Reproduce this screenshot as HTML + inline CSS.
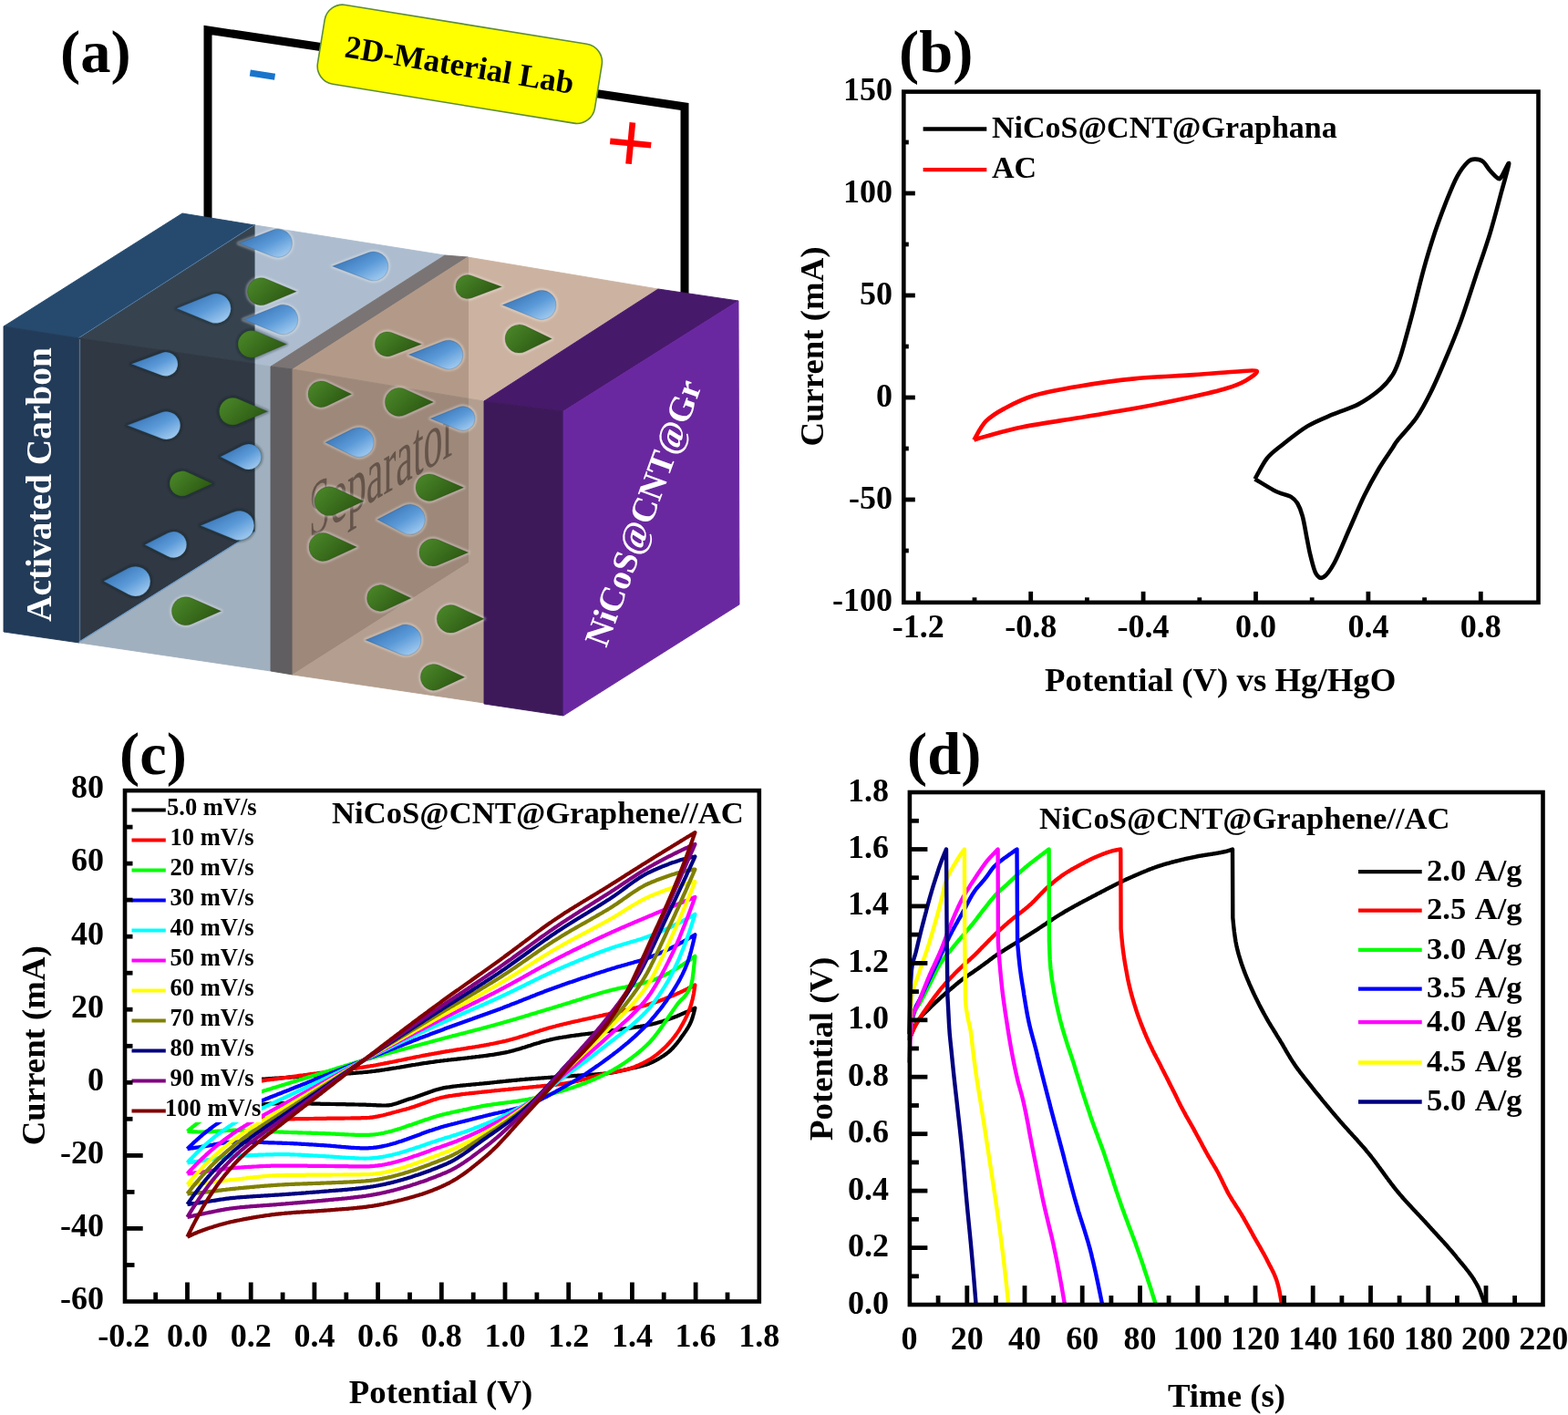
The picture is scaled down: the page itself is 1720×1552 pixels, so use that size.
<!DOCTYPE html>
<html><head><meta charset="utf-8"><title>Figure</title>
<style>html,body{margin:0;padding:0;background:#fff;}svg{display:block;}</style>
</head><body>
<svg width="1720" height="1552" viewBox="0 0 1720 1552">
<rect width="1720" height="1552" fill="#ffffff"/>
<defs><linearGradient id="gb" x1="0" y1="0" x2="1" y2="1"><stop offset="0" stop-color="#2a64a8"/><stop offset="0.55" stop-color="#5b9ad8"/><stop offset="1" stop-color="#b3d7f6"/></linearGradient><linearGradient id="gg" x1="0" y1="0" x2="1" y2="0.6"><stop offset="0" stop-color="#4c8a2a"/><stop offset="1" stop-color="#2c5812"/></linearGradient><filter id="hb" x="-20%" y="-20%" width="140%" height="140%"><feGaussianBlur stdDeviation="1"/></filter></defs>
<polyline points="228,245 228,33 355,52" fill="none" stroke="#000" stroke-width="9" stroke-linejoin="miter"/>
<polyline points="650,102 751,117 751,322" fill="none" stroke="#000" stroke-width="9" stroke-linejoin="miter"/>
<g transform="translate(504.4,69.8) rotate(9.2)"><rect x="-154" y="-43.5" width="308" height="88" rx="20" fill="#ffff00" stroke="#5e8c3a" stroke-width="1.6"/><text x="0" y="13" text-anchor="middle" font-family="Liberation Serif, serif" font-weight="bold" font-size="35">2D-Material Lab</text></g>
<text transform="translate(288.1,81.2) rotate(8.6) scale(1,1.3)" x="0" y="15.6" text-anchor="middle" font-family="Liberation Sans, sans-serif" font-weight="bold" font-size="55.6" fill="#1a74cc">&#8211;</text>
<text transform="translate(691.7,156.9) rotate(5.5)" x="0" y="31.2" text-anchor="middle" font-family="Liberation Sans, sans-serif" font-size="93" fill="#ff0000">+</text>
<polygon points="4.0,358.0 200.0,234.0 280.0,247.0 87.0,371.0" fill="#264a6e" stroke="#264a6e" stroke-width="0.9" stroke-linejoin="round"/>
<polygon points="4.0,358.0 87.0,371.0 87.0,705.0 4.0,693.0" fill="#223b58" stroke="#223b58" stroke-width="0.9" stroke-linejoin="round"/>
<line x1="87" y1="371" x2="280" y2="247" stroke="#6d9bc8" stroke-width="2"/>
<polygon points="87.0,371.0 280.0,247.0 280.0,399.0" fill="#36434f" stroke="#36434f" stroke-width="0.9" stroke-linejoin="round"/>
<polygon points="87.0,371.0 280.0,399.0 280.0,583.0 87.0,704.0" fill="#2f3843" stroke="#2f3843" stroke-width="0.9" stroke-linejoin="round"/>
<line x1="87.5" y1="372" x2="87.5" y2="704" stroke="#51708f" stroke-width="1.4"/>
<polygon points="280.0,247.0 488.0,280.0 297.0,402.0 280.0,399.5" fill="#adbdcf" stroke="#adbdcf" stroke-width="0.9" stroke-linejoin="round"/>
<polygon points="87.0,704.0 280.0,583.0 280.0,399.5 297.0,402.0 297.0,736.0 87.0,705.0" fill="#a1b0be" stroke="#a1b0be" stroke-width="0.9" stroke-linejoin="round"/>
<line x1="87" y1="704" x2="280" y2="583" stroke="#6d9bc8" stroke-width="1.2"/>
<polygon points="297.0,402.0 488.0,280.0 513.0,282.0 321.0,405.0" fill="#7a7474" stroke="#7a7474" stroke-width="0.9" stroke-linejoin="round"/>
<polygon points="297.0,402.0 321.0,405.0 321.0,740.0 297.0,736.0" fill="#605e60" stroke="#605e60" stroke-width="0.9" stroke-linejoin="round"/>
<polygon points="321.0,405.0 513.0,282.0 514.5,282.3 514.5,437.4" fill="#b39a88" stroke="#b39a88" stroke-width="0.9" stroke-linejoin="round"/>
<polygon points="514.5,282.3 722.0,317.0 531.0,440.0 514.5,437.4" fill="#ccb3a1" stroke="#ccb3a1" stroke-width="0.9" stroke-linejoin="round"/>
<polygon points="321.0,405.0 514.5,437.4 514.5,617.0 321.0,740.0" fill="#9d887a" stroke="#9d887a" stroke-width="0.9" stroke-linejoin="round"/>
<polygon points="321.0,740.0 514.5,617.0 514.5,437.4 531.0,440.0 531.0,771.0" fill="#b39e8f" stroke="#b39e8f" stroke-width="0.9" stroke-linejoin="round"/>
<text transform="matrix(0.487,-0.287,0,1,339,591)" font-family="Liberation Serif, serif" font-size="86" fill="#5f4f45" fill-opacity="0.92">Separator</text>
<polygon points="531.0,440.0 722.0,317.0 810.0,330.0 618.0,451.0" fill="#47196b" stroke="#47196b" stroke-width="0.9" stroke-linejoin="round"/>
<polygon points="531.0,440.0 618.0,451.0 618.0,785.0 531.0,772.0" fill="#3d195a" stroke="#3d195a" stroke-width="0.9" stroke-linejoin="round"/>
<polygon points="618.0,451.0 810.0,330.0 811.0,663.0 618.0,785.0" fill="#6a28a0" stroke="#6a28a0" stroke-width="0.9" stroke-linejoin="round"/>
<text transform="translate(56,531.6) rotate(-90)" text-anchor="middle" font-family="Liberation Serif, serif" font-weight="bold" font-size="39.4" fill="#ffffff">Activated Carbon</text>
<text transform="translate(717.5,567) rotate(-70)" text-anchor="middle" font-family="Liberation Serif, serif" font-weight="bold" font-size="38.5" fill="#ffffff">NiCoS@CNT@Gr</text>
<path d="M261.7,266.8 L299.5,252.3 A15.5,15.5 0 1 1 299.5,281.3 Z" fill="none" stroke="#ffffff" stroke-opacity="0.35" stroke-width="4" stroke-linejoin="round" filter="url(#hb)"/>
<path d="M261.7,266.8 L299.5,252.3 A15.5,15.5 0 1 1 299.5,281.3 Z" fill="url(#gb)" stroke="#1d2a36" stroke-opacity="0.18" stroke-width="1.2"/>
<path d="M364.7,292.0 L404.4,277.1 A15.9,15.9 0 1 1 404.4,306.9 Z" fill="none" stroke="#ffffff" stroke-opacity="0.35" stroke-width="4" stroke-linejoin="round" filter="url(#hb)"/>
<path d="M364.7,292.0 L404.4,277.1 A15.9,15.9 0 1 1 404.4,306.9 Z" fill="url(#gb)" stroke="#1d2a36" stroke-opacity="0.18" stroke-width="1.2"/>
<path d="M193.6,338.3 L230.9,323.2 A16.3,16.3 0 1 1 230.9,353.4 Z" fill="none" stroke="#10161c" stroke-opacity="0.3" stroke-width="4" stroke-linejoin="round" filter="url(#hb)"/>
<path d="M193.6,338.3 L230.9,323.2 A16.3,16.3 0 1 1 230.9,353.4 Z" fill="url(#gb)" stroke="#1d2a36" stroke-opacity="0.18" stroke-width="1.2"/>
<path d="M267.0,350.5 L304.5,335.5 A16.2,16.2 0 1 1 304.5,365.5 Z" fill="none" stroke="#ffffff" stroke-opacity="0.35" stroke-width="4" stroke-linejoin="round" filter="url(#hb)"/>
<path d="M267.0,350.5 L304.5,335.5 A16.2,16.2 0 1 1 304.5,365.5 Z" fill="url(#gb)" stroke="#1d2a36" stroke-opacity="0.18" stroke-width="1.2"/>
<path d="M144.0,399.3 L177.4,386.9 A13.2,13.2 0 1 1 177.4,411.7 Z" fill="none" stroke="#10161c" stroke-opacity="0.3" stroke-width="4" stroke-linejoin="round" filter="url(#hb)"/>
<path d="M144.0,399.3 L177.4,386.9 A13.2,13.2 0 1 1 177.4,411.7 Z" fill="url(#gb)" stroke="#1d2a36" stroke-opacity="0.18" stroke-width="1.2"/>
<path d="M448.4,389.1 L486.2,374.3 A15.9,15.9 0 1 1 486.2,403.9 Z" fill="none" stroke="#ffffff" stroke-opacity="0.35" stroke-width="4" stroke-linejoin="round" filter="url(#hb)"/>
<path d="M448.4,389.1 L486.2,374.3 A15.9,15.9 0 1 1 486.2,403.9 Z" fill="url(#gb)" stroke="#1d2a36" stroke-opacity="0.18" stroke-width="1.2"/>
<path d="M472.3,459.0 L502.7,446.7 A13.3,13.3 0 1 1 502.7,471.3 Z" fill="none" stroke="#ffffff" stroke-opacity="0.35" stroke-width="4" stroke-linejoin="round" filter="url(#hb)"/>
<path d="M472.3,459.0 L502.7,446.7 A13.3,13.3 0 1 1 502.7,471.3 Z" fill="url(#gb)" stroke="#1d2a36" stroke-opacity="0.18" stroke-width="1.2"/>
<path d="M139.4,466.6 L177.1,452.3 A15.3,15.3 0 1 1 177.1,480.9 Z" fill="none" stroke="#10161c" stroke-opacity="0.3" stroke-width="4" stroke-linejoin="round" filter="url(#hb)"/>
<path d="M139.4,466.6 L177.1,452.3 A15.3,15.3 0 1 1 177.1,480.9 Z" fill="url(#gb)" stroke="#1d2a36" stroke-opacity="0.18" stroke-width="1.2"/>
<path d="M357.0,485.2 L386.6,470.6 A16.3,16.3 0 1 1 386.6,499.8 Z" fill="none" stroke="#ffffff" stroke-opacity="0.35" stroke-width="4" stroke-linejoin="round" filter="url(#hb)"/>
<path d="M357.0,485.2 L386.6,470.6 A16.3,16.3 0 1 1 386.6,499.8 Z" fill="url(#gb)" stroke="#1d2a36" stroke-opacity="0.18" stroke-width="1.2"/>
<path d="M241.6,501.0 L266.3,488.5 A14.0,14.0 0 1 1 266.3,513.5 Z" fill="none" stroke="#10161c" stroke-opacity="0.3" stroke-width="4" stroke-linejoin="round" filter="url(#hb)"/>
<path d="M241.6,501.0 L266.3,488.5 A14.0,14.0 0 1 1 266.3,513.5 Z" fill="url(#gb)" stroke="#1d2a36" stroke-opacity="0.18" stroke-width="1.2"/>
<path d="M413.9,569.8 L442.3,555.1 A16.5,16.5 0 1 1 442.3,584.5 Z" fill="none" stroke="#ffffff" stroke-opacity="0.35" stroke-width="4" stroke-linejoin="round" filter="url(#hb)"/>
<path d="M413.9,569.8 L442.3,555.1 A16.5,16.5 0 1 1 442.3,584.5 Z" fill="url(#gb)" stroke="#1d2a36" stroke-opacity="0.18" stroke-width="1.2"/>
<path d="M219.8,576.4 L256.5,561.4 A16.2,16.2 0 1 1 256.5,591.4 Z" fill="none" stroke="#10161c" stroke-opacity="0.3" stroke-width="4" stroke-linejoin="round" filter="url(#hb)"/>
<path d="M219.8,576.4 L256.5,561.4 A16.2,16.2 0 1 1 256.5,591.4 Z" fill="url(#gb)" stroke="#1d2a36" stroke-opacity="0.18" stroke-width="1.2"/>
<path d="M158.7,597.4 L184.1,584.6 A14.3,14.3 0 1 1 184.1,610.2 Z" fill="none" stroke="#10161c" stroke-opacity="0.3" stroke-width="4" stroke-linejoin="round" filter="url(#hb)"/>
<path d="M158.7,597.4 L184.1,584.6 A14.3,14.3 0 1 1 184.1,610.2 Z" fill="url(#gb)" stroke="#1d2a36" stroke-opacity="0.18" stroke-width="1.2"/>
<path d="M113.5,637.6 L140.9,623.1 A16.4,16.4 0 1 1 140.9,652.1 Z" fill="none" stroke="#10161c" stroke-opacity="0.3" stroke-width="4" stroke-linejoin="round" filter="url(#hb)"/>
<path d="M113.5,637.6 L140.9,623.1 A16.4,16.4 0 1 1 140.9,652.1 Z" fill="url(#gb)" stroke="#1d2a36" stroke-opacity="0.18" stroke-width="1.2"/>
<path d="M401.0,701.9 L438.7,686.4 A16.8,16.8 0 1 1 438.7,717.4 Z" fill="none" stroke="#ffffff" stroke-opacity="0.35" stroke-width="4" stroke-linejoin="round" filter="url(#hb)"/>
<path d="M401.0,701.9 L438.7,686.4 A16.8,16.8 0 1 1 438.7,717.4 Z" fill="url(#gb)" stroke="#1d2a36" stroke-opacity="0.18" stroke-width="1.2"/>
<path d="M551.2,334.5 L588.0,319.7 A16.0,16.0 0 1 1 588.0,349.3 Z" fill="none" stroke="#ffffff" stroke-opacity="0.35" stroke-width="4" stroke-linejoin="round" filter="url(#hb)"/>
<path d="M551.2,334.5 L588.0,319.7 A16.0,16.0 0 1 1 588.0,349.3 Z" fill="url(#gb)" stroke="#1d2a36" stroke-opacity="0.18" stroke-width="1.2"/>
<path d="M325.2,319.8 L292.3,306.0 A15.0,15.0 0 1 0 292.3,333.6 Z" fill="none" stroke="#ffffff" stroke-opacity="0.35" stroke-width="4" stroke-linejoin="round" filter="url(#hb)"/>
<path d="M325.2,319.8 L292.3,306.0 A15.0,15.0 0 1 0 292.3,333.6 Z" fill="url(#gg)" stroke="#1d2a16" stroke-opacity="0.2" stroke-width="1.2"/>
<path d="M314.1,377.5 L281.8,363.7 A15.0,15.0 0 1 0 281.8,391.3 Z" fill="none" stroke="#10161c" stroke-opacity="0.3" stroke-width="4" stroke-linejoin="round" filter="url(#hb)"/>
<path d="M314.1,377.5 L281.8,363.7 A15.0,15.0 0 1 0 281.8,391.3 Z" fill="url(#gg)" stroke="#1d2a16" stroke-opacity="0.2" stroke-width="1.2"/>
<path d="M550.3,314.6 L517.5,302.4 A13.0,13.0 0 1 0 517.5,326.8 Z" fill="none" stroke="#ffffff" stroke-opacity="0.35" stroke-width="4" stroke-linejoin="round" filter="url(#hb)"/>
<path d="M550.3,314.6 L517.5,302.4 A13.0,13.0 0 1 0 517.5,326.8 Z" fill="url(#gg)" stroke="#1d2a16" stroke-opacity="0.2" stroke-width="1.2"/>
<path d="M605.2,371.6 L576.2,357.6 A15.5,15.5 0 1 0 576.2,385.6 Z" fill="none" stroke="#ffffff" stroke-opacity="0.35" stroke-width="4" stroke-linejoin="round" filter="url(#hb)"/>
<path d="M605.2,371.6 L576.2,357.6 A15.5,15.5 0 1 0 576.2,385.6 Z" fill="url(#gg)" stroke="#1d2a16" stroke-opacity="0.2" stroke-width="1.2"/>
<path d="M462.3,377.4 L429.7,364.8 A13.5,13.5 0 1 0 429.7,390.0 Z" fill="none" stroke="#ffffff" stroke-opacity="0.35" stroke-width="4" stroke-linejoin="round" filter="url(#hb)"/>
<path d="M462.3,377.4 L429.7,364.8 A13.5,13.5 0 1 0 429.7,390.0 Z" fill="url(#gg)" stroke="#1d2a16" stroke-opacity="0.2" stroke-width="1.2"/>
<path d="M385.6,432.3 L358.6,419.3 A14.4,14.4 0 1 0 358.6,445.3 Z" fill="none" stroke="#ffffff" stroke-opacity="0.35" stroke-width="4" stroke-linejoin="round" filter="url(#hb)"/>
<path d="M385.6,432.3 L358.6,419.3 A14.4,14.4 0 1 0 358.6,445.3 Z" fill="url(#gg)" stroke="#1d2a16" stroke-opacity="0.2" stroke-width="1.2"/>
<path d="M475.4,441.0 L444.3,426.9 A15.5,15.5 0 1 0 444.3,455.1 Z" fill="none" stroke="#ffffff" stroke-opacity="0.35" stroke-width="4" stroke-linejoin="round" filter="url(#hb)"/>
<path d="M475.4,441.0 L444.3,426.9 A15.5,15.5 0 1 0 444.3,455.1 Z" fill="url(#gg)" stroke="#1d2a16" stroke-opacity="0.2" stroke-width="1.2"/>
<path d="M293.3,451.3 L261.3,437.5 A15.0,15.0 0 1 0 261.3,465.1 Z" fill="none" stroke="#10161c" stroke-opacity="0.3" stroke-width="4" stroke-linejoin="round" filter="url(#hb)"/>
<path d="M293.3,451.3 L261.3,437.5 A15.0,15.0 0 1 0 261.3,465.1 Z" fill="url(#gg)" stroke="#1d2a16" stroke-opacity="0.2" stroke-width="1.2"/>
<path d="M233.2,530.4 L205.4,517.8 A13.8,13.8 0 1 0 205.4,543.0 Z" fill="none" stroke="#10161c" stroke-opacity="0.3" stroke-width="4" stroke-linejoin="round" filter="url(#hb)"/>
<path d="M233.2,530.4 L205.4,517.8 A13.8,13.8 0 1 0 205.4,543.0 Z" fill="url(#gg)" stroke="#1d2a16" stroke-opacity="0.2" stroke-width="1.2"/>
<path d="M508.6,534.7 L476.7,521.1 A14.8,14.8 0 1 0 476.7,548.3 Z" fill="none" stroke="#ffffff" stroke-opacity="0.35" stroke-width="4" stroke-linejoin="round" filter="url(#hb)"/>
<path d="M508.6,534.7 L476.7,521.1 A14.8,14.8 0 1 0 476.7,548.3 Z" fill="url(#gg)" stroke="#1d2a16" stroke-opacity="0.2" stroke-width="1.2"/>
<path d="M398.8,549.7 L367.8,535.3 A15.9,15.9 0 1 0 367.8,564.1 Z" fill="none" stroke="#ffffff" stroke-opacity="0.35" stroke-width="4" stroke-linejoin="round" filter="url(#hb)"/>
<path d="M398.8,549.7 L367.8,535.3 A15.9,15.9 0 1 0 367.8,564.1 Z" fill="url(#gg)" stroke="#1d2a16" stroke-opacity="0.2" stroke-width="1.2"/>
<path d="M391.3,600.0 L360.9,585.9 A15.5,15.5 0 1 0 360.9,614.1 Z" fill="none" stroke="#ffffff" stroke-opacity="0.35" stroke-width="4" stroke-linejoin="round" filter="url(#hb)"/>
<path d="M391.3,600.0 L360.9,585.9 A15.5,15.5 0 1 0 360.9,614.1 Z" fill="url(#gg)" stroke="#1d2a16" stroke-opacity="0.2" stroke-width="1.2"/>
<path d="M513.6,605.9 L480.8,592.1 A15.0,15.0 0 1 0 480.8,619.7 Z" fill="none" stroke="#ffffff" stroke-opacity="0.35" stroke-width="4" stroke-linejoin="round" filter="url(#hb)"/>
<path d="M513.6,605.9 L480.8,592.1 A15.0,15.0 0 1 0 480.8,619.7 Z" fill="url(#gg)" stroke="#1d2a16" stroke-opacity="0.2" stroke-width="1.2"/>
<path d="M242.5,670.3 L210.1,656.1 A15.5,15.5 0 1 0 210.1,684.5 Z" fill="none" stroke="#ffffff" stroke-opacity="0.35" stroke-width="4" stroke-linejoin="round" filter="url(#hb)"/>
<path d="M242.5,670.3 L210.1,656.1 A15.5,15.5 0 1 0 210.1,684.5 Z" fill="url(#gg)" stroke="#1d2a16" stroke-opacity="0.2" stroke-width="1.2"/>
<path d="M450.9,656.0 L422.9,642.9 A14.4,14.4 0 1 0 422.9,669.1 Z" fill="none" stroke="#ffffff" stroke-opacity="0.35" stroke-width="4" stroke-linejoin="round" filter="url(#hb)"/>
<path d="M450.9,656.0 L422.9,642.9 A14.4,14.4 0 1 0 422.9,669.1 Z" fill="url(#gg)" stroke="#1d2a16" stroke-opacity="0.2" stroke-width="1.2"/>
<path d="M531.0,678.8 L500.9,664.9 A15.3,15.3 0 1 0 500.9,692.7 Z" fill="none" stroke="#ffffff" stroke-opacity="0.35" stroke-width="4" stroke-linejoin="round" filter="url(#hb)"/>
<path d="M531.0,678.8 L500.9,664.9 A15.3,15.3 0 1 0 500.9,692.7 Z" fill="url(#gg)" stroke="#1d2a16" stroke-opacity="0.2" stroke-width="1.2"/>
<path d="M509.7,742.8 L481.9,729.8 A14.4,14.4 0 1 0 481.9,755.8 Z" fill="none" stroke="#ffffff" stroke-opacity="0.35" stroke-width="4" stroke-linejoin="round" filter="url(#hb)"/>
<path d="M509.7,742.8 L481.9,729.8 A14.4,14.4 0 1 0 481.9,755.8 Z" fill="url(#gg)" stroke="#1d2a16" stroke-opacity="0.2" stroke-width="1.2"/>
<text x="66" y="78.5" font-family="Liberation Serif, serif" font-weight="bold" font-size="66.5">(a)</text>
<path d="M1068.4,482.6 C1070.5,479.2 1075.8,468.0 1081.3,462.2 C1086.9,456.5 1092.9,452.8 1101.7,448.1 C1110.5,443.4 1120.8,437.8 1134.4,433.8 C1148.0,429.7 1164.8,426.7 1183.1,423.7 C1201.4,420.6 1223.9,417.4 1244.2,415.4 C1264.6,413.3 1287.0,412.6 1305.3,411.4 C1323.6,410.1 1341.9,408.5 1354.1,407.8 C1366.2,407.0 1376.4,405.3 1378.4,406.9 C1380.5,408.5 1371.8,414.3 1366.4,417.4 C1361.0,420.5 1356.2,422.6 1346.0,425.7 C1335.9,428.8 1322.3,432.0 1305.3,435.8 C1288.3,439.5 1264.6,444.4 1244.2,448.1 C1223.9,451.8 1203.5,454.8 1183.1,458.2 C1162.8,461.5 1139.0,464.9 1122.1,468.3 C1105.1,471.7 1090.3,476.2 1081.3,478.6 C1072.4,480.9 1070.5,481.9 1068.4,482.6" fill="none" stroke="#ff0000" stroke-width="4.6" stroke-linejoin="round"/>
<path d="M1376.6,525.4 C1378.8,521.6 1384.9,509.0 1389.8,502.8 C1394.8,496.5 1399.1,493.9 1406.5,488.0 C1413.9,482.1 1425.0,473.0 1434.3,467.4 C1443.6,461.8 1453.0,458.4 1462.3,454.4 C1471.6,450.4 1481.4,448.0 1490.1,443.4 C1498.8,438.8 1508.3,431.9 1514.5,426.6 C1520.7,421.3 1524.0,416.8 1527.4,411.6 C1530.8,406.3 1532.7,400.6 1534.8,395.0 C1536.9,389.4 1537.7,386.2 1540.1,377.8 C1542.5,369.3 1545.7,357.9 1549.3,344.2 C1552.9,330.4 1557.6,310.2 1561.7,295.3 C1565.8,280.4 1570.0,267.0 1574.0,254.8 C1578.1,242.6 1582.0,232.3 1586.0,222.1 C1590.1,211.9 1594.3,201.1 1598.4,193.6 C1602.4,186.2 1607.0,180.5 1610.4,177.3 C1613.8,174.1 1616.0,174.6 1618.7,174.6 C1621.5,174.6 1624.1,175.1 1626.8,177.3 C1629.4,179.4 1632.1,184.5 1634.8,187.6 C1637.5,190.6 1641.1,194.6 1643.1,195.6 C1645.2,196.7 1645.1,196.4 1647.1,193.6 C1649.1,190.9 1655.2,176.6 1655.2,179.3 C1655.2,182.0 1650.5,197.4 1647.1,210.0 C1643.7,222.6 1639.5,239.2 1634.8,254.8 C1630.1,270.4 1624.1,287.2 1618.7,303.4 C1613.3,319.6 1607.8,337.3 1602.4,352.2 C1596.9,367.2 1591.5,380.1 1586.0,393.0 C1580.6,405.9 1575.1,418.9 1569.7,429.7 C1564.3,440.6 1559.7,449.4 1553.7,458.2 C1547.6,467.0 1537.7,477.0 1533.3,482.6 C1528.9,488.2 1530.9,486.3 1527.4,491.6 C1524.0,496.8 1517.8,505.3 1512.6,514.0 C1507.5,522.6 1502.0,532.5 1496.6,543.5 C1491.2,554.6 1485.7,568.0 1480.2,580.3 C1474.8,592.5 1468.6,608.2 1463.9,617.0 C1459.1,625.8 1455.2,631.1 1451.8,633.1 C1448.5,635.1 1445.9,633.2 1443.5,629.1 C1441.1,625.0 1439.0,615.1 1437.3,608.7 C1435.7,602.3 1435.1,597.7 1433.6,590.6 C1432.2,583.4 1430.5,572.3 1428.7,565.9 C1427.0,559.5 1425.3,555.5 1423.2,552.0 C1421.0,548.5 1418.8,546.6 1416.1,544.9 C1413.3,543.1 1409.9,542.9 1406.8,541.7 C1403.7,540.5 1402.3,540.4 1397.2,537.7 C1392.2,535.0 1380.0,527.4 1376.6,525.4" fill="none" stroke="#000" stroke-width="4.6" stroke-linejoin="round"/>
<rect x="991.3" y="100.6" width="696.2" height="560.2" fill="none" stroke="#000" stroke-width="4.6"/>
<text x="979.0" y="670.2" font-family="Liberation Serif, serif" font-weight="bold" font-size="36" text-anchor="end">-100</text>
<line x1="991.3" y1="604.0" x2="996.8" y2="604.0" stroke="#000" stroke-width="4.8"/>
<line x1="991.3" y1="548.0" x2="1003.8" y2="548.0" stroke="#000" stroke-width="4.8"/>
<text x="979.0" y="558.2" font-family="Liberation Serif, serif" font-weight="bold" font-size="36" text-anchor="end">-50</text>
<line x1="991.3" y1="492.0" x2="996.8" y2="492.0" stroke="#000" stroke-width="4.8"/>
<line x1="991.3" y1="436.0" x2="1003.8" y2="436.0" stroke="#000" stroke-width="4.8"/>
<text x="979.0" y="446.2" font-family="Liberation Serif, serif" font-weight="bold" font-size="36" text-anchor="end">0</text>
<line x1="991.3" y1="380.0" x2="996.8" y2="380.0" stroke="#000" stroke-width="4.8"/>
<line x1="991.3" y1="324.0" x2="1003.8" y2="324.0" stroke="#000" stroke-width="4.8"/>
<text x="979.0" y="334.2" font-family="Liberation Serif, serif" font-weight="bold" font-size="36" text-anchor="end">50</text>
<line x1="991.3" y1="268.0" x2="996.8" y2="268.0" stroke="#000" stroke-width="4.8"/>
<line x1="991.3" y1="212.0" x2="1003.8" y2="212.0" stroke="#000" stroke-width="4.8"/>
<text x="979.0" y="222.2" font-family="Liberation Serif, serif" font-weight="bold" font-size="36" text-anchor="end">100</text>
<line x1="991.3" y1="156.0" x2="996.8" y2="156.0" stroke="#000" stroke-width="4.8"/>
<text x="979.0" y="110.2" font-family="Liberation Serif, serif" font-weight="bold" font-size="36" text-anchor="end">150</text>
<line x1="1007.3" y1="660.8" x2="1007.3" y2="648.8" stroke="#000" stroke-width="4.8"/>
<text x="1007.3" y="698.5" font-family="Liberation Serif, serif" font-weight="bold" font-size="36" text-anchor="middle">-1.2</text>
<line x1="1069.0" y1="660.8" x2="1069.0" y2="655.3" stroke="#000" stroke-width="4.8"/>
<line x1="1130.7" y1="660.8" x2="1130.7" y2="648.8" stroke="#000" stroke-width="4.8"/>
<text x="1130.7" y="698.5" font-family="Liberation Serif, serif" font-weight="bold" font-size="36" text-anchor="middle">-0.8</text>
<line x1="1192.4" y1="660.8" x2="1192.4" y2="655.3" stroke="#000" stroke-width="4.8"/>
<line x1="1254.1" y1="660.8" x2="1254.1" y2="648.8" stroke="#000" stroke-width="4.8"/>
<text x="1254.1" y="698.5" font-family="Liberation Serif, serif" font-weight="bold" font-size="36" text-anchor="middle">-0.4</text>
<line x1="1315.8" y1="660.8" x2="1315.8" y2="655.3" stroke="#000" stroke-width="4.8"/>
<line x1="1377.5" y1="660.8" x2="1377.5" y2="648.8" stroke="#000" stroke-width="4.8"/>
<text x="1377.5" y="698.5" font-family="Liberation Serif, serif" font-weight="bold" font-size="36" text-anchor="middle">0.0</text>
<line x1="1439.2" y1="660.8" x2="1439.2" y2="655.3" stroke="#000" stroke-width="4.8"/>
<line x1="1500.9" y1="660.8" x2="1500.9" y2="648.8" stroke="#000" stroke-width="4.8"/>
<text x="1500.9" y="698.5" font-family="Liberation Serif, serif" font-weight="bold" font-size="36" text-anchor="middle">0.4</text>
<line x1="1562.6" y1="660.8" x2="1562.6" y2="655.3" stroke="#000" stroke-width="4.8"/>
<line x1="1624.3" y1="660.8" x2="1624.3" y2="648.8" stroke="#000" stroke-width="4.8"/>
<text x="1624.3" y="698.5" font-family="Liberation Serif, serif" font-weight="bold" font-size="36" text-anchor="middle">0.8</text>
<text transform="translate(903,380) rotate(-90)" font-family="Liberation Serif, serif" font-weight="bold" font-size="36.8" text-anchor="middle">Current (mA)</text>
<text x="1338.7" y="757.5" font-family="Liberation Serif, serif" font-weight="bold" font-size="36.8" text-anchor="middle">Potential (V) vs Hg/HgO</text>
<line x1="1012.6" y1="141.5" x2="1082.3" y2="141.5" stroke="#000" stroke-width="4.3"/>
<text x="1088.0" y="151.3" font-family="Liberation Serif, serif" font-weight="bold" font-size="34" text-anchor="start">NiCoS@CNT@Graphana</text>
<line x1="1012.6" y1="186.2" x2="1082.3" y2="186.2" stroke="#ff0000" stroke-width="4.3"/>
<text x="1088.0" y="194.5" font-family="Liberation Serif, serif" font-weight="bold" font-size="34" text-anchor="start">AC</text>
<text x="986" y="78.5" font-family="Liberation Serif, serif" font-weight="bold" font-size="66.5">(b)</text>
<path d="M205.5,1215.3 L206.9,1214.1 L208.3,1213.0 L209.7,1211.9 L211.1,1210.8 L212.5,1209.7 L213.9,1208.7 L215.3,1207.6 L216.7,1206.7 L218.1,1205.7 L219.5,1204.7 L220.9,1203.8 L222.2,1202.9 L223.6,1202.1 L225.0,1201.2 L226.4,1200.4 L227.8,1199.6 L229.2,1198.9 L230.6,1198.1 L232.0,1197.4 L233.4,1196.7 L234.8,1196.0 L236.2,1195.4 L237.6,1194.7 L239.0,1194.1 L240.4,1193.6 L241.8,1193.0 L243.2,1192.4 L244.6,1191.9 L246.0,1191.4 L247.4,1190.9 L248.8,1190.5 L250.2,1190.0 L251.6,1189.6 L253.0,1189.2 L254.4,1188.8 L255.7,1188.4 L257.1,1188.1 L258.5,1187.7 L259.9,1187.4 L261.3,1187.1 L262.7,1186.8 L264.1,1186.5 L265.5,1186.3 L266.9,1186.0 L268.3,1185.8 L269.7,1185.6 L271.1,1185.4 L272.5,1185.2 L273.9,1185.0 L275.3,1184.8 L276.7,1184.7 L278.1,1184.5 L279.5,1184.4 L280.9,1184.3 L282.3,1184.1 L283.7,1184.0 L285.1,1183.9 L286.5,1183.8 L287.8,1183.7 L289.2,1183.6 L290.6,1183.5 L292.0,1183.4 L293.4,1183.3 L294.8,1183.2 L296.2,1183.1 L297.6,1183.0 L299.0,1182.9 L300.4,1182.8 L301.8,1182.7 L303.2,1182.6 L304.6,1182.6 L306.0,1182.5 L307.4,1182.4 L308.8,1182.3 L310.2,1182.2 L311.6,1182.1 L313.0,1182.0 L314.4,1181.9 L315.8,1181.8 L317.2,1181.7 L318.6,1181.6 L320.0,1181.5 L321.3,1181.4 L322.7,1181.3 L324.1,1181.2 L325.5,1181.1 L326.9,1181.0 L328.3,1180.9 L329.7,1180.8 L331.1,1180.7 L332.5,1180.6 L333.9,1180.5 L335.3,1180.5 L336.7,1180.4 L338.1,1180.3 L339.5,1180.2 L340.9,1180.1 L342.3,1180.0 L343.7,1179.9 L345.1,1179.8 L346.5,1179.7 L347.9,1179.6 L349.3,1179.5 L350.7,1179.4 L352.1,1179.3 L353.4,1179.2 L354.8,1179.1 L356.2,1179.0 L357.6,1178.9 L359.0,1178.8 L360.4,1178.8 L361.8,1178.7 L363.2,1178.6 L364.6,1178.5 L366.0,1178.4 L367.4,1178.3 L368.8,1178.2 L370.2,1178.2 L371.6,1178.1 L373.0,1178.0 L374.4,1177.9 L375.8,1177.8 L377.2,1177.7 L378.6,1177.6 L380.0,1177.5 L381.4,1177.5 L382.8,1177.4 L384.2,1177.3 L385.6,1177.2 L386.9,1177.1 L388.3,1177.0 L389.7,1176.9 L391.1,1176.7 L392.5,1176.6 L393.9,1176.5 L395.3,1176.4 L396.7,1176.3 L398.1,1176.2 L399.5,1176.0 L400.9,1175.9 L402.3,1175.8 L403.7,1175.6 L405.1,1175.5 L406.5,1175.3 L407.9,1175.1 L409.3,1175.0 L410.7,1174.8 L412.1,1174.6 L413.5,1174.4 L414.9,1174.3 L416.3,1174.1 L417.7,1173.9 L419.0,1173.7 L420.4,1173.5 L421.8,1173.3 L423.2,1173.0 L424.6,1172.8 L426.0,1172.6 L427.4,1172.4 L428.8,1172.2 L430.2,1171.9 L431.6,1171.7 L433.0,1171.5 L434.4,1171.3 L435.8,1171.0 L437.2,1170.8 L438.6,1170.6 L440.0,1170.3 L441.4,1170.1 L442.8,1169.9 L444.2,1169.6 L445.6,1169.4 L447.0,1169.2 L448.4,1168.9 L449.8,1168.7 L451.2,1168.4 L452.5,1168.2 L453.9,1168.0 L455.3,1167.8 L456.7,1167.5 L458.1,1167.3 L459.5,1167.1 L460.9,1166.8 L462.3,1166.6 L463.7,1166.4 L465.1,1166.2 L466.5,1166.0 L467.9,1165.8 L469.3,1165.6 L470.7,1165.4 L472.1,1165.2 L473.5,1165.0 L474.9,1164.8 L476.3,1164.6 L477.7,1164.4 L479.1,1164.2 L480.5,1164.0 L481.9,1163.9 L483.3,1163.7 L484.6,1163.5 L486.0,1163.4 L487.4,1163.2 L488.8,1163.0 L490.2,1162.9 L491.6,1162.7 L493.0,1162.5 L494.4,1162.4 L495.8,1162.2 L497.2,1162.1 L498.6,1161.9 L500.0,1161.8 L501.4,1161.6 L502.8,1161.4 L504.2,1161.3 L505.6,1161.1 L507.0,1161.0 L508.4,1160.8 L509.8,1160.7 L511.2,1160.5 L512.6,1160.4 L514.0,1160.2 L515.4,1160.0 L516.8,1159.9 L518.1,1159.7 L519.5,1159.5 L520.9,1159.4 L522.3,1159.2 L523.7,1159.0 L525.1,1158.9 L526.5,1158.7 L527.9,1158.5 L529.3,1158.3 L530.7,1158.2 L532.1,1158.0 L533.5,1157.8 L534.9,1157.6 L536.3,1157.4 L537.7,1157.2 L539.1,1157.0 L540.5,1156.8 L541.9,1156.6 L543.3,1156.3 L544.7,1156.1 L546.1,1155.9 L547.5,1155.7 L548.9,1155.4 L550.2,1155.2 L551.6,1154.9 L553.0,1154.7 L554.4,1154.4 L555.8,1154.1 L557.2,1153.8 L558.6,1153.4 L560.0,1153.1 L561.4,1152.7 L562.8,1152.4 L564.2,1152.0 L565.6,1151.6 L567.0,1151.2 L568.4,1150.8 L569.8,1150.4 L571.2,1150.0 L572.6,1149.5 L574.0,1149.1 L575.4,1148.7 L576.8,1148.2 L578.2,1147.8 L579.6,1147.3 L581.0,1146.9 L582.4,1146.5 L583.7,1146.0 L585.1,1145.6 L586.5,1145.1 L587.9,1144.7 L589.3,1144.3 L590.7,1143.9 L592.1,1143.4 L593.5,1143.0 L594.9,1142.6 L596.3,1142.2 L597.7,1141.8 L599.1,1141.5 L600.5,1141.1 L601.9,1140.8 L603.3,1140.4 L604.7,1140.1 L606.1,1139.8 L607.5,1139.5 L608.9,1139.2 L610.3,1138.9 L611.7,1138.7 L613.1,1138.4 L614.5,1138.2 L615.8,1138.0 L617.2,1137.7 L618.6,1137.5 L620.0,1137.3 L621.4,1137.1 L622.8,1136.8 L624.2,1136.6 L625.6,1136.4 L627.0,1136.2 L628.4,1136.0 L629.8,1135.8 L631.2,1135.6 L632.6,1135.4 L634.0,1135.3 L635.4,1135.1 L636.8,1134.9 L638.2,1134.7 L639.6,1134.5 L641.0,1134.3 L642.4,1134.2 L643.8,1134.0 L645.2,1133.8 L646.6,1133.6 L648.0,1133.5 L649.3,1133.3 L650.7,1133.1 L652.1,1132.9 L653.5,1132.7 L654.9,1132.6 L656.3,1132.4 L657.7,1132.2 L659.1,1132.0 L660.5,1131.8 L661.9,1131.6 L663.3,1131.4 L664.7,1131.2 L666.1,1131.1 L667.5,1130.8 L668.9,1130.6 L670.3,1130.4 L671.7,1130.2 L673.1,1130.0 L674.5,1129.8 L675.9,1129.7 L677.3,1129.5 L678.7,1129.3 L680.1,1129.1 L681.4,1128.9 L682.8,1128.7 L684.2,1128.5 L685.6,1128.3 L687.0,1128.1 L688.4,1128.0 L689.8,1127.8 L691.2,1127.6 L692.6,1127.4 L694.0,1127.2 L695.4,1127.0 L696.8,1126.7 L698.2,1126.5 L699.6,1126.3 L701.0,1126.1 L702.4,1125.9 L703.8,1125.6 L705.2,1125.4 L706.6,1125.1 L708.0,1124.9 L709.4,1124.6 L710.8,1124.3 L712.2,1124.0 L713.6,1123.7 L714.9,1123.4 L716.3,1123.1 L717.7,1122.7 L719.1,1122.4 L720.5,1122.0 L721.9,1121.6 L723.3,1121.2 L724.7,1120.8 L726.1,1120.4 L727.5,1120.0 L728.9,1119.5 L730.3,1119.1 L731.7,1118.6 L733.1,1118.1 L734.5,1117.6 L735.9,1117.1 L737.3,1116.6 L738.7,1116.0 L740.1,1115.5 L741.5,1114.9 L742.9,1114.4 L744.3,1113.8 L745.7,1113.2 L747.0,1112.6 L748.4,1112.0 L749.8,1111.4 L751.2,1110.8 L752.6,1110.2 L754.0,1109.6 L755.4,1108.9 L756.8,1108.3 L758.2,1107.6 L759.6,1107.0 L761.0,1106.3 L762.4,1105.6 L761.0,1111.3 L759.6,1116.3 L758.2,1120.1 L756.8,1123.2 L755.4,1125.8 L754.0,1128.2 L752.6,1130.4 L751.2,1132.4 L749.8,1134.4 L748.4,1136.3 L747.0,1138.3 L745.7,1140.2 L744.3,1142.0 L742.9,1143.8 L741.5,1145.5 L740.1,1147.1 L738.7,1148.7 L737.3,1150.2 L735.9,1151.6 L734.5,1152.9 L733.1,1154.1 L731.7,1155.2 L730.3,1156.2 L728.9,1157.2 L727.5,1158.2 L726.1,1159.1 L724.7,1160.0 L723.3,1160.8 L721.9,1161.7 L720.5,1162.4 L719.1,1163.2 L717.7,1163.9 L716.3,1164.6 L714.9,1165.2 L713.6,1165.8 L712.2,1166.4 L710.8,1166.9 L709.4,1167.4 L708.0,1167.9 L706.6,1168.3 L705.2,1168.8 L703.8,1169.2 L702.4,1169.5 L701.0,1169.9 L699.6,1170.2 L698.2,1170.6 L696.8,1170.9 L695.4,1171.2 L694.0,1171.5 L692.6,1171.8 L691.2,1172.1 L689.8,1172.4 L688.4,1172.8 L687.0,1173.1 L685.6,1173.4 L684.2,1173.7 L682.8,1174.0 L681.4,1174.3 L680.1,1174.7 L678.7,1175.0 L677.3,1175.3 L675.9,1175.6 L674.5,1175.9 L673.1,1176.1 L671.7,1176.4 L670.3,1176.6 L668.9,1176.8 L667.5,1177.0 L666.1,1177.2 L664.7,1177.4 L663.3,1177.5 L661.9,1177.7 L660.5,1177.8 L659.1,1177.9 L657.7,1178.1 L656.3,1178.2 L654.9,1178.3 L653.5,1178.4 L652.1,1178.5 L650.7,1178.6 L649.3,1178.7 L648.0,1178.8 L646.6,1178.9 L645.2,1179.0 L643.8,1179.1 L642.4,1179.2 L641.0,1179.3 L639.6,1179.4 L638.2,1179.4 L636.8,1179.5 L635.4,1179.6 L634.0,1179.7 L632.6,1179.8 L631.2,1179.9 L629.8,1179.9 L628.4,1180.0 L627.0,1180.1 L625.6,1180.2 L624.2,1180.3 L622.8,1180.4 L621.4,1180.5 L620.0,1180.6 L618.6,1180.7 L617.2,1180.8 L615.8,1180.9 L614.5,1181.0 L613.1,1181.1 L611.7,1181.2 L610.3,1181.3 L608.9,1181.4 L607.5,1181.5 L606.1,1181.6 L604.7,1181.7 L603.3,1181.8 L601.9,1181.9 L600.5,1182.0 L599.1,1182.1 L597.7,1182.2 L596.3,1182.3 L594.9,1182.4 L593.5,1182.5 L592.1,1182.6 L590.7,1182.7 L589.3,1182.8 L587.9,1182.9 L586.5,1183.0 L585.1,1183.1 L583.7,1183.2 L582.4,1183.3 L581.0,1183.4 L579.6,1183.5 L578.2,1183.6 L576.8,1183.7 L575.4,1183.9 L574.0,1184.0 L572.6,1184.1 L571.2,1184.2 L569.8,1184.4 L568.4,1184.5 L567.0,1184.6 L565.6,1184.8 L564.2,1184.9 L562.8,1185.0 L561.4,1185.2 L560.0,1185.3 L558.6,1185.4 L557.2,1185.6 L555.8,1185.7 L554.4,1185.9 L553.0,1186.0 L551.6,1186.2 L550.2,1186.3 L548.9,1186.4 L547.5,1186.6 L546.1,1186.7 L544.7,1186.9 L543.3,1187.0 L541.9,1187.2 L540.5,1187.3 L539.1,1187.5 L537.7,1187.6 L536.3,1187.8 L534.9,1187.9 L533.5,1188.1 L532.1,1188.2 L530.7,1188.3 L529.3,1188.5 L527.9,1188.6 L526.5,1188.7 L525.1,1188.9 L523.7,1189.0 L522.3,1189.1 L520.9,1189.3 L519.5,1189.4 L518.1,1189.5 L516.8,1189.6 L515.4,1189.8 L514.0,1189.9 L512.6,1190.0 L511.2,1190.2 L509.8,1190.3 L508.4,1190.4 L507.0,1190.6 L505.6,1190.7 L504.2,1190.9 L502.8,1191.0 L501.4,1191.2 L500.0,1191.3 L498.6,1191.5 L497.2,1191.7 L495.8,1191.9 L494.4,1192.1 L493.0,1192.3 L491.6,1192.5 L490.2,1192.7 L488.8,1192.9 L487.4,1193.1 L486.0,1193.4 L484.6,1193.7 L483.3,1194.1 L481.9,1194.4 L480.5,1194.8 L479.1,1195.2 L477.7,1195.6 L476.3,1196.0 L474.9,1196.5 L473.5,1197.0 L472.1,1197.4 L470.7,1197.9 L469.3,1198.4 L467.9,1198.9 L466.5,1199.4 L465.1,1200.0 L463.7,1200.5 L462.3,1201.0 L460.9,1201.5 L459.5,1202.0 L458.1,1202.5 L456.7,1203.0 L455.3,1203.5 L453.9,1203.9 L452.5,1204.4 L451.2,1204.8 L449.8,1205.2 L448.4,1205.6 L447.0,1206.1 L445.6,1206.5 L444.2,1207.0 L442.8,1207.5 L441.4,1208.0 L440.0,1208.5 L438.6,1209.0 L437.2,1209.5 L435.8,1210.0 L434.4,1210.4 L433.0,1210.8 L431.6,1211.2 L430.2,1211.6 L428.8,1211.9 L427.4,1212.1 L426.0,1212.3 L424.6,1212.4 L423.2,1212.5 L421.8,1212.5 L420.4,1212.5 L419.0,1212.5 L417.7,1212.4 L416.3,1212.4 L414.9,1212.3 L413.5,1212.3 L412.1,1212.2 L410.7,1212.1 L409.3,1212.1 L407.9,1212.0 L406.5,1211.9 L405.1,1211.9 L403.7,1211.8 L402.3,1211.8 L400.9,1211.7 L399.5,1211.7 L398.1,1211.7 L396.7,1211.6 L395.3,1211.6 L393.9,1211.6 L392.5,1211.5 L391.1,1211.5 L389.7,1211.5 L388.3,1211.4 L386.9,1211.4 L385.6,1211.4 L384.2,1211.3 L382.8,1211.3 L381.4,1211.3 L380.0,1211.3 L378.6,1211.2 L377.2,1211.2 L375.8,1211.2 L374.4,1211.2 L373.0,1211.1 L371.6,1211.1 L370.2,1211.1 L368.8,1211.1 L367.4,1211.0 L366.0,1211.0 L364.6,1211.0 L363.2,1211.0 L361.8,1210.9 L360.4,1210.9 L359.0,1210.9 L357.6,1210.9 L356.2,1210.9 L354.8,1210.8 L353.4,1210.8 L352.1,1210.8 L350.7,1210.7 L349.3,1210.7 L347.9,1210.7 L346.5,1210.7 L345.1,1210.6 L343.7,1210.6 L342.3,1210.6 L340.9,1210.5 L339.5,1210.5 L338.1,1210.5 L336.7,1210.5 L335.3,1210.4 L333.9,1210.4 L332.5,1210.4 L331.1,1210.3 L329.7,1210.3 L328.3,1210.3 L326.9,1210.3 L325.5,1210.3 L324.1,1210.2 L322.7,1210.2 L321.3,1210.2 L320.0,1210.2 L318.6,1210.2 L317.2,1210.1 L315.8,1210.1 L314.4,1210.1 L313.0,1210.1 L311.6,1210.1 L310.2,1210.1 L308.8,1210.1 L307.4,1210.1 L306.0,1210.2 L304.6,1210.2 L303.2,1210.3 L301.8,1210.3 L300.4,1210.4 L299.0,1210.5 L297.6,1210.6 L296.2,1210.7 L294.8,1210.8 L293.4,1210.9 L292.0,1211.1 L290.6,1211.2 L289.2,1211.3 L287.8,1211.5 L286.5,1211.6 L285.1,1211.8 L283.7,1211.9 L282.3,1212.1 L280.9,1212.2 L279.5,1212.4 L278.1,1212.5 L276.7,1212.7 L275.3,1212.9 L273.9,1213.0 L272.5,1213.2 L271.1,1213.3 L269.7,1213.5 L268.3,1213.6 L266.9,1213.7 L265.5,1213.9 L264.1,1214.0 L262.7,1214.1 L261.3,1214.2 L259.9,1214.3 L258.5,1214.4 L257.1,1214.5 L255.7,1214.6 L254.4,1214.7 L253.0,1214.8 L251.6,1214.9 L250.2,1214.9 L248.8,1215.0 L247.4,1215.1 L246.0,1215.2 L244.6,1215.3 L243.2,1215.4 L241.8,1215.5 L240.4,1215.5 L239.0,1215.6 L237.6,1215.7 L236.2,1215.8 L234.8,1215.8 L233.4,1215.9 L232.0,1215.9 L230.6,1216.0 L229.2,1216.0 L227.8,1216.1 L226.4,1216.1 L225.0,1216.1 L223.6,1216.1 L222.2,1216.1 L220.9,1216.1 L219.5,1216.1 L218.1,1216.0 L216.7,1216.0 L215.3,1215.9 L213.9,1215.9 L212.5,1215.8 L211.1,1215.7 L209.7,1215.6 L208.3,1215.5 L206.9,1215.4 L205.5,1215.3" fill="none" stroke="#000000" stroke-width="4.2" stroke-linejoin="round"/>
<path d="M205.5,1227.3 L206.9,1225.9 L208.3,1224.4 L209.7,1223.0 L211.1,1221.6 L212.5,1220.3 L213.9,1218.9 L215.3,1217.7 L216.7,1216.4 L218.1,1215.2 L219.5,1214.0 L220.9,1212.8 L222.2,1211.7 L223.6,1210.6 L225.0,1209.5 L226.4,1208.5 L227.8,1207.4 L229.2,1206.5 L230.6,1205.5 L232.0,1204.6 L233.4,1203.7 L234.8,1202.8 L236.2,1201.9 L237.6,1201.1 L239.0,1200.3 L240.4,1199.5 L241.8,1198.8 L243.2,1198.1 L244.6,1197.4 L246.0,1196.7 L247.4,1196.0 L248.8,1195.4 L250.2,1194.8 L251.6,1194.2 L253.0,1193.7 L254.4,1193.1 L255.7,1192.6 L257.1,1192.1 L258.5,1191.6 L259.9,1191.2 L261.3,1190.7 L262.7,1190.3 L264.1,1189.9 L265.5,1189.5 L266.9,1189.2 L268.3,1188.8 L269.7,1188.5 L271.1,1188.2 L272.5,1187.9 L273.9,1187.6 L275.3,1187.3 L276.7,1187.0 L278.1,1186.8 L279.5,1186.6 L280.9,1186.3 L282.3,1186.1 L283.7,1185.9 L285.1,1185.7 L286.5,1185.5 L287.8,1185.3 L289.2,1185.1 L290.6,1184.9 L292.0,1184.7 L293.4,1184.5 L294.8,1184.3 L296.2,1184.2 L297.6,1184.0 L299.0,1183.8 L300.4,1183.6 L301.8,1183.4 L303.2,1183.3 L304.6,1183.1 L306.0,1182.9 L307.4,1182.7 L308.8,1182.5 L310.2,1182.3 L311.6,1182.2 L313.0,1182.0 L314.4,1181.8 L315.8,1181.6 L317.2,1181.4 L318.6,1181.2 L320.0,1181.0 L321.3,1180.8 L322.7,1180.7 L324.1,1180.5 L325.5,1180.3 L326.9,1180.1 L328.3,1179.9 L329.7,1179.7 L331.1,1179.5 L332.5,1179.4 L333.9,1179.2 L335.3,1179.0 L336.7,1178.8 L338.1,1178.6 L339.5,1178.4 L340.9,1178.2 L342.3,1178.1 L343.7,1177.9 L345.1,1177.7 L346.5,1177.5 L347.9,1177.3 L349.3,1177.1 L350.7,1176.9 L352.1,1176.8 L353.4,1176.6 L354.8,1176.4 L356.2,1176.2 L357.6,1176.0 L359.0,1175.8 L360.4,1175.7 L361.8,1175.5 L363.2,1175.3 L364.6,1175.1 L366.0,1175.0 L367.4,1174.8 L368.8,1174.6 L370.2,1174.4 L371.6,1174.2 L373.0,1174.1 L374.4,1173.9 L375.8,1173.7 L377.2,1173.5 L378.6,1173.4 L380.0,1173.2 L381.4,1173.0 L382.8,1172.8 L384.2,1172.6 L385.6,1172.4 L386.9,1172.2 L388.3,1172.0 L389.7,1171.8 L391.1,1171.6 L392.5,1171.4 L393.9,1171.2 L395.3,1171.0 L396.7,1170.8 L398.1,1170.6 L399.5,1170.4 L400.9,1170.2 L402.3,1169.9 L403.7,1169.7 L405.1,1169.5 L406.5,1169.2 L407.9,1169.0 L409.3,1168.8 L410.7,1168.5 L412.1,1168.3 L413.5,1168.0 L414.9,1167.7 L416.3,1167.5 L417.7,1167.2 L419.0,1167.0 L420.4,1166.7 L421.8,1166.4 L423.2,1166.1 L424.6,1165.9 L426.0,1165.6 L427.4,1165.3 L428.8,1165.0 L430.2,1164.8 L431.6,1164.5 L433.0,1164.2 L434.4,1163.9 L435.8,1163.6 L437.2,1163.3 L438.6,1163.0 L440.0,1162.8 L441.4,1162.5 L442.8,1162.2 L444.2,1161.9 L445.6,1161.6 L447.0,1161.3 L448.4,1161.0 L449.8,1160.7 L451.2,1160.5 L452.5,1160.2 L453.9,1159.9 L455.3,1159.6 L456.7,1159.3 L458.1,1159.0 L459.5,1158.8 L460.9,1158.5 L462.3,1158.2 L463.7,1157.9 L465.1,1157.7 L466.5,1157.4 L467.9,1157.1 L469.3,1156.9 L470.7,1156.6 L472.1,1156.3 L473.5,1156.1 L474.9,1155.8 L476.3,1155.6 L477.7,1155.3 L479.1,1155.1 L480.5,1154.8 L481.9,1154.6 L483.3,1154.4 L484.6,1154.1 L486.0,1153.9 L487.4,1153.7 L488.8,1153.4 L490.2,1153.2 L491.6,1153.0 L493.0,1152.7 L494.4,1152.5 L495.8,1152.3 L497.2,1152.1 L498.6,1151.8 L500.0,1151.6 L501.4,1151.4 L502.8,1151.2 L504.2,1151.0 L505.6,1150.7 L507.0,1150.5 L508.4,1150.3 L509.8,1150.1 L511.2,1149.9 L512.6,1149.6 L514.0,1149.4 L515.4,1149.2 L516.8,1149.0 L518.1,1148.7 L519.5,1148.5 L520.9,1148.3 L522.3,1148.0 L523.7,1147.8 L525.1,1147.6 L526.5,1147.3 L527.9,1147.1 L529.3,1146.8 L530.7,1146.6 L532.1,1146.3 L533.5,1146.1 L534.9,1145.8 L536.3,1145.6 L537.7,1145.3 L539.1,1145.0 L540.5,1144.8 L541.9,1144.5 L543.3,1144.2 L544.7,1143.9 L546.1,1143.6 L547.5,1143.3 L548.9,1143.0 L550.2,1142.7 L551.6,1142.4 L553.0,1142.1 L554.4,1141.8 L555.8,1141.4 L557.2,1141.1 L558.6,1140.7 L560.0,1140.3 L561.4,1140.0 L562.8,1139.6 L564.2,1139.2 L565.6,1138.8 L567.0,1138.4 L568.4,1138.0 L569.8,1137.5 L571.2,1137.1 L572.6,1136.7 L574.0,1136.3 L575.4,1135.8 L576.8,1135.4 L578.2,1135.0 L579.6,1134.5 L581.0,1134.1 L582.4,1133.6 L583.7,1133.2 L585.1,1132.7 L586.5,1132.3 L587.9,1131.8 L589.3,1131.4 L590.7,1131.0 L592.1,1130.5 L593.5,1130.1 L594.9,1129.7 L596.3,1129.2 L597.7,1128.8 L599.1,1128.4 L600.5,1128.0 L601.9,1127.6 L603.3,1127.2 L604.7,1126.8 L606.1,1126.4 L607.5,1126.0 L608.9,1125.7 L610.3,1125.3 L611.7,1124.9 L613.1,1124.6 L614.5,1124.2 L615.8,1123.9 L617.2,1123.6 L618.6,1123.2 L620.0,1122.9 L621.4,1122.6 L622.8,1122.2 L624.2,1121.9 L625.6,1121.6 L627.0,1121.2 L628.4,1120.9 L629.8,1120.6 L631.2,1120.3 L632.6,1120.0 L634.0,1119.7 L635.4,1119.4 L636.8,1119.0 L638.2,1118.7 L639.6,1118.4 L641.0,1118.1 L642.4,1117.8 L643.8,1117.5 L645.2,1117.2 L646.6,1116.9 L648.0,1116.6 L649.3,1116.3 L650.7,1115.9 L652.1,1115.6 L653.5,1115.3 L654.9,1115.0 L656.3,1114.7 L657.7,1114.4 L659.1,1114.1 L660.5,1113.8 L661.9,1113.4 L663.3,1113.1 L664.7,1112.8 L666.1,1112.5 L667.5,1112.2 L668.9,1111.8 L670.3,1111.5 L671.7,1111.2 L673.1,1110.9 L674.5,1110.5 L675.9,1110.2 L677.3,1109.9 L678.7,1109.6 L680.1,1109.3 L681.4,1109.0 L682.8,1108.7 L684.2,1108.4 L685.6,1108.1 L687.0,1107.8 L688.4,1107.4 L689.8,1107.1 L691.2,1106.8 L692.6,1106.5 L694.0,1106.2 L695.4,1105.8 L696.8,1105.5 L698.2,1105.2 L699.6,1104.8 L701.0,1104.5 L702.4,1104.1 L703.8,1103.8 L705.2,1103.4 L706.6,1103.0 L708.0,1102.6 L709.4,1102.3 L710.8,1101.9 L712.2,1101.4 L713.6,1101.0 L714.9,1100.6 L716.3,1100.1 L717.7,1099.7 L719.1,1099.2 L720.5,1098.7 L721.9,1098.3 L723.3,1097.8 L724.7,1097.3 L726.1,1096.7 L727.5,1096.2 L728.9,1095.7 L730.3,1095.1 L731.7,1094.6 L733.1,1094.0 L734.5,1093.5 L735.9,1092.9 L737.3,1092.3 L738.7,1091.7 L740.1,1091.1 L741.5,1090.5 L742.9,1089.9 L744.3,1089.2 L745.7,1088.6 L747.0,1088.0 L748.4,1087.3 L749.8,1086.6 L751.2,1086.0 L752.6,1085.3 L754.0,1084.6 L755.4,1083.9 L756.8,1083.3 L758.2,1082.6 L759.6,1081.8 L761.0,1081.1 L762.4,1080.4 L761.0,1089.6 L759.6,1096.2 L758.2,1101.4 L756.8,1105.8 L755.4,1109.6 L754.0,1112.9 L752.6,1115.8 L751.2,1118.7 L749.8,1121.3 L748.4,1123.9 L747.0,1126.3 L745.7,1128.6 L744.3,1130.8 L742.9,1132.9 L741.5,1134.9 L740.1,1136.7 L738.7,1138.5 L737.3,1140.3 L735.9,1141.9 L734.5,1143.5 L733.1,1145.0 L731.7,1146.5 L730.3,1147.9 L728.9,1149.3 L727.5,1150.6 L726.1,1151.9 L724.7,1153.1 L723.3,1154.3 L721.9,1155.5 L720.5,1156.6 L719.1,1157.6 L717.7,1158.6 L716.3,1159.6 L714.9,1160.6 L713.6,1161.5 L712.2,1162.3 L710.8,1163.1 L709.4,1163.9 L708.0,1164.7 L706.6,1165.4 L705.2,1166.1 L703.8,1166.8 L702.4,1167.4 L701.0,1168.1 L699.6,1168.7 L698.2,1169.3 L696.8,1169.9 L695.4,1170.4 L694.0,1170.9 L692.6,1171.4 L691.2,1171.9 L689.8,1172.3 L688.4,1172.7 L687.0,1173.1 L685.6,1173.4 L684.2,1173.8 L682.8,1174.1 L681.4,1174.4 L680.1,1174.6 L678.7,1174.9 L677.3,1175.1 L675.9,1175.4 L674.5,1175.6 L673.1,1175.9 L671.7,1176.1 L670.3,1176.4 L668.9,1176.6 L667.5,1176.9 L666.1,1177.2 L664.7,1177.5 L663.3,1177.8 L661.9,1178.1 L660.5,1178.5 L659.1,1178.8 L657.7,1179.2 L656.3,1179.5 L654.9,1179.9 L653.5,1180.3 L652.1,1180.7 L650.7,1181.1 L649.3,1181.4 L648.0,1181.8 L646.6,1182.2 L645.2,1182.6 L643.8,1183.0 L642.4,1183.4 L641.0,1183.8 L639.6,1184.1 L638.2,1184.5 L636.8,1184.9 L635.4,1185.2 L634.0,1185.6 L632.6,1185.9 L631.2,1186.2 L629.8,1186.6 L628.4,1186.9 L627.0,1187.1 L625.6,1187.4 L624.2,1187.7 L622.8,1187.9 L621.4,1188.1 L620.0,1188.3 L618.6,1188.5 L617.2,1188.7 L615.8,1188.9 L614.5,1189.1 L613.1,1189.3 L611.7,1189.4 L610.3,1189.6 L608.9,1189.8 L607.5,1189.9 L606.1,1190.1 L604.7,1190.2 L603.3,1190.4 L601.9,1190.5 L600.5,1190.7 L599.1,1190.8 L597.7,1190.9 L596.3,1191.1 L594.9,1191.2 L593.5,1191.3 L592.1,1191.5 L590.7,1191.6 L589.3,1191.7 L587.9,1191.9 L586.5,1192.0 L585.1,1192.1 L583.7,1192.3 L582.4,1192.4 L581.0,1192.5 L579.6,1192.7 L578.2,1192.8 L576.8,1193.0 L575.4,1193.1 L574.0,1193.2 L572.6,1193.4 L571.2,1193.5 L569.8,1193.7 L568.4,1193.8 L567.0,1193.9 L565.6,1194.1 L564.2,1194.2 L562.8,1194.3 L561.4,1194.5 L560.0,1194.6 L558.6,1194.7 L557.2,1194.9 L555.8,1195.0 L554.4,1195.1 L553.0,1195.3 L551.6,1195.4 L550.2,1195.5 L548.9,1195.7 L547.5,1195.8 L546.1,1196.0 L544.7,1196.1 L543.3,1196.2 L541.9,1196.4 L540.5,1196.5 L539.1,1196.7 L537.7,1196.8 L536.3,1197.0 L534.9,1197.1 L533.5,1197.3 L532.1,1197.4 L530.7,1197.6 L529.3,1197.7 L527.9,1197.9 L526.5,1198.0 L525.1,1198.2 L523.7,1198.3 L522.3,1198.5 L520.9,1198.6 L519.5,1198.8 L518.1,1198.9 L516.8,1199.1 L515.4,1199.2 L514.0,1199.4 L512.6,1199.5 L511.2,1199.7 L509.8,1199.9 L508.4,1200.0 L507.0,1200.2 L505.6,1200.4 L504.2,1200.6 L502.8,1200.8 L501.4,1200.9 L500.0,1201.1 L498.6,1201.3 L497.2,1201.5 L495.8,1201.8 L494.4,1202.0 L493.0,1202.2 L491.6,1202.4 L490.2,1202.7 L488.8,1202.9 L487.4,1203.2 L486.0,1203.5 L484.6,1203.8 L483.3,1204.1 L481.9,1204.5 L480.5,1204.8 L479.1,1205.2 L477.7,1205.7 L476.3,1206.1 L474.9,1206.5 L473.5,1207.0 L472.1,1207.5 L470.7,1207.9 L469.3,1208.4 L467.9,1208.9 L466.5,1209.4 L465.1,1209.9 L463.7,1210.4 L462.3,1210.9 L460.9,1211.4 L459.5,1211.9 L458.1,1212.4 L456.7,1212.9 L455.3,1213.4 L453.9,1213.9 L452.5,1214.3 L451.2,1214.8 L449.8,1215.2 L448.4,1215.7 L447.0,1216.1 L445.6,1216.5 L444.2,1216.9 L442.8,1217.2 L441.4,1217.6 L440.0,1218.0 L438.6,1218.3 L437.2,1218.7 L435.8,1219.1 L434.4,1219.5 L433.0,1219.8 L431.6,1220.2 L430.2,1220.6 L428.8,1221.0 L427.4,1221.4 L426.0,1221.7 L424.6,1222.1 L423.2,1222.5 L421.8,1222.8 L420.4,1223.2 L419.0,1223.5 L417.7,1223.8 L416.3,1224.1 L414.9,1224.4 L413.5,1224.7 L412.1,1224.9 L410.7,1225.2 L409.3,1225.4 L407.9,1225.6 L406.5,1225.7 L405.1,1225.9 L403.7,1226.0 L402.3,1226.1 L400.9,1226.1 L399.5,1226.2 L398.1,1226.2 L396.7,1226.2 L395.3,1226.3 L393.9,1226.3 L392.5,1226.3 L391.1,1226.3 L389.7,1226.4 L388.3,1226.4 L386.9,1226.4 L385.6,1226.4 L384.2,1226.5 L382.8,1226.5 L381.4,1226.5 L380.0,1226.5 L378.6,1226.5 L377.2,1226.6 L375.8,1226.6 L374.4,1226.6 L373.0,1226.6 L371.6,1226.6 L370.2,1226.6 L368.8,1226.6 L367.4,1226.7 L366.0,1226.7 L364.6,1226.7 L363.2,1226.7 L361.8,1226.7 L360.4,1226.7 L359.0,1226.7 L357.6,1226.8 L356.2,1226.8 L354.8,1226.8 L353.4,1226.8 L352.1,1226.8 L350.7,1226.9 L349.3,1226.9 L347.9,1226.9 L346.5,1226.9 L345.1,1226.9 L343.7,1227.0 L342.3,1227.0 L340.9,1227.0 L339.5,1227.0 L338.1,1227.1 L336.7,1227.1 L335.3,1227.1 L333.9,1227.1 L332.5,1227.1 L331.1,1227.2 L329.7,1227.2 L328.3,1227.2 L326.9,1227.2 L325.5,1227.2 L324.1,1227.2 L322.7,1227.3 L321.3,1227.3 L320.0,1227.3 L318.6,1227.3 L317.2,1227.3 L315.8,1227.3 L314.4,1227.3 L313.0,1227.3 L311.6,1227.3 L310.2,1227.3 L308.8,1227.3 L307.4,1227.3 L306.0,1227.3 L304.6,1227.3 L303.2,1227.3 L301.8,1227.3 L300.4,1227.3 L299.0,1227.3 L297.6,1227.3 L296.2,1227.3 L294.8,1227.2 L293.4,1227.2 L292.0,1227.2 L290.6,1227.2 L289.2,1227.2 L287.8,1227.2 L286.5,1227.2 L285.1,1227.1 L283.7,1227.1 L282.3,1227.1 L280.9,1227.1 L279.5,1227.1 L278.1,1227.1 L276.7,1227.1 L275.3,1227.0 L273.9,1227.0 L272.5,1227.0 L271.1,1227.0 L269.7,1227.0 L268.3,1227.0 L266.9,1227.0 L265.5,1227.0 L264.1,1226.9 L262.7,1226.9 L261.3,1226.9 L259.9,1226.9 L258.5,1226.9 L257.1,1226.9 L255.7,1226.9 L254.4,1227.0 L253.0,1227.0 L251.6,1227.0 L250.2,1227.1 L248.8,1227.1 L247.4,1227.2 L246.0,1227.3 L244.6,1227.4 L243.2,1227.4 L241.8,1227.5 L240.4,1227.6 L239.0,1227.7 L237.6,1227.8 L236.2,1227.9 L234.8,1227.9 L233.4,1228.0 L232.0,1228.1 L230.6,1228.1 L229.2,1228.2 L227.8,1228.3 L226.4,1228.3 L225.0,1228.3 L223.6,1228.3 L222.2,1228.3 L220.9,1228.3 L219.5,1228.3 L218.1,1228.2 L216.7,1228.2 L215.3,1228.1 L213.9,1228.0 L212.5,1227.9 L211.1,1227.8 L209.7,1227.7 L208.3,1227.6 L206.9,1227.5 L205.5,1227.3" fill="none" stroke="#ff0000" stroke-width="4.2" stroke-linejoin="round"/>
<path d="M205.5,1240.9 L206.9,1239.7 L208.3,1238.5 L209.7,1237.4 L211.1,1236.2 L212.5,1235.1 L213.9,1234.0 L215.3,1232.9 L216.7,1231.8 L218.1,1230.8 L219.5,1229.7 L220.9,1228.7 L222.2,1227.7 L223.6,1226.7 L225.0,1225.8 L226.4,1224.8 L227.8,1223.9 L229.2,1223.0 L230.6,1222.1 L232.0,1221.2 L233.4,1220.4 L234.8,1219.5 L236.2,1218.7 L237.6,1217.9 L239.0,1217.1 L240.4,1216.3 L241.8,1215.5 L243.2,1214.8 L244.6,1214.0 L246.0,1213.3 L247.4,1212.6 L248.8,1211.9 L250.2,1211.2 L251.6,1210.6 L253.0,1209.9 L254.4,1209.3 L255.7,1208.6 L257.1,1208.0 L258.5,1207.4 L259.9,1206.8 L261.3,1206.2 L262.7,1205.7 L264.1,1205.1 L265.5,1204.6 L266.9,1204.0 L268.3,1203.5 L269.7,1203.0 L271.1,1202.5 L272.5,1202.0 L273.9,1201.5 L275.3,1201.0 L276.7,1200.5 L278.1,1200.1 L279.5,1199.6 L280.9,1199.2 L282.3,1198.7 L283.7,1198.3 L285.1,1197.8 L286.5,1197.4 L287.8,1197.0 L289.2,1196.5 L290.6,1196.1 L292.0,1195.7 L293.4,1195.2 L294.8,1194.8 L296.2,1194.4 L297.6,1194.0 L299.0,1193.5 L300.4,1193.1 L301.8,1192.7 L303.2,1192.3 L304.6,1191.8 L306.0,1191.4 L307.4,1191.0 L308.8,1190.6 L310.2,1190.1 L311.6,1189.7 L313.0,1189.3 L314.4,1188.8 L315.8,1188.4 L317.2,1188.0 L318.6,1187.6 L320.0,1187.1 L321.3,1186.7 L322.7,1186.3 L324.1,1185.8 L325.5,1185.4 L326.9,1185.0 L328.3,1184.6 L329.7,1184.1 L331.1,1183.7 L332.5,1183.3 L333.9,1182.8 L335.3,1182.4 L336.7,1182.0 L338.1,1181.6 L339.5,1181.1 L340.9,1180.7 L342.3,1180.3 L343.7,1179.8 L345.1,1179.4 L346.5,1179.0 L347.9,1178.6 L349.3,1178.1 L350.7,1177.7 L352.1,1177.3 L353.4,1176.8 L354.8,1176.4 L356.2,1176.0 L357.6,1175.5 L359.0,1175.1 L360.4,1174.7 L361.8,1174.2 L363.2,1173.8 L364.6,1173.4 L366.0,1172.9 L367.4,1172.5 L368.8,1172.1 L370.2,1171.6 L371.6,1171.2 L373.0,1170.8 L374.4,1170.3 L375.8,1169.9 L377.2,1169.5 L378.6,1169.0 L380.0,1168.6 L381.4,1168.2 L382.8,1167.7 L384.2,1167.3 L385.6,1166.9 L386.9,1166.5 L388.3,1166.0 L389.7,1165.6 L391.1,1165.2 L392.5,1164.8 L393.9,1164.4 L395.3,1163.9 L396.7,1163.5 L398.1,1163.1 L399.5,1162.7 L400.9,1162.3 L402.3,1161.9 L403.7,1161.5 L405.1,1161.1 L406.5,1160.7 L407.9,1160.3 L409.3,1159.9 L410.7,1159.5 L412.1,1159.1 L413.5,1158.7 L414.9,1158.3 L416.3,1157.9 L417.7,1157.5 L419.0,1157.2 L420.4,1156.8 L421.8,1156.4 L423.2,1156.0 L424.6,1155.6 L426.0,1155.2 L427.4,1154.8 L428.8,1154.5 L430.2,1154.1 L431.6,1153.7 L433.0,1153.3 L434.4,1152.9 L435.8,1152.5 L437.2,1152.2 L438.6,1151.8 L440.0,1151.4 L441.4,1151.0 L442.8,1150.7 L444.2,1150.3 L445.6,1149.9 L447.0,1149.5 L448.4,1149.2 L449.8,1148.8 L451.2,1148.4 L452.5,1148.0 L453.9,1147.6 L455.3,1147.3 L456.7,1146.9 L458.1,1146.5 L459.5,1146.2 L460.9,1145.8 L462.3,1145.4 L463.7,1145.0 L465.1,1144.7 L466.5,1144.3 L467.9,1143.9 L469.3,1143.5 L470.7,1143.2 L472.1,1142.8 L473.5,1142.4 L474.9,1142.0 L476.3,1141.6 L477.7,1141.3 L479.1,1140.9 L480.5,1140.5 L481.9,1140.2 L483.3,1139.8 L484.6,1139.4 L486.0,1139.1 L487.4,1138.7 L488.8,1138.3 L490.2,1138.0 L491.6,1137.6 L493.0,1137.2 L494.4,1136.9 L495.8,1136.5 L497.2,1136.1 L498.6,1135.8 L500.0,1135.4 L501.4,1135.1 L502.8,1134.7 L504.2,1134.3 L505.6,1134.0 L507.0,1133.6 L508.4,1133.3 L509.8,1132.9 L511.2,1132.5 L512.6,1132.2 L514.0,1131.8 L515.4,1131.4 L516.8,1131.1 L518.1,1130.7 L519.5,1130.4 L520.9,1130.0 L522.3,1129.6 L523.7,1129.3 L525.1,1128.9 L526.5,1128.5 L527.9,1128.2 L529.3,1127.8 L530.7,1127.4 L532.1,1127.1 L533.5,1126.7 L534.9,1126.3 L536.3,1125.9 L537.7,1125.6 L539.1,1125.2 L540.5,1124.8 L541.9,1124.4 L543.3,1124.0 L544.7,1123.6 L546.1,1123.3 L547.5,1122.9 L548.9,1122.5 L550.2,1122.1 L551.6,1121.7 L553.0,1121.3 L554.4,1120.9 L555.8,1120.5 L557.2,1120.1 L558.6,1119.7 L560.0,1119.3 L561.4,1118.9 L562.8,1118.5 L564.2,1118.1 L565.6,1117.7 L567.0,1117.3 L568.4,1116.8 L569.8,1116.4 L571.2,1116.0 L572.6,1115.6 L574.0,1115.2 L575.4,1114.8 L576.8,1114.3 L578.2,1113.9 L579.6,1113.5 L581.0,1113.1 L582.4,1112.6 L583.7,1112.2 L585.1,1111.8 L586.5,1111.4 L587.9,1111.0 L589.3,1110.5 L590.7,1110.1 L592.1,1109.7 L593.5,1109.3 L594.9,1108.8 L596.3,1108.4 L597.7,1108.0 L599.1,1107.6 L600.5,1107.1 L601.9,1106.7 L603.3,1106.3 L604.7,1105.9 L606.1,1105.4 L607.5,1105.0 L608.9,1104.6 L610.3,1104.2 L611.7,1103.8 L613.1,1103.3 L614.5,1102.9 L615.8,1102.5 L617.2,1102.0 L618.6,1101.6 L620.0,1101.2 L621.4,1100.7 L622.8,1100.3 L624.2,1099.9 L625.6,1099.4 L627.0,1099.0 L628.4,1098.6 L629.8,1098.1 L631.2,1097.7 L632.6,1097.2 L634.0,1096.8 L635.4,1096.4 L636.8,1095.9 L638.2,1095.5 L639.6,1095.0 L641.0,1094.6 L642.4,1094.2 L643.8,1093.7 L645.2,1093.3 L646.6,1092.9 L648.0,1092.5 L649.3,1092.0 L650.7,1091.6 L652.1,1091.2 L653.5,1090.8 L654.9,1090.4 L656.3,1089.9 L657.7,1089.5 L659.1,1089.1 L660.5,1088.7 L661.9,1088.3 L663.3,1088.0 L664.7,1087.6 L666.1,1087.2 L667.5,1086.8 L668.9,1086.4 L670.3,1086.1 L671.7,1085.7 L673.1,1085.4 L674.5,1085.1 L675.9,1084.7 L677.3,1084.4 L678.7,1084.1 L680.1,1083.8 L681.4,1083.5 L682.8,1083.2 L684.2,1083.0 L685.6,1082.7 L687.0,1082.4 L688.4,1082.1 L689.8,1081.8 L691.2,1081.5 L692.6,1081.3 L694.0,1081.0 L695.4,1080.7 L696.8,1080.4 L698.2,1080.1 L699.6,1079.7 L701.0,1079.4 L702.4,1079.1 L703.8,1078.7 L705.2,1078.4 L706.6,1078.0 L708.0,1077.6 L709.4,1077.2 L710.8,1076.8 L712.2,1076.4 L713.6,1075.9 L714.9,1075.5 L716.3,1075.0 L717.7,1074.4 L719.1,1073.9 L720.5,1073.4 L721.9,1072.8 L723.3,1072.2 L724.7,1071.6 L726.1,1070.9 L727.5,1070.3 L728.9,1069.6 L730.3,1068.9 L731.7,1068.2 L733.1,1067.5 L734.5,1066.7 L735.9,1065.9 L737.3,1065.2 L738.7,1064.4 L740.1,1063.6 L741.5,1062.7 L742.9,1061.9 L744.3,1061.0 L745.7,1060.2 L747.0,1059.3 L748.4,1058.4 L749.8,1057.5 L751.2,1056.6 L752.6,1055.6 L754.0,1054.7 L755.4,1053.7 L756.8,1052.8 L758.2,1051.8 L759.6,1050.8 L761.0,1049.8 L762.4,1048.8 L761.0,1062.2 L759.6,1074.0 L758.2,1080.2 L756.8,1083.6 L755.4,1086.5 L754.0,1088.9 L752.6,1090.9 L751.2,1092.7 L749.8,1094.2 L748.4,1095.5 L747.0,1096.9 L745.7,1098.3 L744.3,1099.9 L742.9,1101.7 L741.5,1103.6 L740.1,1105.6 L738.7,1107.6 L737.3,1109.7 L735.9,1111.7 L734.5,1113.8 L733.1,1115.8 L731.7,1117.9 L730.3,1120.0 L728.9,1122.0 L727.5,1124.0 L726.1,1126.0 L724.7,1128.0 L723.3,1130.0 L721.9,1131.9 L720.5,1133.7 L719.1,1135.5 L717.7,1137.3 L716.3,1139.0 L714.9,1140.6 L713.6,1142.2 L712.2,1143.7 L710.8,1145.1 L709.4,1146.5 L708.0,1147.7 L706.6,1149.0 L705.2,1150.3 L703.8,1151.5 L702.4,1152.7 L701.0,1153.9 L699.6,1155.0 L698.2,1156.1 L696.8,1157.3 L695.4,1158.3 L694.0,1159.4 L692.6,1160.5 L691.2,1161.5 L689.8,1162.5 L688.4,1163.5 L687.0,1164.5 L685.6,1165.4 L684.2,1166.4 L682.8,1167.3 L681.4,1168.2 L680.1,1169.1 L678.7,1169.9 L677.3,1170.8 L675.9,1171.6 L674.5,1172.4 L673.1,1173.2 L671.7,1174.0 L670.3,1174.8 L668.9,1175.5 L667.5,1176.3 L666.1,1177.0 L664.7,1177.7 L663.3,1178.4 L661.9,1179.1 L660.5,1179.8 L659.1,1180.4 L657.7,1181.1 L656.3,1181.8 L654.9,1182.4 L653.5,1183.0 L652.1,1183.6 L650.7,1184.2 L649.3,1184.8 L648.0,1185.4 L646.6,1186.0 L645.2,1186.6 L643.8,1187.1 L642.4,1187.7 L641.0,1188.2 L639.6,1188.7 L638.2,1189.3 L636.8,1189.8 L635.4,1190.3 L634.0,1190.8 L632.6,1191.3 L631.2,1191.8 L629.8,1192.2 L628.4,1192.7 L627.0,1193.2 L625.6,1193.6 L624.2,1194.1 L622.8,1194.5 L621.4,1195.0 L620.0,1195.4 L618.6,1195.8 L617.2,1196.2 L615.8,1196.7 L614.5,1197.1 L613.1,1197.5 L611.7,1197.9 L610.3,1198.3 L608.9,1198.7 L607.5,1199.1 L606.1,1199.5 L604.7,1199.8 L603.3,1200.2 L601.9,1200.6 L600.5,1200.9 L599.1,1201.3 L597.7,1201.7 L596.3,1202.0 L594.9,1202.3 L593.5,1202.7 L592.1,1203.0 L590.7,1203.3 L589.3,1203.7 L587.9,1204.0 L586.5,1204.3 L585.1,1204.6 L583.7,1204.9 L582.4,1205.1 L581.0,1205.4 L579.6,1205.7 L578.2,1206.0 L576.8,1206.2 L575.4,1206.5 L574.0,1206.7 L572.6,1206.9 L571.2,1207.2 L569.8,1207.4 L568.4,1207.6 L567.0,1207.8 L565.6,1208.0 L564.2,1208.2 L562.8,1208.4 L561.4,1208.6 L560.0,1208.8 L558.6,1209.0 L557.2,1209.1 L555.8,1209.3 L554.4,1209.5 L553.0,1209.7 L551.6,1209.8 L550.2,1210.0 L548.9,1210.2 L547.5,1210.4 L546.1,1210.6 L544.7,1210.8 L543.3,1211.0 L541.9,1211.2 L540.5,1211.4 L539.1,1211.6 L537.7,1211.8 L536.3,1212.0 L534.9,1212.2 L533.5,1212.4 L532.1,1212.7 L530.7,1212.9 L529.3,1213.2 L527.9,1213.4 L526.5,1213.7 L525.1,1214.0 L523.7,1214.2 L522.3,1214.5 L520.9,1214.8 L519.5,1215.0 L518.1,1215.3 L516.8,1215.6 L515.4,1215.9 L514.0,1216.2 L512.6,1216.5 L511.2,1216.8 L509.8,1217.0 L508.4,1217.3 L507.0,1217.7 L505.6,1218.0 L504.2,1218.3 L502.8,1218.6 L501.4,1218.9 L500.0,1219.2 L498.6,1219.5 L497.2,1219.8 L495.8,1220.1 L494.4,1220.4 L493.0,1220.8 L491.6,1221.1 L490.2,1221.4 L488.8,1221.7 L487.4,1222.1 L486.0,1222.4 L484.6,1222.7 L483.3,1223.1 L481.9,1223.5 L480.5,1223.9 L479.1,1224.3 L477.7,1224.7 L476.3,1225.1 L474.9,1225.6 L473.5,1226.0 L472.1,1226.4 L470.7,1226.9 L469.3,1227.4 L467.9,1227.8 L466.5,1228.3 L465.1,1228.8 L463.7,1229.3 L462.3,1229.7 L460.9,1230.2 L459.5,1230.7 L458.1,1231.2 L456.7,1231.7 L455.3,1232.2 L453.9,1232.7 L452.5,1233.2 L451.2,1233.7 L449.8,1234.1 L448.4,1234.6 L447.0,1235.1 L445.6,1235.6 L444.2,1236.1 L442.8,1236.5 L441.4,1237.0 L440.0,1237.4 L438.6,1237.9 L437.2,1238.3 L435.8,1238.8 L434.4,1239.2 L433.0,1239.6 L431.6,1240.0 L430.2,1240.4 L428.8,1240.8 L427.4,1241.1 L426.0,1241.5 L424.6,1241.8 L423.2,1242.1 L421.8,1242.5 L420.4,1242.8 L419.0,1243.0 L417.7,1243.3 L416.3,1243.5 L414.9,1243.8 L413.5,1244.0 L412.1,1244.2 L410.7,1244.3 L409.3,1244.5 L407.9,1244.6 L406.5,1244.7 L405.1,1244.8 L403.7,1244.9 L402.3,1244.9 L400.9,1244.9 L399.5,1244.9 L398.1,1244.9 L396.7,1244.9 L395.3,1244.9 L393.9,1244.9 L392.5,1244.8 L391.1,1244.8 L389.7,1244.8 L388.3,1244.7 L386.9,1244.7 L385.6,1244.6 L384.2,1244.5 L382.8,1244.5 L381.4,1244.4 L380.0,1244.4 L378.6,1244.3 L377.2,1244.2 L375.8,1244.1 L374.4,1244.1 L373.0,1244.0 L371.6,1243.9 L370.2,1243.9 L368.8,1243.8 L367.4,1243.7 L366.0,1243.6 L364.6,1243.6 L363.2,1243.5 L361.8,1243.4 L360.4,1243.4 L359.0,1243.3 L357.6,1243.3 L356.2,1243.2 L354.8,1243.2 L353.4,1243.1 L352.1,1243.1 L350.7,1243.0 L349.3,1243.0 L347.9,1242.9 L346.5,1242.9 L345.1,1242.8 L343.7,1242.8 L342.3,1242.8 L340.9,1242.7 L339.5,1242.7 L338.1,1242.6 L336.7,1242.6 L335.3,1242.5 L333.9,1242.5 L332.5,1242.5 L331.1,1242.4 L329.7,1242.4 L328.3,1242.3 L326.9,1242.3 L325.5,1242.2 L324.1,1242.2 L322.7,1242.2 L321.3,1242.1 L320.0,1242.1 L318.6,1242.0 L317.2,1242.0 L315.8,1241.9 L314.4,1241.9 L313.0,1241.8 L311.6,1241.8 L310.2,1241.7 L308.8,1241.7 L307.4,1241.6 L306.0,1241.6 L304.6,1241.5 L303.2,1241.5 L301.8,1241.4 L300.4,1241.3 L299.0,1241.3 L297.6,1241.2 L296.2,1241.1 L294.8,1241.1 L293.4,1241.0 L292.0,1240.9 L290.6,1240.9 L289.2,1240.8 L287.8,1240.7 L286.5,1240.7 L285.1,1240.6 L283.7,1240.5 L282.3,1240.5 L280.9,1240.4 L279.5,1240.3 L278.1,1240.3 L276.7,1240.2 L275.3,1240.1 L273.9,1240.1 L272.5,1240.0 L271.1,1240.0 L269.7,1239.9 L268.3,1239.9 L266.9,1239.9 L265.5,1239.8 L264.1,1239.8 L262.7,1239.8 L261.3,1239.8 L259.9,1239.8 L258.5,1239.7 L257.1,1239.7 L255.7,1239.7 L254.4,1239.8 L253.0,1239.8 L251.6,1239.9 L250.2,1239.9 L248.8,1240.0 L247.4,1240.1 L246.0,1240.2 L244.6,1240.3 L243.2,1240.4 L241.8,1240.5 L240.4,1240.6 L239.0,1240.7 L237.6,1240.8 L236.2,1240.9 L234.8,1241.0 L233.4,1241.1 L232.0,1241.2 L230.6,1241.3 L229.2,1241.4 L227.8,1241.4 L226.4,1241.5 L225.0,1241.5 L223.6,1241.5 L222.2,1241.5 L220.9,1241.5 L219.5,1241.5 L218.1,1241.5 L216.7,1241.5 L215.3,1241.4 L213.9,1241.4 L212.5,1241.3 L211.1,1241.3 L209.7,1241.2 L208.3,1241.1 L206.9,1241.0 L205.5,1240.9" fill="none" stroke="#00ff00" stroke-width="4.2" stroke-linejoin="round"/>
<path d="M205.5,1260.2 L206.9,1258.7 L208.3,1257.4 L209.7,1256.0 L211.1,1254.7 L212.5,1253.3 L213.9,1252.0 L215.3,1250.8 L216.7,1249.5 L218.1,1248.3 L219.5,1247.0 L220.9,1245.8 L222.2,1244.7 L223.6,1243.5 L225.0,1242.4 L226.4,1241.2 L227.8,1240.1 L229.2,1239.1 L230.6,1238.0 L232.0,1237.0 L233.4,1235.9 L234.8,1234.9 L236.2,1233.9 L237.6,1232.9 L239.0,1232.0 L240.4,1231.0 L241.8,1230.1 L243.2,1229.2 L244.6,1228.3 L246.0,1227.4 L247.4,1226.6 L248.8,1225.7 L250.2,1224.9 L251.6,1224.1 L253.0,1223.3 L254.4,1222.5 L255.7,1221.7 L257.1,1221.0 L258.5,1220.2 L259.9,1219.5 L261.3,1218.8 L262.7,1218.1 L264.1,1217.4 L265.5,1216.7 L266.9,1216.0 L268.3,1215.3 L269.7,1214.7 L271.1,1214.1 L272.5,1213.4 L273.9,1212.8 L275.3,1212.2 L276.7,1211.6 L278.1,1211.0 L279.5,1210.4 L280.9,1209.8 L282.3,1209.3 L283.7,1208.7 L285.1,1208.1 L286.5,1207.5 L287.8,1207.0 L289.2,1206.4 L290.6,1205.9 L292.0,1205.3 L293.4,1204.8 L294.8,1204.2 L296.2,1203.6 L297.6,1203.1 L299.0,1202.5 L300.4,1202.0 L301.8,1201.4 L303.2,1200.9 L304.6,1200.3 L306.0,1199.8 L307.4,1199.2 L308.8,1198.7 L310.2,1198.1 L311.6,1197.6 L313.0,1197.0 L314.4,1196.5 L315.8,1195.9 L317.2,1195.4 L318.6,1194.8 L320.0,1194.3 L321.3,1193.7 L322.7,1193.1 L324.1,1192.6 L325.5,1192.0 L326.9,1191.5 L328.3,1190.9 L329.7,1190.4 L331.1,1189.8 L332.5,1189.3 L333.9,1188.7 L335.3,1188.2 L336.7,1187.6 L338.1,1187.0 L339.5,1186.5 L340.9,1185.9 L342.3,1185.4 L343.7,1184.8 L345.1,1184.3 L346.5,1183.7 L347.9,1183.2 L349.3,1182.6 L350.7,1182.1 L352.1,1181.5 L353.4,1180.9 L354.8,1180.4 L356.2,1179.8 L357.6,1179.3 L359.0,1178.7 L360.4,1178.2 L361.8,1177.6 L363.2,1177.1 L364.6,1176.5 L366.0,1175.9 L367.4,1175.4 L368.8,1174.8 L370.2,1174.3 L371.6,1173.7 L373.0,1173.2 L374.4,1172.6 L375.8,1172.1 L377.2,1171.5 L378.6,1170.9 L380.0,1170.4 L381.4,1169.8 L382.8,1169.3 L384.2,1168.7 L385.6,1168.2 L386.9,1167.6 L388.3,1167.1 L389.7,1166.5 L391.1,1166.0 L392.5,1165.4 L393.9,1164.9 L395.3,1164.3 L396.7,1163.7 L398.1,1163.2 L399.5,1162.6 L400.9,1162.1 L402.3,1161.5 L403.7,1161.0 L405.1,1160.4 L406.5,1159.9 L407.9,1159.3 L409.3,1158.8 L410.7,1158.2 L412.1,1157.7 L413.5,1157.1 L414.9,1156.6 L416.3,1156.0 L417.7,1155.5 L419.0,1154.9 L420.4,1154.4 L421.8,1153.8 L423.2,1153.3 L424.6,1152.7 L426.0,1152.2 L427.4,1151.6 L428.8,1151.1 L430.2,1150.5 L431.6,1150.0 L433.0,1149.4 L434.4,1148.9 L435.8,1148.3 L437.2,1147.8 L438.6,1147.3 L440.0,1146.7 L441.4,1146.2 L442.8,1145.6 L444.2,1145.1 L445.6,1144.5 L447.0,1144.0 L448.4,1143.4 L449.8,1142.9 L451.2,1142.4 L452.5,1141.8 L453.9,1141.3 L455.3,1140.7 L456.7,1140.2 L458.1,1139.7 L459.5,1139.1 L460.9,1138.6 L462.3,1138.1 L463.7,1137.5 L465.1,1137.0 L466.5,1136.5 L467.9,1135.9 L469.3,1135.4 L470.7,1134.9 L472.1,1134.3 L473.5,1133.8 L474.9,1133.3 L476.3,1132.8 L477.7,1132.3 L479.1,1131.7 L480.5,1131.2 L481.9,1130.7 L483.3,1130.2 L484.6,1129.7 L486.0,1129.2 L487.4,1128.6 L488.8,1128.1 L490.2,1127.6 L491.6,1127.1 L493.0,1126.6 L494.4,1126.1 L495.8,1125.6 L497.2,1125.1 L498.6,1124.6 L500.0,1124.1 L501.4,1123.6 L502.8,1123.1 L504.2,1122.6 L505.6,1122.1 L507.0,1121.6 L508.4,1121.1 L509.8,1120.6 L511.2,1120.1 L512.6,1119.6 L514.0,1119.1 L515.4,1118.6 L516.8,1118.1 L518.1,1117.6 L519.5,1117.1 L520.9,1116.6 L522.3,1116.1 L523.7,1115.6 L525.1,1115.1 L526.5,1114.6 L527.9,1114.1 L529.3,1113.6 L530.7,1113.1 L532.1,1112.6 L533.5,1112.1 L534.9,1111.5 L536.3,1111.0 L537.7,1110.5 L539.1,1110.0 L540.5,1109.5 L541.9,1109.0 L543.3,1108.5 L544.7,1108.0 L546.1,1107.4 L547.5,1106.9 L548.9,1106.4 L550.2,1105.9 L551.6,1105.4 L553.0,1104.8 L554.4,1104.3 L555.8,1103.8 L557.2,1103.2 L558.6,1102.7 L560.0,1102.1 L561.4,1101.6 L562.8,1101.1 L564.2,1100.5 L565.6,1100.0 L567.0,1099.4 L568.4,1098.9 L569.8,1098.3 L571.2,1097.7 L572.6,1097.2 L574.0,1096.6 L575.4,1096.1 L576.8,1095.5 L578.2,1095.0 L579.6,1094.4 L581.0,1093.9 L582.4,1093.3 L583.7,1092.8 L585.1,1092.2 L586.5,1091.7 L587.9,1091.1 L589.3,1090.6 L590.7,1090.0 L592.1,1089.5 L593.5,1088.9 L594.9,1088.4 L596.3,1087.9 L597.7,1087.3 L599.1,1086.8 L600.5,1086.3 L601.9,1085.8 L603.3,1085.2 L604.7,1084.7 L606.1,1084.2 L607.5,1083.7 L608.9,1083.2 L610.3,1082.7 L611.7,1082.2 L613.1,1081.7 L614.5,1081.2 L615.8,1080.7 L617.2,1080.2 L618.6,1079.7 L620.0,1079.3 L621.4,1078.8 L622.8,1078.3 L624.2,1077.8 L625.6,1077.3 L627.0,1076.9 L628.4,1076.4 L629.8,1075.9 L631.2,1075.4 L632.6,1075.0 L634.0,1074.5 L635.4,1074.0 L636.8,1073.6 L638.2,1073.1 L639.6,1072.6 L641.0,1072.2 L642.4,1071.7 L643.8,1071.2 L645.2,1070.8 L646.6,1070.3 L648.0,1069.9 L649.3,1069.4 L650.7,1069.0 L652.1,1068.5 L653.5,1068.1 L654.9,1067.6 L656.3,1067.2 L657.7,1066.7 L659.1,1066.3 L660.5,1065.8 L661.9,1065.4 L663.3,1064.9 L664.7,1064.5 L666.1,1064.1 L667.5,1063.6 L668.9,1063.2 L670.3,1062.7 L671.7,1062.3 L673.1,1061.9 L674.5,1061.5 L675.9,1061.1 L677.3,1060.6 L678.7,1060.2 L680.1,1059.9 L681.4,1059.5 L682.8,1059.1 L684.2,1058.7 L685.6,1058.3 L687.0,1057.9 L688.4,1057.5 L689.8,1057.1 L691.2,1056.7 L692.6,1056.3 L694.0,1056.0 L695.4,1055.6 L696.8,1055.1 L698.2,1054.7 L699.6,1054.3 L701.0,1053.9 L702.4,1053.5 L703.8,1053.0 L705.2,1052.6 L706.6,1052.1 L708.0,1051.7 L709.4,1051.2 L710.8,1050.7 L712.2,1050.2 L713.6,1049.7 L714.9,1049.1 L716.3,1048.6 L717.7,1048.0 L719.1,1047.5 L720.5,1046.9 L721.9,1046.3 L723.3,1045.7 L724.7,1045.1 L726.1,1044.5 L727.5,1043.9 L728.9,1043.2 L730.3,1042.6 L731.7,1041.9 L733.1,1041.2 L734.5,1040.6 L735.9,1039.9 L737.3,1039.2 L738.7,1038.5 L740.1,1037.8 L741.5,1037.0 L742.9,1036.3 L744.3,1035.6 L745.7,1034.8 L747.0,1034.0 L748.4,1033.3 L749.8,1032.5 L751.2,1031.7 L752.6,1030.9 L754.0,1030.1 L755.4,1029.3 L756.8,1028.5 L758.2,1027.7 L759.6,1026.9 L761.0,1026.0 L762.4,1025.2 L761.0,1031.3 L759.6,1037.1 L758.2,1042.6 L756.8,1047.6 L755.4,1052.2 L754.0,1056.2 L752.6,1059.8 L751.2,1063.1 L749.8,1066.2 L748.4,1069.1 L747.0,1071.8 L745.7,1074.4 L744.3,1076.9 L742.9,1079.3 L741.5,1081.6 L740.1,1083.9 L738.7,1086.1 L737.3,1088.3 L735.9,1090.5 L734.5,1092.6 L733.1,1094.6 L731.7,1096.7 L730.3,1098.7 L728.9,1100.6 L727.5,1102.5 L726.1,1104.4 L724.7,1106.2 L723.3,1108.0 L721.9,1109.7 L720.5,1111.4 L719.1,1113.1 L717.7,1114.8 L716.3,1116.4 L714.9,1118.0 L713.6,1119.6 L712.2,1121.1 L710.8,1122.6 L709.4,1124.1 L708.0,1125.5 L706.6,1127.0 L705.2,1128.4 L703.8,1129.8 L702.4,1131.1 L701.0,1132.5 L699.6,1133.8 L698.2,1135.1 L696.8,1136.4 L695.4,1137.7 L694.0,1138.9 L692.6,1140.2 L691.2,1141.4 L689.8,1142.6 L688.4,1143.8 L687.0,1144.9 L685.6,1146.1 L684.2,1147.2 L682.8,1148.4 L681.4,1149.5 L680.1,1150.6 L678.7,1151.7 L677.3,1152.8 L675.9,1153.9 L674.5,1154.9 L673.1,1156.0 L671.7,1157.1 L670.3,1158.1 L668.9,1159.2 L667.5,1160.2 L666.1,1161.3 L664.7,1162.3 L663.3,1163.3 L661.9,1164.3 L660.5,1165.4 L659.1,1166.4 L657.7,1167.4 L656.3,1168.4 L654.9,1169.3 L653.5,1170.3 L652.1,1171.3 L650.7,1172.2 L649.3,1173.2 L648.0,1174.1 L646.6,1175.1 L645.2,1176.0 L643.8,1176.9 L642.4,1177.9 L641.0,1178.8 L639.6,1179.7 L638.2,1180.5 L636.8,1181.4 L635.4,1182.3 L634.0,1183.2 L632.6,1184.0 L631.2,1184.9 L629.8,1185.7 L628.4,1186.6 L627.0,1187.4 L625.6,1188.2 L624.2,1189.0 L622.8,1189.8 L621.4,1190.6 L620.0,1191.4 L618.6,1192.2 L617.2,1193.0 L615.8,1193.8 L614.5,1194.6 L613.1,1195.4 L611.7,1196.1 L610.3,1196.9 L608.9,1197.7 L607.5,1198.5 L606.1,1199.2 L604.7,1200.0 L603.3,1200.8 L601.9,1201.5 L600.5,1202.3 L599.1,1203.0 L597.7,1203.7 L596.3,1204.4 L594.9,1205.1 L593.5,1205.8 L592.1,1206.5 L590.7,1207.1 L589.3,1207.8 L587.9,1208.4 L586.5,1209.0 L585.1,1209.6 L583.7,1210.1 L582.4,1210.7 L581.0,1211.2 L579.6,1211.7 L578.2,1212.2 L576.8,1212.7 L575.4,1213.2 L574.0,1213.6 L572.6,1214.0 L571.2,1214.5 L569.8,1214.9 L568.4,1215.3 L567.0,1215.6 L565.6,1216.0 L564.2,1216.4 L562.8,1216.7 L561.4,1217.1 L560.0,1217.4 L558.6,1217.8 L557.2,1218.1 L555.8,1218.4 L554.4,1218.8 L553.0,1219.1 L551.6,1219.4 L550.2,1219.7 L548.9,1220.0 L547.5,1220.3 L546.1,1220.7 L544.7,1221.0 L543.3,1221.3 L541.9,1221.6 L540.5,1221.9 L539.1,1222.3 L537.7,1222.6 L536.3,1222.9 L534.9,1223.3 L533.5,1223.6 L532.1,1224.0 L530.7,1224.3 L529.3,1224.7 L527.9,1225.0 L526.5,1225.4 L525.1,1225.7 L523.7,1226.1 L522.3,1226.4 L520.9,1226.8 L519.5,1227.1 L518.1,1227.5 L516.8,1227.8 L515.4,1228.2 L514.0,1228.5 L512.6,1228.9 L511.2,1229.2 L509.8,1229.6 L508.4,1229.9 L507.0,1230.3 L505.6,1230.6 L504.2,1231.0 L502.8,1231.3 L501.4,1231.7 L500.0,1232.0 L498.6,1232.4 L497.2,1232.8 L495.8,1233.1 L494.4,1233.5 L493.0,1233.8 L491.6,1234.2 L490.2,1234.6 L488.8,1234.9 L487.4,1235.3 L486.0,1235.7 L484.6,1236.1 L483.3,1236.5 L481.9,1236.9 L480.5,1237.4 L479.1,1237.8 L477.7,1238.3 L476.3,1238.7 L474.9,1239.2 L473.5,1239.7 L472.1,1240.1 L470.7,1240.6 L469.3,1241.1 L467.9,1241.6 L466.5,1242.1 L465.1,1242.6 L463.7,1243.1 L462.3,1243.6 L460.9,1244.2 L459.5,1244.7 L458.1,1245.2 L456.7,1245.7 L455.3,1246.2 L453.9,1246.7 L452.5,1247.2 L451.2,1247.8 L449.8,1248.3 L448.4,1248.8 L447.0,1249.3 L445.6,1249.8 L444.2,1250.2 L442.8,1250.7 L441.4,1251.2 L440.0,1251.7 L438.6,1252.1 L437.2,1252.6 L435.8,1253.0 L434.4,1253.5 L433.0,1253.9 L431.6,1254.3 L430.2,1254.7 L428.8,1255.1 L427.4,1255.5 L426.0,1255.8 L424.6,1256.2 L423.2,1256.5 L421.8,1256.8 L420.4,1257.1 L419.0,1257.4 L417.7,1257.7 L416.3,1257.9 L414.9,1258.2 L413.5,1258.4 L412.1,1258.6 L410.7,1258.7 L409.3,1258.9 L407.9,1259.0 L406.5,1259.1 L405.1,1259.2 L403.7,1259.3 L402.3,1259.3 L400.9,1259.4 L399.5,1259.3 L398.1,1259.3 L396.7,1259.3 L395.3,1259.3 L393.9,1259.2 L392.5,1259.2 L391.1,1259.1 L389.7,1259.0 L388.3,1258.9 L386.9,1258.9 L385.6,1258.8 L384.2,1258.7 L382.8,1258.6 L381.4,1258.4 L380.0,1258.3 L378.6,1258.2 L377.2,1258.1 L375.8,1258.0 L374.4,1257.8 L373.0,1257.7 L371.6,1257.6 L370.2,1257.5 L368.8,1257.3 L367.4,1257.2 L366.0,1257.1 L364.6,1257.0 L363.2,1256.8 L361.8,1256.7 L360.4,1256.6 L359.0,1256.5 L357.6,1256.4 L356.2,1256.3 L354.8,1256.2 L353.4,1256.2 L352.1,1256.1 L350.7,1256.0 L349.3,1255.9 L347.9,1255.8 L346.5,1255.7 L345.1,1255.6 L343.7,1255.5 L342.3,1255.4 L340.9,1255.4 L339.5,1255.3 L338.1,1255.2 L336.7,1255.1 L335.3,1255.0 L333.9,1254.9 L332.5,1254.8 L331.1,1254.8 L329.7,1254.7 L328.3,1254.6 L326.9,1254.5 L325.5,1254.4 L324.1,1254.4 L322.7,1254.3 L321.3,1254.2 L320.0,1254.2 L318.6,1254.1 L317.2,1254.0 L315.8,1254.0 L314.4,1253.9 L313.0,1253.9 L311.6,1253.8 L310.2,1253.8 L308.8,1253.7 L307.4,1253.7 L306.0,1253.6 L304.6,1253.6 L303.2,1253.5 L301.8,1253.5 L300.4,1253.4 L299.0,1253.4 L297.6,1253.3 L296.2,1253.3 L294.8,1253.3 L293.4,1253.2 L292.0,1253.2 L290.6,1253.1 L289.2,1253.1 L287.8,1253.0 L286.5,1253.0 L285.1,1253.0 L283.7,1252.9 L282.3,1252.9 L280.9,1252.9 L279.5,1252.8 L278.1,1252.8 L276.7,1252.8 L275.3,1252.7 L273.9,1252.7 L272.5,1252.7 L271.1,1252.7 L269.7,1252.6 L268.3,1252.6 L266.9,1252.6 L265.5,1252.6 L264.1,1252.6 L262.7,1252.6 L261.3,1252.6 L259.9,1252.6 L258.5,1252.6 L257.1,1252.5 L255.7,1252.6 L254.4,1252.6 L253.0,1252.7 L251.6,1252.8 L250.2,1252.9 L248.8,1253.1 L247.4,1253.2 L246.0,1253.4 L244.6,1253.6 L243.2,1253.9 L241.8,1254.1 L240.4,1254.3 L239.0,1254.6 L237.6,1254.9 L236.2,1255.1 L234.8,1255.4 L233.4,1255.7 L232.0,1256.0 L230.6,1256.2 L229.2,1256.5 L227.8,1256.7 L226.4,1257.0 L225.0,1257.2 L223.6,1257.4 L222.2,1257.7 L220.9,1257.9 L219.5,1258.1 L218.1,1258.3 L216.7,1258.5 L215.3,1258.7 L213.9,1258.9 L212.5,1259.1 L211.1,1259.3 L209.7,1259.5 L208.3,1259.7 L206.9,1259.9 L205.5,1260.2" fill="none" stroke="#0000ff" stroke-width="4.2" stroke-linejoin="round"/>
<path d="M205.5,1275.4 L206.9,1273.8 L208.3,1272.3 L209.7,1270.8 L211.1,1269.4 L212.5,1267.9 L213.9,1266.5 L215.3,1265.1 L216.7,1263.7 L218.1,1262.3 L219.5,1261.0 L220.9,1259.7 L222.2,1258.4 L223.6,1257.1 L225.0,1255.8 L226.4,1254.6 L227.8,1253.4 L229.2,1252.2 L230.6,1251.0 L232.0,1249.8 L233.4,1248.7 L234.8,1247.5 L236.2,1246.4 L237.6,1245.3 L239.0,1244.3 L240.4,1243.2 L241.8,1242.2 L243.2,1241.1 L244.6,1240.1 L246.0,1239.1 L247.4,1238.2 L248.8,1237.2 L250.2,1236.3 L251.6,1235.3 L253.0,1234.4 L254.4,1233.5 L255.7,1232.6 L257.1,1231.8 L258.5,1230.9 L259.9,1230.1 L261.3,1229.2 L262.7,1228.4 L264.1,1227.6 L265.5,1226.8 L266.9,1226.0 L268.3,1225.3 L269.7,1224.5 L271.1,1223.8 L272.5,1223.0 L273.9,1222.3 L275.3,1221.6 L276.7,1220.9 L278.1,1220.2 L279.5,1219.5 L280.9,1218.8 L282.3,1218.1 L283.7,1217.4 L285.1,1216.7 L286.5,1216.1 L287.8,1215.4 L289.2,1214.7 L290.6,1214.1 L292.0,1213.4 L293.4,1212.8 L294.8,1212.1 L296.2,1211.4 L297.6,1210.8 L299.0,1210.1 L300.4,1209.5 L301.8,1208.8 L303.2,1208.2 L304.6,1207.5 L306.0,1206.8 L307.4,1206.2 L308.8,1205.5 L310.2,1204.9 L311.6,1204.2 L313.0,1203.5 L314.4,1202.9 L315.8,1202.2 L317.2,1201.6 L318.6,1200.9 L320.0,1200.2 L321.3,1199.6 L322.7,1198.9 L324.1,1198.3 L325.5,1197.6 L326.9,1196.9 L328.3,1196.3 L329.7,1195.6 L331.1,1195.0 L332.5,1194.3 L333.9,1193.6 L335.3,1193.0 L336.7,1192.3 L338.1,1191.7 L339.5,1191.0 L340.9,1190.3 L342.3,1189.7 L343.7,1189.0 L345.1,1188.4 L346.5,1187.7 L347.9,1187.0 L349.3,1186.4 L350.7,1185.7 L352.1,1185.1 L353.4,1184.4 L354.8,1183.7 L356.2,1183.1 L357.6,1182.4 L359.0,1181.8 L360.4,1181.1 L361.8,1180.4 L363.2,1179.8 L364.6,1179.1 L366.0,1178.5 L367.4,1177.8 L368.8,1177.1 L370.2,1176.5 L371.6,1175.8 L373.0,1175.2 L374.4,1174.5 L375.8,1173.8 L377.2,1173.2 L378.6,1172.5 L380.0,1171.9 L381.4,1171.2 L382.8,1170.5 L384.2,1169.9 L385.6,1169.2 L386.9,1168.6 L388.3,1167.9 L389.7,1167.2 L391.1,1166.6 L392.5,1165.9 L393.9,1165.3 L395.3,1164.6 L396.7,1163.9 L398.1,1163.3 L399.5,1162.6 L400.9,1161.9 L402.3,1161.3 L403.7,1160.6 L405.1,1159.9 L406.5,1159.3 L407.9,1158.6 L409.3,1157.9 L410.7,1157.2 L412.1,1156.6 L413.5,1155.9 L414.9,1155.2 L416.3,1154.5 L417.7,1153.9 L419.0,1153.2 L420.4,1152.5 L421.8,1151.8 L423.2,1151.2 L424.6,1150.5 L426.0,1149.8 L427.4,1149.1 L428.8,1148.4 L430.2,1147.8 L431.6,1147.1 L433.0,1146.4 L434.4,1145.7 L435.8,1145.1 L437.2,1144.4 L438.6,1143.7 L440.0,1143.0 L441.4,1142.3 L442.8,1141.7 L444.2,1141.0 L445.6,1140.3 L447.0,1139.6 L448.4,1139.0 L449.8,1138.3 L451.2,1137.6 L452.5,1137.0 L453.9,1136.3 L455.3,1135.6 L456.7,1135.0 L458.1,1134.3 L459.5,1133.6 L460.9,1133.0 L462.3,1132.3 L463.7,1131.6 L465.1,1131.0 L466.5,1130.3 L467.9,1129.7 L469.3,1129.0 L470.7,1128.4 L472.1,1127.7 L473.5,1127.1 L474.9,1126.4 L476.3,1125.8 L477.7,1125.1 L479.1,1124.5 L480.5,1123.9 L481.9,1123.2 L483.3,1122.6 L484.6,1122.0 L486.0,1121.3 L487.4,1120.7 L488.8,1120.1 L490.2,1119.5 L491.6,1118.8 L493.0,1118.2 L494.4,1117.6 L495.8,1117.0 L497.2,1116.3 L498.6,1115.7 L500.0,1115.1 L501.4,1114.5 L502.8,1113.9 L504.2,1113.3 L505.6,1112.7 L507.0,1112.0 L508.4,1111.4 L509.8,1110.8 L511.2,1110.2 L512.6,1109.6 L514.0,1109.0 L515.4,1108.4 L516.8,1107.7 L518.1,1107.1 L519.5,1106.5 L520.9,1105.9 L522.3,1105.3 L523.7,1104.7 L525.1,1104.1 L526.5,1103.4 L527.9,1102.8 L529.3,1102.2 L530.7,1101.6 L532.1,1101.0 L533.5,1100.3 L534.9,1099.7 L536.3,1099.1 L537.7,1098.5 L539.1,1097.8 L540.5,1097.2 L541.9,1096.6 L543.3,1095.9 L544.7,1095.3 L546.1,1094.7 L547.5,1094.0 L548.9,1093.4 L550.2,1092.7 L551.6,1092.1 L553.0,1091.4 L554.4,1090.8 L555.8,1090.1 L557.2,1089.4 L558.6,1088.8 L560.0,1088.1 L561.4,1087.4 L562.8,1086.8 L564.2,1086.1 L565.6,1085.4 L567.0,1084.7 L568.4,1084.0 L569.8,1083.3 L571.2,1082.7 L572.6,1082.0 L574.0,1081.3 L575.4,1080.6 L576.8,1079.9 L578.2,1079.2 L579.6,1078.5 L581.0,1077.8 L582.4,1077.1 L583.7,1076.5 L585.1,1075.8 L586.5,1075.1 L587.9,1074.4 L589.3,1073.7 L590.7,1073.1 L592.1,1072.4 L593.5,1071.7 L594.9,1071.0 L596.3,1070.4 L597.7,1069.7 L599.1,1069.1 L600.5,1068.4 L601.9,1067.8 L603.3,1067.1 L604.7,1066.5 L606.1,1065.9 L607.5,1065.3 L608.9,1064.6 L610.3,1064.0 L611.7,1063.4 L613.1,1062.8 L614.5,1062.2 L615.8,1061.6 L617.2,1061.0 L618.6,1060.4 L620.0,1059.8 L621.4,1059.2 L622.8,1058.6 L624.2,1058.0 L625.6,1057.4 L627.0,1056.8 L628.4,1056.2 L629.8,1055.7 L631.2,1055.1 L632.6,1054.5 L634.0,1053.9 L635.4,1053.3 L636.8,1052.8 L638.2,1052.2 L639.6,1051.6 L641.0,1051.1 L642.4,1050.5 L643.8,1050.0 L645.2,1049.4 L646.6,1048.8 L648.0,1048.3 L649.3,1047.8 L650.7,1047.2 L652.1,1046.7 L653.5,1046.1 L654.9,1045.6 L656.3,1045.1 L657.7,1044.5 L659.1,1044.0 L660.5,1043.5 L661.9,1043.0 L663.3,1042.5 L664.7,1042.0 L666.1,1041.5 L667.5,1041.0 L668.9,1040.5 L670.3,1040.0 L671.7,1039.5 L673.1,1039.0 L674.5,1038.6 L675.9,1038.1 L677.3,1037.7 L678.7,1037.3 L680.1,1036.8 L681.4,1036.4 L682.8,1036.0 L684.2,1035.6 L685.6,1035.2 L687.0,1034.8 L688.4,1034.3 L689.8,1033.9 L691.2,1033.5 L692.6,1033.1 L694.0,1032.7 L695.4,1032.3 L696.8,1031.9 L698.2,1031.5 L699.6,1031.0 L701.0,1030.6 L702.4,1030.2 L703.8,1029.7 L705.2,1029.2 L706.6,1028.8 L708.0,1028.3 L709.4,1027.8 L710.8,1027.3 L712.2,1026.8 L713.6,1026.3 L714.9,1025.7 L716.3,1025.2 L717.7,1024.6 L719.1,1024.1 L720.5,1023.5 L721.9,1022.9 L723.3,1022.3 L724.7,1021.7 L726.1,1021.1 L727.5,1020.5 L728.9,1019.9 L730.3,1019.3 L731.7,1018.6 L733.1,1018.0 L734.5,1017.3 L735.9,1016.7 L737.3,1016.0 L738.7,1015.3 L740.1,1014.6 L741.5,1013.9 L742.9,1013.2 L744.3,1012.5 L745.7,1011.8 L747.0,1011.1 L748.4,1010.4 L749.8,1009.6 L751.2,1008.9 L752.6,1008.2 L754.0,1007.4 L755.4,1006.6 L756.8,1005.9 L758.2,1005.1 L759.6,1004.3 L761.0,1003.6 L762.4,1002.8 L761.0,1007.3 L759.6,1011.7 L758.2,1016.0 L756.8,1020.2 L755.4,1024.3 L754.0,1028.3 L752.6,1032.2 L751.2,1035.9 L749.8,1039.5 L748.4,1042.9 L747.0,1046.3 L745.7,1049.6 L744.3,1052.8 L742.9,1056.0 L741.5,1059.0 L740.1,1062.0 L738.7,1064.9 L737.3,1067.7 L735.9,1070.4 L734.5,1073.0 L733.1,1075.5 L731.7,1077.9 L730.3,1080.2 L728.9,1082.5 L727.5,1084.7 L726.1,1086.9 L724.7,1089.0 L723.3,1091.1 L721.9,1093.1 L720.5,1095.1 L719.1,1097.0 L717.7,1098.9 L716.3,1100.7 L714.9,1102.4 L713.6,1104.1 L712.2,1105.8 L710.8,1107.4 L709.4,1108.9 L708.0,1110.4 L706.6,1111.8 L705.2,1113.3 L703.8,1114.6 L702.4,1116.0 L701.0,1117.3 L699.6,1118.6 L698.2,1119.9 L696.8,1121.1 L695.4,1122.4 L694.0,1123.6 L692.6,1124.8 L691.2,1125.9 L689.8,1127.1 L688.4,1128.2 L687.0,1129.3 L685.6,1130.4 L684.2,1131.5 L682.8,1132.6 L681.4,1133.7 L680.1,1134.8 L678.7,1135.9 L677.3,1136.9 L675.9,1138.0 L674.5,1139.1 L673.1,1140.2 L671.7,1141.2 L670.3,1142.3 L668.9,1143.4 L667.5,1144.5 L666.1,1145.6 L664.7,1146.7 L663.3,1147.8 L661.9,1148.9 L660.5,1150.0 L659.1,1151.1 L657.7,1152.2 L656.3,1153.3 L654.9,1154.4 L653.5,1155.5 L652.1,1156.6 L650.7,1157.6 L649.3,1158.7 L648.0,1159.8 L646.6,1160.8 L645.2,1161.9 L643.8,1162.9 L642.4,1164.0 L641.0,1165.0 L639.6,1166.1 L638.2,1167.1 L636.8,1168.1 L635.4,1169.2 L634.0,1170.2 L632.6,1171.2 L631.2,1172.3 L629.8,1173.3 L628.4,1174.3 L627.0,1175.3 L625.6,1176.4 L624.2,1177.4 L622.8,1178.4 L621.4,1179.4 L620.0,1180.4 L618.6,1181.5 L617.2,1182.5 L615.8,1183.5 L614.5,1184.6 L613.1,1185.6 L611.7,1186.7 L610.3,1187.7 L608.9,1188.8 L607.5,1189.8 L606.1,1190.8 L604.7,1191.9 L603.3,1192.9 L601.9,1193.9 L600.5,1195.0 L599.1,1196.0 L597.7,1197.0 L596.3,1198.0 L594.9,1199.0 L593.5,1200.0 L592.1,1201.0 L590.7,1201.9 L589.3,1202.9 L587.9,1203.8 L586.5,1204.8 L585.1,1205.7 L583.7,1206.6 L582.4,1207.5 L581.0,1208.4 L579.6,1209.2 L578.2,1210.0 L576.8,1210.9 L575.4,1211.7 L574.0,1212.5 L572.6,1213.3 L571.2,1214.0 L569.8,1214.8 L568.4,1215.6 L567.0,1216.3 L565.6,1217.1 L564.2,1217.8 L562.8,1218.6 L561.4,1219.3 L560.0,1220.0 L558.6,1220.8 L557.2,1221.5 L555.8,1222.2 L554.4,1222.9 L553.0,1223.5 L551.6,1224.2 L550.2,1224.9 L548.9,1225.6 L547.5,1226.2 L546.1,1226.9 L544.7,1227.5 L543.3,1228.1 L541.9,1228.8 L540.5,1229.4 L539.1,1230.0 L537.7,1230.6 L536.3,1231.2 L534.9,1231.8 L533.5,1232.4 L532.1,1232.9 L530.7,1233.5 L529.3,1234.1 L527.9,1234.6 L526.5,1235.2 L525.1,1235.7 L523.7,1236.3 L522.3,1236.8 L520.9,1237.3 L519.5,1237.9 L518.1,1238.4 L516.8,1238.9 L515.4,1239.4 L514.0,1239.9 L512.6,1240.4 L511.2,1240.9 L509.8,1241.4 L508.4,1241.9 L507.0,1242.3 L505.6,1242.8 L504.2,1243.3 L502.8,1243.7 L501.4,1244.2 L500.0,1244.7 L498.6,1245.1 L497.2,1245.6 L495.8,1246.0 L494.4,1246.4 L493.0,1246.9 L491.6,1247.3 L490.2,1247.7 L488.8,1248.1 L487.4,1248.6 L486.0,1249.0 L484.6,1249.4 L483.3,1249.9 L481.9,1250.3 L480.5,1250.8 L479.1,1251.2 L477.7,1251.7 L476.3,1252.2 L474.9,1252.6 L473.5,1253.1 L472.1,1253.6 L470.7,1254.0 L469.3,1254.5 L467.9,1255.0 L466.5,1255.5 L465.1,1256.0 L463.7,1256.4 L462.3,1256.9 L460.9,1257.4 L459.5,1257.9 L458.1,1258.3 L456.7,1258.8 L455.3,1259.3 L453.9,1259.7 L452.5,1260.2 L451.2,1260.6 L449.8,1261.1 L448.4,1261.5 L447.0,1262.0 L445.6,1262.4 L444.2,1262.8 L442.8,1263.3 L441.4,1263.7 L440.0,1264.1 L438.6,1264.5 L437.2,1264.9 L435.8,1265.3 L434.4,1265.6 L433.0,1266.0 L431.6,1266.3 L430.2,1266.7 L428.8,1267.0 L427.4,1267.3 L426.0,1267.6 L424.6,1267.9 L423.2,1268.2 L421.8,1268.5 L420.4,1268.7 L419.0,1269.0 L417.7,1269.2 L416.3,1269.4 L414.9,1269.6 L413.5,1269.8 L412.1,1269.9 L410.7,1270.1 L409.3,1270.2 L407.9,1270.3 L406.5,1270.4 L405.1,1270.5 L403.7,1270.5 L402.3,1270.5 L400.9,1270.6 L399.5,1270.6 L398.1,1270.5 L396.7,1270.5 L395.3,1270.5 L393.9,1270.5 L392.5,1270.4 L391.1,1270.4 L389.7,1270.3 L388.3,1270.2 L386.9,1270.2 L385.6,1270.1 L384.2,1270.0 L382.8,1269.9 L381.4,1269.8 L380.0,1269.8 L378.6,1269.7 L377.2,1269.6 L375.8,1269.5 L374.4,1269.4 L373.0,1269.3 L371.6,1269.2 L370.2,1269.1 L368.8,1269.0 L367.4,1268.9 L366.0,1268.8 L364.6,1268.7 L363.2,1268.6 L361.8,1268.5 L360.4,1268.4 L359.0,1268.3 L357.6,1268.3 L356.2,1268.2 L354.8,1268.1 L353.4,1268.0 L352.1,1268.0 L350.7,1267.9 L349.3,1267.8 L347.9,1267.7 L346.5,1267.7 L345.1,1267.6 L343.7,1267.5 L342.3,1267.4 L340.9,1267.3 L339.5,1267.3 L338.1,1267.2 L336.7,1267.1 L335.3,1267.0 L333.9,1266.9 L332.5,1266.9 L331.1,1266.8 L329.7,1266.7 L328.3,1266.7 L326.9,1266.6 L325.5,1266.5 L324.1,1266.5 L322.7,1266.4 L321.3,1266.4 L320.0,1266.3 L318.6,1266.3 L317.2,1266.2 L315.8,1266.2 L314.4,1266.2 L313.0,1266.2 L311.6,1266.2 L310.2,1266.2 L308.8,1266.2 L307.4,1266.2 L306.0,1266.2 L304.6,1266.2 L303.2,1266.2 L301.8,1266.2 L300.4,1266.2 L299.0,1266.3 L297.6,1266.3 L296.2,1266.3 L294.8,1266.4 L293.4,1266.4 L292.0,1266.4 L290.6,1266.5 L289.2,1266.5 L287.8,1266.6 L286.5,1266.6 L285.1,1266.7 L283.7,1266.7 L282.3,1266.8 L280.9,1266.9 L279.5,1266.9 L278.1,1267.0 L276.7,1267.1 L275.3,1267.1 L273.9,1267.2 L272.5,1267.3 L271.1,1267.3 L269.7,1267.4 L268.3,1267.5 L266.9,1267.6 L265.5,1267.7 L264.1,1267.7 L262.7,1267.8 L261.3,1267.9 L259.9,1268.0 L258.5,1268.1 L257.1,1268.2 L255.7,1268.3 L254.4,1268.4 L253.0,1268.5 L251.6,1268.6 L250.2,1268.8 L248.8,1269.0 L247.4,1269.1 L246.0,1269.3 L244.6,1269.5 L243.2,1269.7 L241.8,1270.0 L240.4,1270.2 L239.0,1270.4 L237.6,1270.6 L236.2,1270.9 L234.8,1271.1 L233.4,1271.3 L232.0,1271.6 L230.6,1271.8 L229.2,1272.0 L227.8,1272.2 L226.4,1272.4 L225.0,1272.7 L223.6,1272.9 L222.2,1273.1 L220.9,1273.3 L219.5,1273.4 L218.1,1273.6 L216.7,1273.8 L215.3,1274.0 L213.9,1274.2 L212.5,1274.4 L211.1,1274.6 L209.7,1274.8 L208.3,1275.0 L206.9,1275.2 L205.5,1275.4" fill="none" stroke="#00ffff" stroke-width="4.2" stroke-linejoin="round"/>
<path d="M205.5,1287.4 L206.9,1285.8 L208.3,1284.3 L209.7,1282.8 L211.1,1281.4 L212.5,1279.9 L213.9,1278.5 L215.3,1277.1 L216.7,1275.7 L218.1,1274.3 L219.5,1272.9 L220.9,1271.6 L222.2,1270.3 L223.6,1269.0 L225.0,1267.7 L226.4,1266.4 L227.8,1265.1 L229.2,1263.9 L230.6,1262.7 L232.0,1261.5 L233.4,1260.3 L234.8,1259.1 L236.2,1257.9 L237.6,1256.8 L239.0,1255.7 L240.4,1254.6 L241.8,1253.5 L243.2,1252.4 L244.6,1251.3 L246.0,1250.2 L247.4,1249.2 L248.8,1248.2 L250.2,1247.2 L251.6,1246.2 L253.0,1245.2 L254.4,1244.2 L255.7,1243.2 L257.1,1242.3 L258.5,1241.4 L259.9,1240.4 L261.3,1239.5 L262.7,1238.6 L264.1,1237.7 L265.5,1236.8 L266.9,1236.0 L268.3,1235.1 L269.7,1234.3 L271.1,1233.4 L272.5,1232.6 L273.9,1231.7 L275.3,1230.9 L276.7,1230.1 L278.1,1229.3 L279.5,1228.5 L280.9,1227.7 L282.3,1226.9 L283.7,1226.2 L285.1,1225.4 L286.5,1224.6 L287.8,1223.8 L289.2,1223.1 L290.6,1222.3 L292.0,1221.5 L293.4,1220.8 L294.8,1220.0 L296.2,1219.2 L297.6,1218.5 L299.0,1217.7 L300.4,1216.9 L301.8,1216.2 L303.2,1215.4 L304.6,1214.7 L306.0,1213.9 L307.4,1213.1 L308.8,1212.4 L310.2,1211.6 L311.6,1210.8 L313.0,1210.1 L314.4,1209.3 L315.8,1208.5 L317.2,1207.8 L318.6,1207.0 L320.0,1206.2 L321.3,1205.5 L322.7,1204.7 L324.1,1203.9 L325.5,1203.2 L326.9,1202.4 L328.3,1201.6 L329.7,1200.9 L331.1,1200.1 L332.5,1199.3 L333.9,1198.6 L335.3,1197.8 L336.7,1197.0 L338.1,1196.3 L339.5,1195.5 L340.9,1194.7 L342.3,1194.0 L343.7,1193.2 L345.1,1192.4 L346.5,1191.7 L347.9,1190.9 L349.3,1190.1 L350.7,1189.4 L352.1,1188.6 L353.4,1187.8 L354.8,1187.1 L356.2,1186.3 L357.6,1185.5 L359.0,1184.8 L360.4,1184.0 L361.8,1183.2 L363.2,1182.5 L364.6,1181.7 L366.0,1180.9 L367.4,1180.1 L368.8,1179.4 L370.2,1178.6 L371.6,1177.8 L373.0,1177.1 L374.4,1176.3 L375.8,1175.5 L377.2,1174.8 L378.6,1174.0 L380.0,1173.2 L381.4,1172.5 L382.8,1171.7 L384.2,1170.9 L385.6,1170.2 L386.9,1169.4 L388.3,1168.6 L389.7,1167.9 L391.1,1167.1 L392.5,1166.3 L393.9,1165.6 L395.3,1164.8 L396.7,1164.1 L398.1,1163.3 L399.5,1162.6 L400.9,1161.8 L402.3,1161.1 L403.7,1160.3 L405.1,1159.6 L406.5,1158.8 L407.9,1158.1 L409.3,1157.3 L410.7,1156.6 L412.1,1155.8 L413.5,1155.1 L414.9,1154.3 L416.3,1153.6 L417.7,1152.8 L419.0,1152.1 L420.4,1151.3 L421.8,1150.6 L423.2,1149.8 L424.6,1149.1 L426.0,1148.3 L427.4,1147.6 L428.8,1146.9 L430.2,1146.1 L431.6,1145.4 L433.0,1144.6 L434.4,1143.9 L435.8,1143.2 L437.2,1142.4 L438.6,1141.7 L440.0,1140.9 L441.4,1140.2 L442.8,1139.5 L444.2,1138.7 L445.6,1138.0 L447.0,1137.3 L448.4,1136.5 L449.8,1135.8 L451.2,1135.1 L452.5,1134.3 L453.9,1133.6 L455.3,1132.9 L456.7,1132.1 L458.1,1131.4 L459.5,1130.7 L460.9,1130.0 L462.3,1129.2 L463.7,1128.5 L465.1,1127.8 L466.5,1127.1 L467.9,1126.3 L469.3,1125.6 L470.7,1124.9 L472.1,1124.2 L473.5,1123.4 L474.9,1122.7 L476.3,1122.0 L477.7,1121.3 L479.1,1120.6 L480.5,1119.9 L481.9,1119.2 L483.3,1118.4 L484.6,1117.7 L486.0,1117.0 L487.4,1116.3 L488.8,1115.6 L490.2,1114.9 L491.6,1114.2 L493.0,1113.5 L494.4,1112.8 L495.8,1112.1 L497.2,1111.4 L498.6,1110.7 L500.0,1110.1 L501.4,1109.4 L502.8,1108.7 L504.2,1108.0 L505.6,1107.3 L507.0,1106.6 L508.4,1105.9 L509.8,1105.2 L511.2,1104.5 L512.6,1103.8 L514.0,1103.1 L515.4,1102.4 L516.8,1101.7 L518.1,1101.0 L519.5,1100.3 L520.9,1099.7 L522.3,1099.0 L523.7,1098.3 L525.1,1097.6 L526.5,1096.9 L527.9,1096.2 L529.3,1095.5 L530.7,1094.8 L532.1,1094.0 L533.5,1093.3 L534.9,1092.6 L536.3,1091.9 L537.7,1091.2 L539.1,1090.5 L540.5,1089.8 L541.9,1089.1 L543.3,1088.3 L544.7,1087.6 L546.1,1086.9 L547.5,1086.2 L548.9,1085.4 L550.2,1084.7 L551.6,1084.0 L553.0,1083.2 L554.4,1082.5 L555.8,1081.7 L557.2,1081.0 L558.6,1080.2 L560.0,1079.5 L561.4,1078.7 L562.8,1077.9 L564.2,1077.2 L565.6,1076.4 L567.0,1075.6 L568.4,1074.8 L569.8,1074.1 L571.2,1073.3 L572.6,1072.5 L574.0,1071.7 L575.4,1070.9 L576.8,1070.2 L578.2,1069.4 L579.6,1068.6 L581.0,1067.8 L582.4,1067.0 L583.7,1066.2 L585.1,1065.5 L586.5,1064.7 L587.9,1063.9 L589.3,1063.1 L590.7,1062.3 L592.1,1061.6 L593.5,1060.8 L594.9,1060.0 L596.3,1059.3 L597.7,1058.5 L599.1,1057.8 L600.5,1057.0 L601.9,1056.3 L603.3,1055.5 L604.7,1054.8 L606.1,1054.0 L607.5,1053.3 L608.9,1052.6 L610.3,1051.9 L611.7,1051.2 L613.1,1050.4 L614.5,1049.7 L615.8,1049.0 L617.2,1048.3 L618.6,1047.6 L620.0,1046.9 L621.4,1046.2 L622.8,1045.5 L624.2,1044.8 L625.6,1044.1 L627.0,1043.4 L628.4,1042.7 L629.8,1042.0 L631.2,1041.3 L632.6,1040.7 L634.0,1040.0 L635.4,1039.3 L636.8,1038.6 L638.2,1037.9 L639.6,1037.3 L641.0,1036.6 L642.4,1035.9 L643.8,1035.2 L645.2,1034.6 L646.6,1033.9 L648.0,1033.2 L649.3,1032.6 L650.7,1031.9 L652.1,1031.3 L653.5,1030.6 L654.9,1029.9 L656.3,1029.3 L657.7,1028.6 L659.1,1028.0 L660.5,1027.3 L661.9,1026.7 L663.3,1026.1 L664.7,1025.4 L666.1,1024.8 L667.5,1024.1 L668.9,1023.5 L670.3,1022.9 L671.7,1022.2 L673.1,1021.6 L674.5,1021.0 L675.9,1020.4 L677.3,1019.8 L678.7,1019.1 L680.1,1018.5 L681.4,1017.9 L682.8,1017.3 L684.2,1016.7 L685.6,1016.1 L687.0,1015.5 L688.4,1014.9 L689.8,1014.3 L691.2,1013.7 L692.6,1013.1 L694.0,1012.5 L695.4,1011.9 L696.8,1011.3 L698.2,1010.7 L699.6,1010.1 L701.0,1009.6 L702.4,1009.0 L703.8,1008.4 L705.2,1007.8 L706.6,1007.2 L708.0,1006.6 L709.4,1006.0 L710.8,1005.4 L712.2,1004.8 L713.6,1004.2 L714.9,1003.7 L716.3,1003.1 L717.7,1002.5 L719.1,1001.9 L720.5,1001.3 L721.9,1000.7 L723.3,1000.1 L724.7,999.5 L726.1,999.0 L727.5,998.4 L728.9,997.8 L730.3,997.2 L731.7,996.6 L733.1,996.0 L734.5,995.5 L735.9,994.9 L737.3,994.3 L738.7,993.7 L740.1,993.1 L741.5,992.6 L742.9,992.0 L744.3,991.4 L745.7,990.8 L747.0,990.2 L748.4,989.7 L749.8,989.1 L751.2,988.5 L752.6,987.9 L754.0,987.4 L755.4,986.8 L756.8,986.2 L758.2,985.7 L759.6,985.1 L761.0,984.5 L762.4,983.9 L761.0,987.9 L759.6,991.7 L758.2,995.5 L756.8,999.3 L755.4,1003.0 L754.0,1006.7 L752.6,1010.3 L751.2,1013.9 L749.8,1017.4 L748.4,1020.8 L747.0,1024.2 L745.7,1027.6 L744.3,1030.8 L742.9,1034.1 L741.5,1037.2 L740.1,1040.3 L738.7,1043.3 L737.3,1046.3 L735.9,1049.2 L734.5,1052.0 L733.1,1054.9 L731.7,1057.6 L730.3,1060.4 L728.9,1063.1 L727.5,1065.8 L726.1,1068.4 L724.7,1071.0 L723.3,1073.6 L721.9,1076.1 L720.5,1078.5 L719.1,1080.9 L717.7,1083.2 L716.3,1085.4 L714.9,1087.6 L713.6,1089.6 L712.2,1091.6 L710.8,1093.5 L709.4,1095.4 L708.0,1097.1 L706.6,1098.8 L705.2,1100.5 L703.8,1102.1 L702.4,1103.7 L701.0,1105.3 L699.6,1106.8 L698.2,1108.3 L696.8,1109.7 L695.4,1111.1 L694.0,1112.5 L692.6,1113.9 L691.2,1115.2 L689.8,1116.6 L688.4,1117.9 L687.0,1119.2 L685.6,1120.4 L684.2,1121.7 L682.8,1122.9 L681.4,1124.2 L680.1,1125.4 L678.7,1126.6 L677.3,1127.8 L675.9,1129.1 L674.5,1130.3 L673.1,1131.5 L671.7,1132.7 L670.3,1134.0 L668.9,1135.2 L667.5,1136.5 L666.1,1137.7 L664.7,1139.0 L663.3,1140.3 L661.9,1141.6 L660.5,1142.8 L659.1,1144.1 L657.7,1145.3 L656.3,1146.6 L654.9,1147.8 L653.5,1149.0 L652.1,1150.2 L650.7,1151.5 L649.3,1152.7 L648.0,1153.9 L646.6,1155.1 L645.2,1156.3 L643.8,1157.5 L642.4,1158.7 L641.0,1159.9 L639.6,1161.1 L638.2,1162.2 L636.8,1163.4 L635.4,1164.6 L634.0,1165.8 L632.6,1166.9 L631.2,1168.1 L629.8,1169.3 L628.4,1170.4 L627.0,1171.6 L625.6,1172.8 L624.2,1173.9 L622.8,1175.1 L621.4,1176.2 L620.0,1177.4 L618.6,1178.6 L617.2,1179.7 L615.8,1180.9 L614.5,1182.1 L613.1,1183.3 L611.7,1184.5 L610.3,1185.6 L608.9,1186.8 L607.5,1188.0 L606.1,1189.2 L604.7,1190.3 L603.3,1191.5 L601.9,1192.7 L600.5,1193.8 L599.1,1195.0 L597.7,1196.1 L596.3,1197.3 L594.9,1198.4 L593.5,1199.5 L592.1,1200.6 L590.7,1201.7 L589.3,1202.8 L587.9,1203.9 L586.5,1204.9 L585.1,1206.0 L583.7,1207.0 L582.4,1208.0 L581.0,1209.0 L579.6,1210.0 L578.2,1211.0 L576.8,1211.9 L575.4,1212.8 L574.0,1213.8 L572.6,1214.7 L571.2,1215.6 L569.8,1216.5 L568.4,1217.4 L567.0,1218.2 L565.6,1219.1 L564.2,1220.0 L562.8,1220.8 L561.4,1221.7 L560.0,1222.5 L558.6,1223.3 L557.2,1224.2 L555.8,1225.0 L554.4,1225.8 L553.0,1226.6 L551.6,1227.4 L550.2,1228.2 L548.9,1228.9 L547.5,1229.7 L546.1,1230.5 L544.7,1231.2 L543.3,1231.9 L541.9,1232.7 L540.5,1233.4 L539.1,1234.1 L537.7,1234.8 L536.3,1235.5 L534.9,1236.2 L533.5,1236.9 L532.1,1237.6 L530.7,1238.3 L529.3,1239.0 L527.9,1239.6 L526.5,1240.3 L525.1,1241.0 L523.7,1241.6 L522.3,1242.3 L520.9,1242.9 L519.5,1243.6 L518.1,1244.2 L516.8,1244.8 L515.4,1245.5 L514.0,1246.1 L512.6,1246.7 L511.2,1247.3 L509.8,1247.9 L508.4,1248.5 L507.0,1249.1 L505.6,1249.7 L504.2,1250.2 L502.8,1250.8 L501.4,1251.4 L500.0,1251.9 L498.6,1252.4 L497.2,1253.0 L495.8,1253.5 L494.4,1254.0 L493.0,1254.5 L491.6,1255.0 L490.2,1255.5 L488.8,1255.9 L487.4,1256.4 L486.0,1256.9 L484.6,1257.4 L483.3,1257.9 L481.9,1258.4 L480.5,1258.8 L479.1,1259.3 L477.7,1259.8 L476.3,1260.3 L474.9,1260.8 L473.5,1261.3 L472.1,1261.9 L470.7,1262.4 L469.3,1262.9 L467.9,1263.4 L466.5,1263.9 L465.1,1264.4 L463.7,1264.9 L462.3,1265.4 L460.9,1265.9 L459.5,1266.4 L458.1,1266.9 L456.7,1267.4 L455.3,1267.8 L453.9,1268.3 L452.5,1268.8 L451.2,1269.3 L449.8,1269.7 L448.4,1270.2 L447.0,1270.7 L445.6,1271.1 L444.2,1271.5 L442.8,1272.0 L441.4,1272.4 L440.0,1272.8 L438.6,1273.2 L437.2,1273.6 L435.8,1274.0 L434.4,1274.4 L433.0,1274.7 L431.6,1275.1 L430.2,1275.4 L428.8,1275.8 L427.4,1276.1 L426.0,1276.4 L424.6,1276.7 L423.2,1277.0 L421.8,1277.3 L420.4,1277.5 L419.0,1277.8 L417.7,1278.0 L416.3,1278.2 L414.9,1278.4 L413.5,1278.6 L412.1,1278.7 L410.7,1278.9 L409.3,1279.0 L407.9,1279.1 L406.5,1279.2 L405.1,1279.3 L403.7,1279.3 L402.3,1279.4 L400.9,1279.4 L399.5,1279.4 L398.1,1279.4 L396.7,1279.4 L395.3,1279.4 L393.9,1279.4 L392.5,1279.3 L391.1,1279.3 L389.7,1279.3 L388.3,1279.3 L386.9,1279.3 L385.6,1279.3 L384.2,1279.3 L382.8,1279.3 L381.4,1279.2 L380.0,1279.2 L378.6,1279.2 L377.2,1279.2 L375.8,1279.2 L374.4,1279.2 L373.0,1279.1 L371.6,1279.1 L370.2,1279.1 L368.8,1279.1 L367.4,1279.1 L366.0,1279.0 L364.6,1279.0 L363.2,1279.0 L361.8,1279.0 L360.4,1279.0 L359.0,1279.0 L357.6,1278.9 L356.2,1278.9 L354.8,1278.9 L353.4,1278.9 L352.1,1278.9 L350.7,1278.9 L349.3,1278.9 L347.9,1278.9 L346.5,1278.8 L345.1,1278.8 L343.7,1278.8 L342.3,1278.8 L340.9,1278.8 L339.5,1278.8 L338.1,1278.8 L336.7,1278.7 L335.3,1278.7 L333.9,1278.7 L332.5,1278.7 L331.1,1278.7 L329.7,1278.7 L328.3,1278.7 L326.9,1278.6 L325.5,1278.6 L324.1,1278.6 L322.7,1278.6 L321.3,1278.6 L320.0,1278.6 L318.6,1278.6 L317.2,1278.6 L315.8,1278.6 L314.4,1278.6 L313.0,1278.6 L311.6,1278.6 L310.2,1278.6 L308.8,1278.6 L307.4,1278.6 L306.0,1278.6 L304.6,1278.6 L303.2,1278.6 L301.8,1278.6 L300.4,1278.7 L299.0,1278.7 L297.6,1278.7 L296.2,1278.8 L294.8,1278.8 L293.4,1278.9 L292.0,1278.9 L290.6,1279.0 L289.2,1279.0 L287.8,1279.1 L286.5,1279.2 L285.1,1279.2 L283.7,1279.3 L282.3,1279.4 L280.9,1279.5 L279.5,1279.5 L278.1,1279.6 L276.7,1279.7 L275.3,1279.8 L273.9,1279.9 L272.5,1279.9 L271.1,1280.0 L269.7,1280.1 L268.3,1280.2 L266.9,1280.3 L265.5,1280.4 L264.1,1280.5 L262.7,1280.6 L261.3,1280.7 L259.9,1280.8 L258.5,1280.9 L257.1,1281.0 L255.7,1281.1 L254.4,1281.2 L253.0,1281.3 L251.6,1281.5 L250.2,1281.6 L248.8,1281.8 L247.4,1281.9 L246.0,1282.1 L244.6,1282.3 L243.2,1282.5 L241.8,1282.7 L240.4,1282.9 L239.0,1283.1 L237.6,1283.3 L236.2,1283.5 L234.8,1283.7 L233.4,1283.9 L232.0,1284.1 L230.6,1284.3 L229.2,1284.5 L227.8,1284.7 L226.4,1284.9 L225.0,1285.1 L223.6,1285.3 L222.2,1285.5 L220.9,1285.6 L219.5,1285.8 L218.1,1286.0 L216.7,1286.1 L215.3,1286.3 L213.9,1286.4 L212.5,1286.6 L211.1,1286.8 L209.7,1286.9 L208.3,1287.1 L206.9,1287.2 L205.5,1287.4" fill="none" stroke="#ff00ff" stroke-width="4.2" stroke-linejoin="round"/>
<path d="M205.5,1299.4 L206.9,1297.7 L208.3,1296.0 L209.7,1294.4 L211.1,1292.7 L212.5,1291.1 L213.9,1289.5 L215.3,1288.0 L216.7,1286.4 L218.1,1284.9 L219.5,1283.4 L220.9,1281.9 L222.2,1280.5 L223.6,1279.0 L225.0,1277.6 L226.4,1276.2 L227.8,1274.8 L229.2,1273.4 L230.6,1272.1 L232.0,1270.8 L233.4,1269.4 L234.8,1268.1 L236.2,1266.9 L237.6,1265.6 L239.0,1264.4 L240.4,1263.1 L241.8,1261.9 L243.2,1260.7 L244.6,1259.6 L246.0,1258.4 L247.4,1257.3 L248.8,1256.1 L250.2,1255.0 L251.6,1253.9 L253.0,1252.8 L254.4,1251.8 L255.7,1250.7 L257.1,1249.7 L258.5,1248.6 L259.9,1247.6 L261.3,1246.6 L262.7,1245.6 L264.1,1244.6 L265.5,1243.7 L266.9,1242.7 L268.3,1241.8 L269.7,1240.8 L271.1,1239.9 L272.5,1239.0 L273.9,1238.1 L275.3,1237.2 L276.7,1236.3 L278.1,1235.4 L279.5,1234.6 L280.9,1233.7 L282.3,1232.9 L283.7,1232.0 L285.1,1231.1 L286.5,1230.3 L287.8,1229.4 L289.2,1228.6 L290.6,1227.8 L292.0,1226.9 L293.4,1226.1 L294.8,1225.3 L296.2,1224.4 L297.6,1223.6 L299.0,1222.8 L300.4,1221.9 L301.8,1221.1 L303.2,1220.3 L304.6,1219.4 L306.0,1218.6 L307.4,1217.8 L308.8,1216.9 L310.2,1216.1 L311.6,1215.3 L313.0,1214.4 L314.4,1213.6 L315.8,1212.7 L317.2,1211.9 L318.6,1211.1 L320.0,1210.2 L321.3,1209.4 L322.7,1208.6 L324.1,1207.7 L325.5,1206.9 L326.9,1206.0 L328.3,1205.2 L329.7,1204.4 L331.1,1203.5 L332.5,1202.7 L333.9,1201.9 L335.3,1201.0 L336.7,1200.2 L338.1,1199.3 L339.5,1198.5 L340.9,1197.7 L342.3,1196.8 L343.7,1196.0 L345.1,1195.2 L346.5,1194.3 L347.9,1193.5 L349.3,1192.7 L350.7,1191.8 L352.1,1191.0 L353.4,1190.1 L354.8,1189.3 L356.2,1188.5 L357.6,1187.6 L359.0,1186.8 L360.4,1185.9 L361.8,1185.1 L363.2,1184.3 L364.6,1183.4 L366.0,1182.6 L367.4,1181.7 L368.8,1180.9 L370.2,1180.0 L371.6,1179.2 L373.0,1178.4 L374.4,1177.5 L375.8,1176.7 L377.2,1175.8 L378.6,1175.0 L380.0,1174.2 L381.4,1173.3 L382.8,1172.5 L384.2,1171.6 L385.6,1170.8 L386.9,1170.0 L388.3,1169.1 L389.7,1168.3 L391.1,1167.5 L392.5,1166.6 L393.9,1165.8 L395.3,1165.0 L396.7,1164.2 L398.1,1163.4 L399.5,1162.5 L400.9,1161.7 L402.3,1160.9 L403.7,1160.1 L405.1,1159.3 L406.5,1158.5 L407.9,1157.6 L409.3,1156.8 L410.7,1156.0 L412.1,1155.2 L413.5,1154.4 L414.9,1153.6 L416.3,1152.8 L417.7,1152.0 L419.0,1151.2 L420.4,1150.4 L421.8,1149.6 L423.2,1148.8 L424.6,1148.0 L426.0,1147.2 L427.4,1146.4 L428.8,1145.6 L430.2,1144.8 L431.6,1144.0 L433.0,1143.2 L434.4,1142.4 L435.8,1141.6 L437.2,1140.8 L438.6,1140.0 L440.0,1139.2 L441.4,1138.4 L442.8,1137.6 L444.2,1136.8 L445.6,1136.0 L447.0,1135.3 L448.4,1134.5 L449.8,1133.7 L451.2,1132.9 L452.5,1132.1 L453.9,1131.3 L455.3,1130.5 L456.7,1129.7 L458.1,1128.9 L459.5,1128.1 L460.9,1127.4 L462.3,1126.6 L463.7,1125.8 L465.1,1125.0 L466.5,1124.2 L467.9,1123.4 L469.3,1122.6 L470.7,1121.8 L472.1,1121.1 L473.5,1120.3 L474.9,1119.5 L476.3,1118.7 L477.7,1117.9 L479.1,1117.1 L480.5,1116.4 L481.9,1115.6 L483.3,1114.8 L484.6,1114.0 L486.0,1113.3 L487.4,1112.5 L488.8,1111.7 L490.2,1111.0 L491.6,1110.2 L493.0,1109.4 L494.4,1108.7 L495.8,1107.9 L497.2,1107.1 L498.6,1106.4 L500.0,1105.6 L501.4,1104.8 L502.8,1104.1 L504.2,1103.3 L505.6,1102.6 L507.0,1101.8 L508.4,1101.0 L509.8,1100.3 L511.2,1099.5 L512.6,1098.7 L514.0,1098.0 L515.4,1097.2 L516.8,1096.5 L518.1,1095.7 L519.5,1094.9 L520.9,1094.2 L522.3,1093.4 L523.7,1092.6 L525.1,1091.8 L526.5,1091.1 L527.9,1090.3 L529.3,1089.5 L530.7,1088.7 L532.1,1087.9 L533.5,1087.2 L534.9,1086.4 L536.3,1085.6 L537.7,1084.8 L539.1,1084.0 L540.5,1083.2 L541.9,1082.4 L543.3,1081.6 L544.7,1080.8 L546.1,1080.0 L547.5,1079.2 L548.9,1078.4 L550.2,1077.5 L551.6,1076.7 L553.0,1075.9 L554.4,1075.1 L555.8,1074.2 L557.2,1073.4 L558.6,1072.5 L560.0,1071.7 L561.4,1070.8 L562.8,1069.9 L564.2,1069.1 L565.6,1068.2 L567.0,1067.3 L568.4,1066.4 L569.8,1065.5 L571.2,1064.7 L572.6,1063.8 L574.0,1062.9 L575.4,1062.0 L576.8,1061.1 L578.2,1060.2 L579.6,1059.3 L581.0,1058.4 L582.4,1057.5 L583.7,1056.7 L585.1,1055.8 L586.5,1054.9 L587.9,1054.0 L589.3,1053.1 L590.7,1052.2 L592.1,1051.4 L593.5,1050.5 L594.9,1049.6 L596.3,1048.7 L597.7,1047.9 L599.1,1047.0 L600.5,1046.2 L601.9,1045.3 L603.3,1044.5 L604.7,1043.6 L606.1,1042.8 L607.5,1042.0 L608.9,1041.2 L610.3,1040.4 L611.7,1039.6 L613.1,1038.8 L614.5,1038.0 L615.8,1037.2 L617.2,1036.4 L618.6,1035.6 L620.0,1034.8 L621.4,1034.1 L622.8,1033.3 L624.2,1032.5 L625.6,1031.8 L627.0,1031.0 L628.4,1030.3 L629.8,1029.5 L631.2,1028.7 L632.6,1028.0 L634.0,1027.3 L635.4,1026.5 L636.8,1025.8 L638.2,1025.0 L639.6,1024.3 L641.0,1023.5 L642.4,1022.8 L643.8,1022.1 L645.2,1021.3 L646.6,1020.6 L648.0,1019.8 L649.3,1019.1 L650.7,1018.3 L652.1,1017.6 L653.5,1016.9 L654.9,1016.1 L656.3,1015.4 L657.7,1014.6 L659.1,1013.8 L660.5,1013.1 L661.9,1012.3 L663.3,1011.6 L664.7,1010.8 L666.1,1010.0 L667.5,1009.3 L668.9,1008.5 L670.3,1007.7 L671.7,1006.9 L673.1,1006.1 L674.5,1005.2 L675.9,1004.4 L677.3,1003.6 L678.7,1002.7 L680.1,1001.8 L681.4,1001.0 L682.8,1000.1 L684.2,999.2 L685.6,998.3 L687.0,997.5 L688.4,996.6 L689.8,995.7 L691.2,994.9 L692.6,994.0 L694.0,993.1 L695.4,992.3 L696.8,991.5 L698.2,990.7 L699.6,989.9 L701.0,989.1 L702.4,988.3 L703.8,987.5 L705.2,986.8 L706.6,986.1 L708.0,985.4 L709.4,984.7 L710.8,984.1 L712.2,983.4 L713.6,982.8 L714.9,982.3 L716.3,981.7 L717.7,981.1 L719.1,980.6 L720.5,980.0 L721.9,979.5 L723.3,978.9 L724.7,978.4 L726.1,977.8 L727.5,977.3 L728.9,976.8 L730.3,976.3 L731.7,975.8 L733.1,975.3 L734.5,974.8 L735.9,974.3 L737.3,973.9 L738.7,973.4 L740.1,972.9 L741.5,972.5 L742.9,972.1 L744.3,971.6 L745.7,971.2 L747.0,970.8 L748.4,970.4 L749.8,970.0 L751.2,969.7 L752.6,969.3 L754.0,969.0 L755.4,968.6 L756.8,968.3 L758.2,968.0 L759.6,967.7 L761.0,967.4 L762.4,967.1 L761.0,970.6 L759.6,974.1 L758.2,977.6 L756.8,981.1 L755.4,984.5 L754.0,987.9 L752.6,991.2 L751.2,994.6 L749.8,997.9 L748.4,1001.2 L747.0,1004.4 L745.7,1007.6 L744.3,1010.8 L742.9,1014.0 L741.5,1017.1 L740.1,1020.2 L738.7,1023.2 L737.3,1026.3 L735.9,1029.4 L734.5,1032.4 L733.1,1035.5 L731.7,1038.6 L730.3,1041.7 L728.9,1044.8 L727.5,1047.8 L726.1,1050.8 L724.7,1053.8 L723.3,1056.7 L721.9,1059.6 L720.5,1062.4 L719.1,1065.1 L717.7,1067.8 L716.3,1070.4 L714.9,1072.9 L713.6,1075.3 L712.2,1077.6 L710.8,1079.8 L709.4,1081.8 L708.0,1083.8 L706.6,1085.8 L705.2,1087.7 L703.8,1089.5 L702.4,1091.3 L701.0,1093.1 L699.6,1094.8 L698.2,1096.5 L696.8,1098.1 L695.4,1099.7 L694.0,1101.3 L692.6,1102.9 L691.2,1104.4 L689.8,1105.9 L688.4,1107.4 L687.0,1108.8 L685.6,1110.3 L684.2,1111.7 L682.8,1113.1 L681.4,1114.5 L680.1,1115.9 L678.7,1117.3 L677.3,1118.7 L675.9,1120.1 L674.5,1121.4 L673.1,1122.8 L671.7,1124.2 L670.3,1125.6 L668.9,1127.0 L667.5,1128.4 L666.1,1129.9 L664.7,1131.3 L663.3,1132.7 L661.9,1134.2 L660.5,1135.6 L659.1,1137.0 L657.7,1138.4 L656.3,1139.8 L654.9,1141.2 L653.5,1142.6 L652.1,1143.9 L650.7,1145.3 L649.3,1146.7 L648.0,1148.0 L646.6,1149.4 L645.2,1150.7 L643.8,1152.1 L642.4,1153.4 L641.0,1154.7 L639.6,1156.1 L638.2,1157.4 L636.8,1158.7 L635.4,1160.0 L634.0,1161.3 L632.6,1162.6 L631.2,1163.9 L629.8,1165.3 L628.4,1166.6 L627.0,1167.9 L625.6,1169.2 L624.2,1170.5 L622.8,1171.8 L621.4,1173.1 L620.0,1174.4 L618.6,1175.7 L617.2,1177.0 L615.8,1178.3 L614.5,1179.6 L613.1,1180.9 L611.7,1182.2 L610.3,1183.6 L608.9,1184.9 L607.5,1186.2 L606.1,1187.5 L604.7,1188.8 L603.3,1190.1 L601.9,1191.4 L600.5,1192.7 L599.1,1194.0 L597.7,1195.3 L596.3,1196.5 L594.9,1197.8 L593.5,1199.1 L592.1,1200.3 L590.7,1201.5 L589.3,1202.7 L587.9,1203.9 L586.5,1205.1 L585.1,1206.3 L583.7,1207.5 L582.4,1208.6 L581.0,1209.7 L579.6,1210.8 L578.2,1211.9 L576.8,1213.0 L575.4,1214.0 L574.0,1215.1 L572.6,1216.1 L571.2,1217.1 L569.8,1218.1 L568.4,1219.1 L567.0,1220.1 L565.6,1221.1 L564.2,1222.1 L562.8,1223.1 L561.4,1224.0 L560.0,1225.0 L558.6,1225.9 L557.2,1226.9 L555.8,1227.8 L554.4,1228.7 L553.0,1229.6 L551.6,1230.5 L550.2,1231.4 L548.9,1232.3 L547.5,1233.2 L546.1,1234.0 L544.7,1234.9 L543.3,1235.8 L541.9,1236.6 L540.5,1237.4 L539.1,1238.3 L537.7,1239.1 L536.3,1239.9 L534.9,1240.7 L533.5,1241.5 L532.1,1242.3 L530.7,1243.1 L529.3,1243.9 L527.9,1244.7 L526.5,1245.4 L525.1,1246.2 L523.7,1247.0 L522.3,1247.8 L520.9,1248.5 L519.5,1249.3 L518.1,1250.1 L516.8,1250.8 L515.4,1251.6 L514.0,1252.3 L512.6,1253.0 L511.2,1253.7 L509.8,1254.5 L508.4,1255.2 L507.0,1255.9 L505.6,1256.5 L504.2,1257.2 L502.8,1257.9 L501.4,1258.5 L500.0,1259.2 L498.6,1259.8 L497.2,1260.4 L495.8,1261.0 L494.4,1261.6 L493.0,1262.1 L491.6,1262.7 L490.2,1263.2 L488.8,1263.8 L487.4,1264.3 L486.0,1264.8 L484.6,1265.3 L483.3,1265.8 L481.9,1266.4 L480.5,1266.9 L479.1,1267.4 L477.7,1267.9 L476.3,1268.5 L474.9,1269.0 L473.5,1269.5 L472.1,1270.1 L470.7,1270.6 L469.3,1271.1 L467.9,1271.6 L466.5,1272.2 L465.1,1272.7 L463.7,1273.2 L462.3,1273.7 L460.9,1274.2 L459.5,1274.7 L458.1,1275.2 L456.7,1275.8 L455.3,1276.2 L453.9,1276.7 L452.5,1277.2 L451.2,1277.7 L449.8,1278.2 L448.4,1278.6 L447.0,1279.1 L445.6,1279.6 L444.2,1280.0 L442.8,1280.4 L441.4,1280.9 L440.0,1281.3 L438.6,1281.7 L437.2,1282.1 L435.8,1282.5 L434.4,1282.9 L433.0,1283.3 L431.6,1283.6 L430.2,1284.0 L428.8,1284.3 L427.4,1284.6 L426.0,1285.0 L424.6,1285.3 L423.2,1285.6 L421.8,1285.8 L420.4,1286.1 L419.0,1286.4 L417.7,1286.6 L416.3,1286.8 L414.9,1287.0 L413.5,1287.2 L412.1,1287.4 L410.7,1287.5 L409.3,1287.7 L407.9,1287.8 L406.5,1287.9 L405.1,1288.0 L403.7,1288.1 L402.3,1288.1 L400.9,1288.2 L399.5,1288.2 L398.1,1288.2 L396.7,1288.2 L395.3,1288.3 L393.9,1288.3 L392.5,1288.3 L391.1,1288.3 L389.7,1288.3 L388.3,1288.3 L386.9,1288.4 L385.6,1288.4 L384.2,1288.4 L382.8,1288.4 L381.4,1288.4 L380.0,1288.4 L378.6,1288.4 L377.2,1288.4 L375.8,1288.5 L374.4,1288.5 L373.0,1288.5 L371.6,1288.5 L370.2,1288.5 L368.8,1288.5 L367.4,1288.5 L366.0,1288.5 L364.6,1288.5 L363.2,1288.6 L361.8,1288.6 L360.4,1288.6 L359.0,1288.6 L357.6,1288.6 L356.2,1288.6 L354.8,1288.6 L353.4,1288.6 L352.1,1288.6 L350.7,1288.7 L349.3,1288.7 L347.9,1288.7 L346.5,1288.7 L345.1,1288.7 L343.7,1288.7 L342.3,1288.7 L340.9,1288.7 L339.5,1288.7 L338.1,1288.7 L336.7,1288.7 L335.3,1288.7 L333.9,1288.8 L332.5,1288.8 L331.1,1288.8 L329.7,1288.8 L328.3,1288.8 L326.9,1288.8 L325.5,1288.8 L324.1,1288.8 L322.7,1288.8 L321.3,1288.8 L320.0,1288.9 L318.6,1288.9 L317.2,1288.9 L315.8,1288.9 L314.4,1288.9 L313.0,1288.9 L311.6,1289.0 L310.2,1289.0 L308.8,1289.0 L307.4,1289.0 L306.0,1289.1 L304.6,1289.1 L303.2,1289.2 L301.8,1289.3 L300.4,1289.3 L299.0,1289.4 L297.6,1289.5 L296.2,1289.6 L294.8,1289.7 L293.4,1289.8 L292.0,1290.0 L290.6,1290.1 L289.2,1290.2 L287.8,1290.3 L286.5,1290.5 L285.1,1290.6 L283.7,1290.8 L282.3,1290.9 L280.9,1291.1 L279.5,1291.2 L278.1,1291.4 L276.7,1291.6 L275.3,1291.7 L273.9,1291.9 L272.5,1292.0 L271.1,1292.2 L269.7,1292.4 L268.3,1292.5 L266.9,1292.7 L265.5,1292.9 L264.1,1293.0 L262.7,1293.2 L261.3,1293.3 L259.9,1293.5 L258.5,1293.6 L257.1,1293.8 L255.7,1293.9 L254.4,1294.1 L253.0,1294.2 L251.6,1294.4 L250.2,1294.5 L248.8,1294.7 L247.4,1294.9 L246.0,1295.0 L244.6,1295.2 L243.2,1295.4 L241.8,1295.6 L240.4,1295.7 L239.0,1295.9 L237.6,1296.1 L236.2,1296.3 L234.8,1296.4 L233.4,1296.6 L232.0,1296.8 L230.6,1296.9 L229.2,1297.1 L227.8,1297.3 L226.4,1297.4 L225.0,1297.6 L223.6,1297.7 L222.2,1297.9 L220.9,1298.0 L219.5,1298.1 L218.1,1298.3 L216.7,1298.4 L215.3,1298.5 L213.9,1298.7 L212.5,1298.8 L211.1,1298.9 L209.7,1299.0 L208.3,1299.1 L206.9,1299.3 L205.5,1299.4" fill="none" stroke="#ffff00" stroke-width="4.2" stroke-linejoin="round"/>
<path d="M205.5,1309.4 L206.9,1307.6 L208.3,1305.8 L209.7,1304.0 L211.1,1302.2 L212.5,1300.5 L213.9,1298.8 L215.3,1297.1 L216.7,1295.5 L218.1,1293.8 L219.5,1292.2 L220.9,1290.6 L222.2,1289.0 L223.6,1287.5 L225.0,1286.0 L226.4,1284.4 L227.8,1283.0 L229.2,1281.5 L230.6,1280.0 L232.0,1278.6 L233.4,1277.2 L234.8,1275.8 L236.2,1274.4 L237.6,1273.1 L239.0,1271.7 L240.4,1270.4 L241.8,1269.1 L243.2,1267.8 L244.6,1266.6 L246.0,1265.3 L247.4,1264.1 L248.8,1262.9 L250.2,1261.7 L251.6,1260.5 L253.0,1259.3 L254.4,1258.2 L255.7,1257.1 L257.1,1255.9 L258.5,1254.8 L259.9,1253.7 L261.3,1252.7 L262.7,1251.6 L264.1,1250.6 L265.5,1249.5 L266.9,1248.5 L268.3,1247.5 L269.7,1246.5 L271.1,1245.5 L272.5,1244.5 L273.9,1243.5 L275.3,1242.6 L276.7,1241.6 L278.1,1240.7 L279.5,1239.8 L280.9,1238.8 L282.3,1237.9 L283.7,1237.0 L285.1,1236.1 L286.5,1235.2 L287.8,1234.3 L289.2,1233.4 L290.6,1232.5 L292.0,1231.6 L293.4,1230.7 L294.8,1229.8 L296.2,1228.9 L297.6,1228.0 L299.0,1227.1 L300.4,1226.2 L301.8,1225.3 L303.2,1224.4 L304.6,1223.5 L306.0,1222.6 L307.4,1221.7 L308.8,1220.8 L310.2,1219.9 L311.6,1219.0 L313.0,1218.1 L314.4,1217.2 L315.8,1216.3 L317.2,1215.4 L318.6,1214.5 L320.0,1213.6 L321.3,1212.8 L322.7,1211.9 L324.1,1211.0 L325.5,1210.1 L326.9,1209.2 L328.3,1208.3 L329.7,1207.4 L331.1,1206.5 L332.5,1205.6 L333.9,1204.7 L335.3,1203.8 L336.7,1202.9 L338.1,1202.0 L339.5,1201.1 L340.9,1200.2 L342.3,1199.3 L343.7,1198.4 L345.1,1197.5 L346.5,1196.6 L347.9,1195.7 L349.3,1194.8 L350.7,1193.9 L352.1,1193.0 L353.4,1192.1 L354.8,1191.2 L356.2,1190.3 L357.6,1189.4 L359.0,1188.5 L360.4,1187.6 L361.8,1186.7 L363.2,1185.8 L364.6,1184.9 L366.0,1184.0 L367.4,1183.1 L368.8,1182.2 L370.2,1181.3 L371.6,1180.4 L373.0,1179.5 L374.4,1178.6 L375.8,1177.7 L377.2,1176.8 L378.6,1175.9 L380.0,1175.0 L381.4,1174.1 L382.8,1173.2 L384.2,1172.3 L385.6,1171.4 L386.9,1170.5 L388.3,1169.6 L389.7,1168.7 L391.1,1167.8 L392.5,1166.9 L393.9,1166.0 L395.3,1165.2 L396.7,1164.3 L398.1,1163.4 L399.5,1162.5 L400.9,1161.6 L402.3,1160.8 L403.7,1159.9 L405.1,1159.0 L406.5,1158.1 L407.9,1157.3 L409.3,1156.4 L410.7,1155.5 L412.1,1154.6 L413.5,1153.8 L414.9,1152.9 L416.3,1152.0 L417.7,1151.2 L419.0,1150.3 L420.4,1149.5 L421.8,1148.6 L423.2,1147.7 L424.6,1146.9 L426.0,1146.0 L427.4,1145.1 L428.8,1144.3 L430.2,1143.4 L431.6,1142.6 L433.0,1141.7 L434.4,1140.9 L435.8,1140.0 L437.2,1139.1 L438.6,1138.3 L440.0,1137.4 L441.4,1136.6 L442.8,1135.7 L444.2,1134.9 L445.6,1134.0 L447.0,1133.2 L448.4,1132.3 L449.8,1131.5 L451.2,1130.6 L452.5,1129.8 L453.9,1128.9 L455.3,1128.1 L456.7,1127.2 L458.1,1126.4 L459.5,1125.5 L460.9,1124.7 L462.3,1123.8 L463.7,1123.0 L465.1,1122.1 L466.5,1121.3 L467.9,1120.4 L469.3,1119.6 L470.7,1118.7 L472.1,1117.9 L473.5,1117.0 L474.9,1116.2 L476.3,1115.3 L477.7,1114.5 L479.1,1113.6 L480.5,1112.8 L481.9,1112.0 L483.3,1111.1 L484.6,1110.3 L486.0,1109.5 L487.4,1108.6 L488.8,1107.8 L490.2,1107.0 L491.6,1106.2 L493.0,1105.3 L494.4,1104.5 L495.8,1103.7 L497.2,1102.9 L498.6,1102.0 L500.0,1101.2 L501.4,1100.4 L502.8,1099.6 L504.2,1098.8 L505.6,1097.9 L507.0,1097.1 L508.4,1096.3 L509.8,1095.5 L511.2,1094.6 L512.6,1093.8 L514.0,1093.0 L515.4,1092.2 L516.8,1091.3 L518.1,1090.5 L519.5,1089.7 L520.9,1088.9 L522.3,1088.0 L523.7,1087.2 L525.1,1086.4 L526.5,1085.5 L527.9,1084.7 L529.3,1083.8 L530.7,1083.0 L532.1,1082.2 L533.5,1081.3 L534.9,1080.5 L536.3,1079.6 L537.7,1078.7 L539.1,1077.9 L540.5,1077.0 L541.9,1076.2 L543.3,1075.3 L544.7,1074.4 L546.1,1073.5 L547.5,1072.7 L548.9,1071.8 L550.2,1070.9 L551.6,1070.0 L553.0,1069.1 L554.4,1068.2 L555.8,1067.3 L557.2,1066.4 L558.6,1065.4 L560.0,1064.5 L561.4,1063.6 L562.8,1062.6 L564.2,1061.7 L565.6,1060.7 L567.0,1059.7 L568.4,1058.8 L569.8,1057.8 L571.2,1056.9 L572.6,1055.9 L574.0,1054.9 L575.4,1053.9 L576.8,1053.0 L578.2,1052.0 L579.6,1051.0 L581.0,1050.1 L582.4,1049.1 L583.7,1048.1 L585.1,1047.1 L586.5,1046.2 L587.9,1045.2 L589.3,1044.2 L590.7,1043.3 L592.1,1042.3 L593.5,1041.4 L594.9,1040.4 L596.3,1039.5 L597.7,1038.5 L599.1,1037.6 L600.5,1036.7 L601.9,1035.8 L603.3,1034.8 L604.7,1033.9 L606.1,1033.0 L607.5,1032.1 L608.9,1031.3 L610.3,1030.4 L611.7,1029.5 L613.1,1028.7 L614.5,1027.8 L615.8,1027.0 L617.2,1026.1 L618.6,1025.3 L620.0,1024.4 L621.4,1023.6 L622.8,1022.8 L624.2,1022.0 L625.6,1021.1 L627.0,1020.3 L628.4,1019.5 L629.8,1018.7 L631.2,1017.9 L632.6,1017.1 L634.0,1016.3 L635.4,1015.5 L636.8,1014.7 L638.2,1013.9 L639.6,1013.1 L641.0,1012.4 L642.4,1011.6 L643.8,1010.8 L645.2,1010.0 L646.6,1009.2 L648.0,1008.4 L649.3,1007.6 L650.7,1006.8 L652.1,1006.0 L653.5,1005.2 L654.9,1004.4 L656.3,1003.6 L657.7,1002.8 L659.1,1002.0 L660.5,1001.2 L661.9,1000.3 L663.3,999.5 L664.7,998.7 L666.1,997.9 L667.5,997.0 L668.9,996.2 L670.3,995.3 L671.7,994.4 L673.1,993.5 L674.5,992.6 L675.9,991.7 L677.3,990.8 L678.7,989.8 L680.1,988.8 L681.4,987.9 L682.8,986.9 L684.2,985.9 L685.6,984.9 L687.0,984.0 L688.4,983.0 L689.8,982.0 L691.2,981.0 L692.6,980.1 L694.0,979.1 L695.4,978.2 L696.8,977.3 L698.2,976.4 L699.6,975.5 L701.0,974.6 L702.4,973.8 L703.8,973.0 L705.2,972.2 L706.6,971.4 L708.0,970.7 L709.4,970.0 L710.8,969.3 L712.2,968.7 L713.6,968.1 L714.9,967.5 L716.3,967.0 L717.7,966.4 L719.1,965.9 L720.5,965.3 L721.9,964.8 L723.3,964.2 L724.7,963.7 L726.1,963.2 L727.5,962.7 L728.9,962.2 L730.3,961.7 L731.7,961.2 L733.1,960.7 L734.5,960.2 L735.9,959.8 L737.3,959.3 L738.7,958.9 L740.1,958.5 L741.5,958.0 L742.9,957.6 L744.3,957.2 L745.7,956.9 L747.0,956.5 L748.4,956.2 L749.8,955.8 L751.2,955.5 L752.6,955.2 L754.0,954.9 L755.4,954.6 L756.8,954.4 L758.2,954.1 L759.6,953.9 L761.0,953.7 L762.4,953.5 L761.0,956.8 L759.6,960.0 L758.2,963.2 L756.8,966.4 L755.4,969.6 L754.0,972.8 L752.6,976.0 L751.2,979.1 L749.8,982.2 L748.4,985.4 L747.0,988.5 L745.7,991.6 L744.3,994.6 L742.9,997.7 L741.5,1000.7 L740.1,1003.8 L738.7,1006.8 L737.3,1009.8 L735.9,1012.8 L734.5,1015.7 L733.1,1018.7 L731.7,1021.7 L730.3,1024.8 L728.9,1027.8 L727.5,1030.9 L726.1,1033.9 L724.7,1036.9 L723.3,1040.0 L721.9,1042.9 L720.5,1045.9 L719.1,1048.9 L717.7,1051.8 L716.3,1054.6 L714.9,1057.4 L713.6,1060.1 L712.2,1062.8 L710.8,1065.4 L709.4,1068.0 L708.0,1070.4 L706.6,1072.8 L705.2,1075.1 L703.8,1077.2 L702.4,1079.4 L701.0,1081.5 L699.6,1083.6 L698.2,1085.6 L696.8,1087.6 L695.4,1089.5 L694.0,1091.5 L692.6,1093.3 L691.2,1095.2 L689.8,1097.0 L688.4,1098.8 L687.0,1100.6 L685.6,1102.3 L684.2,1104.1 L682.8,1105.8 L681.4,1107.5 L680.1,1109.1 L678.7,1110.8 L677.3,1112.4 L675.9,1114.0 L674.5,1115.6 L673.1,1117.3 L671.7,1118.9 L670.3,1120.4 L668.9,1122.0 L667.5,1123.6 L666.1,1125.2 L664.7,1126.8 L663.3,1128.3 L661.9,1129.9 L660.5,1131.4 L659.1,1132.9 L657.7,1134.4 L656.3,1135.9 L654.9,1137.4 L653.5,1138.8 L652.1,1140.3 L650.7,1141.7 L649.3,1143.1 L648.0,1144.5 L646.6,1146.0 L645.2,1147.3 L643.8,1148.7 L642.4,1150.1 L641.0,1151.5 L639.6,1152.9 L638.2,1154.2 L636.8,1155.6 L635.4,1157.0 L634.0,1158.3 L632.6,1159.7 L631.2,1161.0 L629.8,1162.4 L628.4,1163.8 L627.0,1165.1 L625.6,1166.5 L624.2,1167.9 L622.8,1169.3 L621.4,1170.7 L620.0,1172.1 L618.6,1173.5 L617.2,1174.9 L615.8,1176.3 L614.5,1177.7 L613.1,1179.2 L611.7,1180.6 L610.3,1182.0 L608.9,1183.5 L607.5,1184.9 L606.1,1186.3 L604.7,1187.8 L603.3,1189.2 L601.9,1190.6 L600.5,1192.1 L599.1,1193.5 L597.7,1194.9 L596.3,1196.3 L594.9,1197.7 L593.5,1199.0 L592.1,1200.4 L590.7,1201.7 L589.3,1203.1 L587.9,1204.4 L586.5,1205.7 L585.1,1207.0 L583.7,1208.2 L582.4,1209.5 L581.0,1210.7 L579.6,1211.9 L578.2,1213.0 L576.8,1214.2 L575.4,1215.3 L574.0,1216.4 L572.6,1217.5 L571.2,1218.6 L569.8,1219.7 L568.4,1220.8 L567.0,1221.8 L565.6,1222.9 L564.2,1223.9 L562.8,1225.0 L561.4,1226.0 L560.0,1227.0 L558.6,1228.0 L557.2,1229.0 L555.8,1229.9 L554.4,1230.9 L553.0,1231.9 L551.6,1232.8 L550.2,1233.8 L548.9,1234.7 L547.5,1235.6 L546.1,1236.6 L544.7,1237.5 L543.3,1238.4 L541.9,1239.3 L540.5,1240.2 L539.1,1241.1 L537.7,1242.0 L536.3,1242.9 L534.9,1243.8 L533.5,1244.7 L532.1,1245.6 L530.7,1246.5 L529.3,1247.4 L527.9,1248.2 L526.5,1249.1 L525.1,1250.0 L523.7,1250.9 L522.3,1251.8 L520.9,1252.7 L519.5,1253.6 L518.1,1254.5 L516.8,1255.4 L515.4,1256.3 L514.0,1257.1 L512.6,1258.0 L511.2,1258.8 L509.8,1259.7 L508.4,1260.5 L507.0,1261.3 L505.6,1262.1 L504.2,1262.9 L502.8,1263.7 L501.4,1264.5 L500.0,1265.2 L498.6,1265.9 L497.2,1266.6 L495.8,1267.3 L494.4,1268.0 L493.0,1268.6 L491.6,1269.2 L490.2,1269.8 L488.8,1270.4 L487.4,1270.9 L486.0,1271.5 L484.6,1272.0 L483.3,1272.6 L481.9,1273.1 L480.5,1273.6 L479.1,1274.2 L477.7,1274.7 L476.3,1275.3 L474.9,1275.8 L473.5,1276.3 L472.1,1276.9 L470.7,1277.4 L469.3,1277.9 L467.9,1278.4 L466.5,1278.9 L465.1,1279.5 L463.7,1280.0 L462.3,1280.5 L460.9,1281.0 L459.5,1281.5 L458.1,1282.0 L456.7,1282.4 L455.3,1282.9 L453.9,1283.4 L452.5,1283.9 L451.2,1284.3 L449.8,1284.8 L448.4,1285.2 L447.0,1285.7 L445.6,1286.1 L444.2,1286.5 L442.8,1287.0 L441.4,1287.4 L440.0,1287.8 L438.6,1288.2 L437.2,1288.6 L435.8,1289.0 L434.4,1289.3 L433.0,1289.7 L431.6,1290.1 L430.2,1290.4 L428.8,1290.8 L427.4,1291.1 L426.0,1291.4 L424.6,1291.7 L423.2,1292.0 L421.8,1292.3 L420.4,1292.6 L419.0,1292.9 L417.7,1293.1 L416.3,1293.4 L414.9,1293.6 L413.5,1293.9 L412.1,1294.1 L410.7,1294.3 L409.3,1294.5 L407.9,1294.6 L406.5,1294.8 L405.1,1295.0 L403.7,1295.1 L402.3,1295.2 L400.9,1295.4 L399.5,1295.5 L398.1,1295.6 L396.7,1295.7 L395.3,1295.8 L393.9,1295.9 L392.5,1295.9 L391.1,1296.0 L389.7,1296.1 L388.3,1296.2 L386.9,1296.3 L385.6,1296.3 L384.2,1296.4 L382.8,1296.5 L381.4,1296.5 L380.0,1296.6 L378.6,1296.6 L377.2,1296.7 L375.8,1296.8 L374.4,1296.8 L373.0,1296.9 L371.6,1296.9 L370.2,1297.0 L368.8,1297.0 L367.4,1297.1 L366.0,1297.1 L364.6,1297.2 L363.2,1297.3 L361.8,1297.3 L360.4,1297.4 L359.0,1297.4 L357.6,1297.5 L356.2,1297.5 L354.8,1297.6 L353.4,1297.7 L352.1,1297.7 L350.7,1297.8 L349.3,1297.8 L347.9,1297.9 L346.5,1297.9 L345.1,1298.0 L343.7,1298.0 L342.3,1298.1 L340.9,1298.1 L339.5,1298.2 L338.1,1298.2 L336.7,1298.3 L335.3,1298.3 L333.9,1298.4 L332.5,1298.4 L331.1,1298.5 L329.7,1298.5 L328.3,1298.6 L326.9,1298.6 L325.5,1298.7 L324.1,1298.7 L322.7,1298.8 L321.3,1298.9 L320.0,1298.9 L318.6,1299.0 L317.2,1299.0 L315.8,1299.1 L314.4,1299.2 L313.0,1299.2 L311.6,1299.3 L310.2,1299.4 L308.8,1299.5 L307.4,1299.5 L306.0,1299.6 L304.6,1299.7 L303.2,1299.8 L301.8,1299.9 L300.4,1300.0 L299.0,1300.1 L297.6,1300.2 L296.2,1300.3 L294.8,1300.4 L293.4,1300.5 L292.0,1300.6 L290.6,1300.7 L289.2,1300.8 L287.8,1300.9 L286.5,1301.0 L285.1,1301.2 L283.7,1301.3 L282.3,1301.4 L280.9,1301.5 L279.5,1301.6 L278.1,1301.8 L276.7,1301.9 L275.3,1302.0 L273.9,1302.2 L272.5,1302.3 L271.1,1302.4 L269.7,1302.6 L268.3,1302.7 L266.9,1302.8 L265.5,1303.0 L264.1,1303.1 L262.7,1303.2 L261.3,1303.4 L259.9,1303.5 L258.5,1303.6 L257.1,1303.8 L255.7,1303.9 L254.4,1304.1 L253.0,1304.2 L251.6,1304.4 L250.2,1304.5 L248.8,1304.7 L247.4,1304.9 L246.0,1305.0 L244.6,1305.2 L243.2,1305.4 L241.8,1305.6 L240.4,1305.7 L239.0,1305.9 L237.6,1306.1 L236.2,1306.3 L234.8,1306.4 L233.4,1306.6 L232.0,1306.8 L230.6,1306.9 L229.2,1307.1 L227.8,1307.3 L226.4,1307.4 L225.0,1307.6 L223.6,1307.7 L222.2,1307.9 L220.9,1308.0 L219.5,1308.1 L218.1,1308.3 L216.7,1308.4 L215.3,1308.5 L213.9,1308.7 L212.5,1308.8 L211.1,1308.9 L209.7,1309.0 L208.3,1309.2 L206.9,1309.3 L205.5,1309.4" fill="none" stroke="#808000" stroke-width="4.2" stroke-linejoin="round"/>
<path d="M205.5,1321.0 L206.9,1319.0 L208.3,1316.9 L209.7,1315.0 L211.1,1313.0 L212.5,1311.1 L213.9,1309.2 L215.3,1307.3 L216.7,1305.4 L218.1,1303.6 L219.5,1301.8 L220.9,1300.0 L222.2,1298.3 L223.6,1296.6 L225.0,1294.9 L226.4,1293.2 L227.8,1291.5 L229.2,1289.9 L230.6,1288.3 L232.0,1286.7 L233.4,1285.2 L234.8,1283.6 L236.2,1282.1 L237.6,1280.6 L239.0,1279.2 L240.4,1277.7 L241.8,1276.3 L243.2,1274.9 L244.6,1273.5 L246.0,1272.1 L247.4,1270.8 L248.8,1269.5 L250.2,1268.2 L251.6,1266.9 L253.0,1265.6 L254.4,1264.4 L255.7,1263.1 L257.1,1261.9 L258.5,1260.7 L259.9,1259.5 L261.3,1258.4 L262.7,1257.2 L264.1,1256.1 L265.5,1255.0 L266.9,1253.9 L268.3,1252.8 L269.7,1251.7 L271.1,1250.6 L272.5,1249.6 L273.9,1248.6 L275.3,1247.5 L276.7,1246.5 L278.1,1245.5 L279.5,1244.5 L280.9,1243.5 L282.3,1242.5 L283.7,1241.6 L285.1,1240.6 L286.5,1239.6 L287.8,1238.7 L289.2,1237.7 L290.6,1236.7 L292.0,1235.8 L293.4,1234.8 L294.8,1233.9 L296.2,1232.9 L297.6,1232.0 L299.0,1231.0 L300.4,1230.1 L301.8,1229.2 L303.2,1228.2 L304.6,1227.3 L306.0,1226.3 L307.4,1225.4 L308.8,1224.4 L310.2,1223.5 L311.6,1222.5 L313.0,1221.6 L314.4,1220.6 L315.8,1219.6 L317.2,1218.7 L318.6,1217.7 L320.0,1216.8 L321.3,1215.8 L322.7,1214.9 L324.1,1213.9 L325.5,1213.0 L326.9,1212.0 L328.3,1211.1 L329.7,1210.1 L331.1,1209.2 L332.5,1208.2 L333.9,1207.3 L335.3,1206.3 L336.7,1205.4 L338.1,1204.4 L339.5,1203.4 L340.9,1202.5 L342.3,1201.5 L343.7,1200.6 L345.1,1199.6 L346.5,1198.7 L347.9,1197.7 L349.3,1196.8 L350.7,1195.8 L352.1,1194.9 L353.4,1193.9 L354.8,1193.0 L356.2,1192.0 L357.6,1191.1 L359.0,1190.1 L360.4,1189.1 L361.8,1188.2 L363.2,1187.2 L364.6,1186.3 L366.0,1185.3 L367.4,1184.3 L368.8,1183.4 L370.2,1182.4 L371.6,1181.5 L373.0,1180.5 L374.4,1179.6 L375.8,1178.6 L377.2,1177.6 L378.6,1176.7 L380.0,1175.7 L381.4,1174.8 L382.8,1173.8 L384.2,1172.9 L385.6,1171.9 L386.9,1171.0 L388.3,1170.0 L389.7,1169.1 L391.1,1168.1 L392.5,1167.2 L393.9,1166.2 L395.3,1165.3 L396.7,1164.4 L398.1,1163.4 L399.5,1162.5 L400.9,1161.6 L402.3,1160.6 L403.7,1159.7 L405.1,1158.8 L406.5,1157.8 L407.9,1156.9 L409.3,1156.0 L410.7,1155.1 L412.1,1154.1 L413.5,1153.2 L414.9,1152.3 L416.3,1151.4 L417.7,1150.4 L419.0,1149.5 L420.4,1148.6 L421.8,1147.7 L423.2,1146.8 L424.6,1145.9 L426.0,1144.9 L427.4,1144.0 L428.8,1143.1 L430.2,1142.2 L431.6,1141.3 L433.0,1140.4 L434.4,1139.5 L435.8,1138.6 L437.2,1137.7 L438.6,1136.7 L440.0,1135.8 L441.4,1134.9 L442.8,1134.0 L444.2,1133.1 L445.6,1132.2 L447.0,1131.3 L448.4,1130.4 L449.8,1129.5 L451.2,1128.6 L452.5,1127.7 L453.9,1126.8 L455.3,1125.9 L456.7,1125.0 L458.1,1124.1 L459.5,1123.2 L460.9,1122.3 L462.3,1121.4 L463.7,1120.5 L465.1,1119.5 L466.5,1118.6 L467.9,1117.7 L469.3,1116.8 L470.7,1115.9 L472.1,1115.0 L473.5,1114.1 L474.9,1113.2 L476.3,1112.3 L477.7,1111.4 L479.1,1110.5 L480.5,1109.6 L481.9,1108.8 L483.3,1107.9 L484.6,1107.0 L486.0,1106.1 L487.4,1105.2 L488.8,1104.3 L490.2,1103.4 L491.6,1102.6 L493.0,1101.7 L494.4,1100.8 L495.8,1099.9 L497.2,1099.1 L498.6,1098.2 L500.0,1097.3 L501.4,1096.4 L502.8,1095.5 L504.2,1094.7 L505.6,1093.8 L507.0,1092.9 L508.4,1092.0 L509.8,1091.2 L511.2,1090.3 L512.6,1089.4 L514.0,1088.5 L515.4,1087.7 L516.8,1086.8 L518.1,1085.9 L519.5,1085.0 L520.9,1084.1 L522.3,1083.2 L523.7,1082.4 L525.1,1081.5 L526.5,1080.6 L527.9,1079.7 L529.3,1078.8 L530.7,1077.9 L532.1,1077.0 L533.5,1076.1 L534.9,1075.2 L536.3,1074.3 L537.7,1073.4 L539.1,1072.5 L540.5,1071.6 L541.9,1070.6 L543.3,1069.7 L544.7,1068.8 L546.1,1067.9 L547.5,1066.9 L548.9,1066.0 L550.2,1065.1 L551.6,1064.1 L553.0,1063.2 L554.4,1062.2 L555.8,1061.2 L557.2,1060.3 L558.6,1059.3 L560.0,1058.3 L561.4,1057.3 L562.8,1056.3 L564.2,1055.3 L565.6,1054.3 L567.0,1053.3 L568.4,1052.3 L569.8,1051.3 L571.2,1050.3 L572.6,1049.3 L574.0,1048.3 L575.4,1047.3 L576.8,1046.3 L578.2,1045.2 L579.6,1044.2 L581.0,1043.2 L582.4,1042.2 L583.7,1041.2 L585.1,1040.2 L586.5,1039.1 L587.9,1038.1 L589.3,1037.1 L590.7,1036.1 L592.1,1035.1 L593.5,1034.1 L594.9,1033.1 L596.3,1032.1 L597.7,1031.1 L599.1,1030.2 L600.5,1029.2 L601.9,1028.2 L603.3,1027.3 L604.7,1026.3 L606.1,1025.3 L607.5,1024.4 L608.9,1023.5 L610.3,1022.5 L611.7,1021.6 L613.1,1020.7 L614.5,1019.8 L615.8,1018.9 L617.2,1018.0 L618.6,1017.1 L620.0,1016.2 L621.4,1015.3 L622.8,1014.4 L624.2,1013.5 L625.6,1012.7 L627.0,1011.8 L628.4,1010.9 L629.8,1010.1 L631.2,1009.2 L632.6,1008.3 L634.0,1007.5 L635.4,1006.6 L636.8,1005.8 L638.2,1004.9 L639.6,1004.1 L641.0,1003.2 L642.4,1002.4 L643.8,1001.5 L645.2,1000.7 L646.6,999.8 L648.0,998.9 L649.3,998.1 L650.7,997.2 L652.1,996.4 L653.5,995.5 L654.9,994.7 L656.3,993.8 L657.7,992.9 L659.1,992.1 L660.5,991.2 L661.9,990.3 L663.3,989.4 L664.7,988.5 L666.1,987.6 L667.5,986.8 L668.9,985.9 L670.3,984.9 L671.7,984.0 L673.1,983.1 L674.5,982.1 L675.9,981.1 L677.3,980.1 L678.7,979.1 L680.1,978.1 L681.4,977.1 L682.8,976.1 L684.2,975.0 L685.6,974.0 L687.0,973.0 L688.4,971.9 L689.8,970.9 L691.2,969.9 L692.6,968.9 L694.0,967.9 L695.4,966.9 L696.8,965.9 L698.2,965.0 L699.6,964.1 L701.0,963.1 L702.4,962.2 L703.8,961.4 L705.2,960.5 L706.6,959.7 L708.0,958.9 L709.4,958.2 L710.8,957.4 L712.2,956.8 L713.6,956.1 L714.9,955.5 L716.3,954.9 L717.7,954.2 L719.1,953.6 L720.5,953.0 L721.9,952.4 L723.3,951.8 L724.7,951.2 L726.1,950.6 L727.5,950.1 L728.9,949.5 L730.3,949.0 L731.7,948.4 L733.1,947.9 L734.5,947.3 L735.9,946.8 L737.3,946.3 L738.7,945.8 L740.1,945.4 L741.5,944.9 L742.9,944.4 L744.3,944.0 L745.7,943.5 L747.0,943.1 L748.4,942.7 L749.8,942.3 L751.2,942.0 L752.6,941.6 L754.0,941.2 L755.4,940.9 L756.8,940.6 L758.2,940.3 L759.6,940.0 L761.0,939.8 L762.4,939.5 L761.0,942.6 L759.6,945.6 L758.2,948.7 L756.8,951.7 L755.4,954.7 L754.0,957.7 L752.6,960.8 L751.2,963.8 L749.8,966.8 L748.4,969.8 L747.0,972.8 L745.7,975.7 L744.3,978.7 L742.9,981.7 L741.5,984.7 L740.1,987.6 L738.7,990.6 L737.3,993.5 L735.9,996.5 L734.5,999.4 L733.1,1002.3 L731.7,1005.2 L730.3,1008.2 L728.9,1011.1 L727.5,1014.1 L726.1,1017.1 L724.7,1020.1 L723.3,1023.1 L721.9,1026.1 L720.5,1029.1 L719.1,1032.1 L717.7,1035.0 L716.3,1038.0 L714.9,1040.9 L713.6,1043.8 L712.2,1046.7 L710.8,1049.6 L709.4,1052.4 L708.0,1055.1 L706.6,1057.8 L705.2,1060.5 L703.8,1063.1 L702.4,1065.7 L701.0,1068.1 L699.6,1070.5 L698.2,1072.9 L696.8,1075.3 L695.4,1077.6 L694.0,1079.9 L692.6,1082.2 L691.2,1084.5 L689.8,1086.7 L688.4,1088.9 L687.0,1091.1 L685.6,1093.2 L684.2,1095.4 L682.8,1097.5 L681.4,1099.5 L680.1,1101.6 L678.7,1103.6 L677.3,1105.6 L675.9,1107.5 L674.5,1109.5 L673.1,1111.4 L671.7,1113.3 L670.3,1115.1 L668.9,1117.0 L667.5,1118.8 L666.1,1120.5 L664.7,1122.3 L663.3,1124.0 L661.9,1125.7 L660.5,1127.3 L659.1,1129.0 L657.7,1130.6 L656.3,1132.1 L654.9,1133.7 L653.5,1135.2 L652.1,1136.7 L650.7,1138.2 L649.3,1139.7 L648.0,1141.2 L646.6,1142.6 L645.2,1144.1 L643.8,1145.5 L642.4,1146.9 L641.0,1148.3 L639.6,1149.8 L638.2,1151.2 L636.8,1152.6 L635.4,1154.0 L634.0,1155.4 L632.6,1156.8 L631.2,1158.2 L629.8,1159.6 L628.4,1161.0 L627.0,1162.4 L625.6,1163.9 L624.2,1165.3 L622.8,1166.8 L621.4,1168.3 L620.0,1169.8 L618.6,1171.3 L617.2,1172.8 L615.8,1174.3 L614.5,1175.9 L613.1,1177.4 L611.7,1178.9 L610.3,1180.5 L608.9,1182.1 L607.5,1183.6 L606.1,1185.2 L604.7,1186.7 L603.3,1188.3 L601.9,1189.9 L600.5,1191.4 L599.1,1192.9 L597.7,1194.5 L596.3,1196.0 L594.9,1197.5 L593.5,1199.0 L592.1,1200.5 L590.7,1201.9 L589.3,1203.4 L587.9,1204.8 L586.5,1206.2 L585.1,1207.6 L583.7,1209.0 L582.4,1210.3 L581.0,1211.7 L579.6,1212.9 L578.2,1214.2 L576.8,1215.4 L575.4,1216.6 L574.0,1217.8 L572.6,1219.0 L571.2,1220.2 L569.8,1221.3 L568.4,1222.4 L567.0,1223.6 L565.6,1224.7 L564.2,1225.8 L562.8,1226.8 L561.4,1227.9 L560.0,1229.0 L558.6,1230.0 L557.2,1231.1 L555.8,1232.1 L554.4,1233.1 L553.0,1234.1 L551.6,1235.1 L550.2,1236.1 L548.9,1237.1 L547.5,1238.1 L546.1,1239.1 L544.7,1240.1 L543.3,1241.1 L541.9,1242.0 L540.5,1243.0 L539.1,1244.0 L537.7,1244.9 L536.3,1245.9 L534.9,1246.9 L533.5,1247.9 L532.1,1248.8 L530.7,1249.8 L529.3,1250.8 L527.9,1251.8 L526.5,1252.8 L525.1,1253.9 L523.7,1254.9 L522.3,1255.9 L520.9,1256.9 L519.5,1257.9 L518.1,1259.0 L516.8,1260.0 L515.4,1261.0 L514.0,1262.0 L512.6,1263.0 L511.2,1263.9 L509.8,1264.9 L508.4,1265.9 L507.0,1266.8 L505.6,1267.7 L504.2,1268.6 L502.8,1269.5 L501.4,1270.4 L500.0,1271.2 L498.6,1272.1 L497.2,1272.8 L495.8,1273.6 L494.4,1274.3 L493.0,1275.0 L491.6,1275.7 L490.2,1276.4 L488.8,1277.0 L487.4,1277.5 L486.0,1278.1 L484.6,1278.7 L483.3,1279.3 L481.9,1279.8 L480.5,1280.4 L479.1,1281.0 L477.7,1281.5 L476.3,1282.0 L474.9,1282.6 L473.5,1283.1 L472.1,1283.7 L470.7,1284.2 L469.3,1284.7 L467.9,1285.2 L466.5,1285.7 L465.1,1286.2 L463.7,1286.7 L462.3,1287.2 L460.9,1287.7 L459.5,1288.2 L458.1,1288.7 L456.7,1289.1 L455.3,1289.6 L453.9,1290.1 L452.5,1290.5 L451.2,1291.0 L449.8,1291.4 L448.4,1291.8 L447.0,1292.3 L445.6,1292.7 L444.2,1293.1 L442.8,1293.5 L441.4,1293.9 L440.0,1294.3 L438.6,1294.7 L437.2,1295.1 L435.8,1295.5 L434.4,1295.8 L433.0,1296.2 L431.6,1296.6 L430.2,1296.9 L428.8,1297.3 L427.4,1297.6 L426.0,1297.9 L424.6,1298.2 L423.2,1298.6 L421.8,1298.9 L420.4,1299.2 L419.0,1299.5 L417.7,1299.7 L416.3,1300.0 L414.9,1300.3 L413.5,1300.5 L412.1,1300.8 L410.7,1301.0 L409.3,1301.3 L407.9,1301.5 L406.5,1301.7 L405.1,1302.0 L403.7,1302.2 L402.3,1302.4 L400.9,1302.6 L399.5,1302.7 L398.1,1302.9 L396.7,1303.1 L395.3,1303.3 L393.9,1303.4 L392.5,1303.6 L391.1,1303.7 L389.7,1303.9 L388.3,1304.0 L386.9,1304.1 L385.6,1304.3 L384.2,1304.4 L382.8,1304.5 L381.4,1304.7 L380.0,1304.8 L378.6,1304.9 L377.2,1305.0 L375.8,1305.1 L374.4,1305.3 L373.0,1305.4 L371.6,1305.5 L370.2,1305.6 L368.8,1305.7 L367.4,1305.8 L366.0,1305.9 L364.6,1306.0 L363.2,1306.1 L361.8,1306.2 L360.4,1306.4 L359.0,1306.5 L357.6,1306.6 L356.2,1306.7 L354.8,1306.8 L353.4,1306.9 L352.1,1307.0 L350.7,1307.2 L349.3,1307.3 L347.9,1307.4 L346.5,1307.5 L345.1,1307.6 L343.7,1307.7 L342.3,1307.8 L340.9,1307.9 L339.5,1308.0 L338.1,1308.1 L336.7,1308.2 L335.3,1308.4 L333.9,1308.5 L332.5,1308.6 L331.1,1308.7 L329.7,1308.8 L328.3,1308.9 L326.9,1309.0 L325.5,1309.1 L324.1,1309.2 L322.7,1309.3 L321.3,1309.4 L320.0,1309.5 L318.6,1309.6 L317.2,1309.7 L315.8,1309.8 L314.4,1309.9 L313.0,1310.0 L311.6,1310.1 L310.2,1310.2 L308.8,1310.3 L307.4,1310.4 L306.0,1310.5 L304.6,1310.6 L303.2,1310.7 L301.8,1310.7 L300.4,1310.8 L299.0,1310.9 L297.6,1311.0 L296.2,1311.1 L294.8,1311.2 L293.4,1311.3 L292.0,1311.3 L290.6,1311.4 L289.2,1311.5 L287.8,1311.6 L286.5,1311.7 L285.1,1311.8 L283.7,1311.8 L282.3,1311.9 L280.9,1312.0 L279.5,1312.1 L278.1,1312.2 L276.7,1312.3 L275.3,1312.4 L273.9,1312.5 L272.5,1312.6 L271.1,1312.7 L269.7,1312.8 L268.3,1312.9 L266.9,1313.0 L265.5,1313.1 L264.1,1313.2 L262.7,1313.3 L261.3,1313.4 L259.9,1313.5 L258.5,1313.7 L257.1,1313.8 L255.7,1313.9 L254.4,1314.1 L253.0,1314.2 L251.6,1314.4 L250.2,1314.6 L248.8,1314.7 L247.4,1314.9 L246.0,1315.1 L244.6,1315.3 L243.2,1315.5 L241.8,1315.7 L240.4,1315.9 L239.0,1316.2 L237.6,1316.4 L236.2,1316.6 L234.8,1316.8 L233.4,1317.0 L232.0,1317.2 L230.6,1317.5 L229.2,1317.7 L227.8,1317.9 L226.4,1318.1 L225.0,1318.3 L223.6,1318.5 L222.2,1318.7 L220.9,1318.9 L219.5,1319.1 L218.1,1319.3 L216.7,1319.5 L215.3,1319.7 L213.9,1319.9 L212.5,1320.0 L211.1,1320.2 L209.7,1320.4 L208.3,1320.6 L206.9,1320.8 L205.5,1321.0" fill="none" stroke="#000080" stroke-width="4.2" stroke-linejoin="round"/>
<path d="M205.5,1335.0 L206.9,1332.7 L208.3,1330.4 L209.7,1328.1 L211.1,1325.9 L212.5,1323.7 L213.9,1321.5 L215.3,1319.4 L216.7,1317.3 L218.1,1315.2 L219.5,1313.1 L220.9,1311.1 L222.2,1309.1 L223.6,1307.2 L225.0,1305.3 L226.4,1303.4 L227.8,1301.5 L229.2,1299.7 L230.6,1297.9 L232.0,1296.1 L233.4,1294.3 L234.8,1292.6 L236.2,1290.9 L237.6,1289.3 L239.0,1287.6 L240.4,1286.0 L241.8,1284.4 L243.2,1282.9 L244.6,1281.3 L246.0,1279.8 L247.4,1278.3 L248.8,1276.9 L250.2,1275.4 L251.6,1274.0 L253.0,1272.6 L254.4,1271.2 L255.7,1269.9 L257.1,1268.5 L258.5,1267.2 L259.9,1265.9 L261.3,1264.7 L262.7,1263.4 L264.1,1262.2 L265.5,1261.0 L266.9,1259.8 L268.3,1258.6 L269.7,1257.4 L271.1,1256.3 L272.5,1255.2 L273.9,1254.0 L275.3,1252.9 L276.7,1251.9 L278.1,1250.8 L279.5,1249.7 L280.9,1248.7 L282.3,1247.6 L283.7,1246.6 L285.1,1245.5 L286.5,1244.5 L287.8,1243.5 L289.2,1242.5 L290.6,1241.4 L292.0,1240.4 L293.4,1239.4 L294.8,1238.4 L296.2,1237.4 L297.6,1236.4 L299.0,1235.4 L300.4,1234.4 L301.8,1233.4 L303.2,1232.4 L304.6,1231.3 L306.0,1230.3 L307.4,1229.3 L308.8,1228.3 L310.2,1227.3 L311.6,1226.3 L313.0,1225.3 L314.4,1224.3 L315.8,1223.2 L317.2,1222.2 L318.6,1221.2 L320.0,1220.2 L321.3,1219.2 L322.7,1218.2 L324.1,1217.2 L325.5,1216.2 L326.9,1215.1 L328.3,1214.1 L329.7,1213.1 L331.1,1212.1 L332.5,1211.1 L333.9,1210.1 L335.3,1209.1 L336.7,1208.0 L338.1,1207.0 L339.5,1206.0 L340.9,1205.0 L342.3,1204.0 L343.7,1203.0 L345.1,1202.0 L346.5,1201.0 L347.9,1199.9 L349.3,1198.9 L350.7,1197.9 L352.1,1196.9 L353.4,1195.9 L354.8,1194.9 L356.2,1193.9 L357.6,1192.8 L359.0,1191.8 L360.4,1190.8 L361.8,1189.8 L363.2,1188.8 L364.6,1187.8 L366.0,1186.7 L367.4,1185.7 L368.8,1184.7 L370.2,1183.7 L371.6,1182.7 L373.0,1181.6 L374.4,1180.6 L375.8,1179.6 L377.2,1178.6 L378.6,1177.6 L380.0,1176.5 L381.4,1175.5 L382.8,1174.5 L384.2,1173.5 L385.6,1172.5 L386.9,1171.5 L388.3,1170.5 L389.7,1169.5 L391.1,1168.5 L392.5,1167.5 L393.9,1166.5 L395.3,1165.5 L396.7,1164.5 L398.1,1163.5 L399.5,1162.5 L400.9,1161.5 L402.3,1160.5 L403.7,1159.5 L405.1,1158.5 L406.5,1157.5 L407.9,1156.5 L409.3,1155.5 L410.7,1154.5 L412.1,1153.5 L413.5,1152.6 L414.9,1151.6 L416.3,1150.6 L417.7,1149.6 L419.0,1148.6 L420.4,1147.6 L421.8,1146.7 L423.2,1145.7 L424.6,1144.7 L426.0,1143.7 L427.4,1142.7 L428.8,1141.8 L430.2,1140.8 L431.6,1139.8 L433.0,1138.8 L434.4,1137.9 L435.8,1136.9 L437.2,1135.9 L438.6,1135.0 L440.0,1134.0 L441.4,1133.0 L442.8,1132.0 L444.2,1131.1 L445.6,1130.1 L447.0,1129.1 L448.4,1128.2 L449.8,1127.2 L451.2,1126.2 L452.5,1125.3 L453.9,1124.3 L455.3,1123.3 L456.7,1122.4 L458.1,1121.4 L459.5,1120.5 L460.9,1119.5 L462.3,1118.5 L463.7,1117.6 L465.1,1116.6 L466.5,1115.7 L467.9,1114.7 L469.3,1113.7 L470.7,1112.8 L472.1,1111.8 L473.5,1110.9 L474.9,1109.9 L476.3,1109.0 L477.7,1108.0 L479.1,1107.1 L480.5,1106.1 L481.9,1105.2 L483.3,1104.2 L484.6,1103.3 L486.0,1102.3 L487.4,1101.4 L488.8,1100.5 L490.2,1099.5 L491.6,1098.6 L493.0,1097.7 L494.4,1096.7 L495.8,1095.8 L497.2,1094.9 L498.6,1093.9 L500.0,1093.0 L501.4,1092.1 L502.8,1091.2 L504.2,1090.2 L505.6,1089.3 L507.0,1088.4 L508.4,1087.4 L509.8,1086.5 L511.2,1085.6 L512.6,1084.7 L514.0,1083.7 L515.4,1082.8 L516.8,1081.9 L518.1,1081.0 L519.5,1080.0 L520.9,1079.1 L522.3,1078.2 L523.7,1077.2 L525.1,1076.3 L526.5,1075.4 L527.9,1074.4 L529.3,1073.5 L530.7,1072.6 L532.1,1071.6 L533.5,1070.7 L534.9,1069.7 L536.3,1068.8 L537.7,1067.8 L539.1,1066.9 L540.5,1066.0 L541.9,1065.0 L543.3,1064.0 L544.7,1063.1 L546.1,1062.1 L547.5,1061.2 L548.9,1060.2 L550.2,1059.2 L551.6,1058.3 L553.0,1057.3 L554.4,1056.3 L555.8,1055.3 L557.2,1054.3 L558.6,1053.3 L560.0,1052.4 L561.4,1051.4 L562.8,1050.3 L564.2,1049.3 L565.6,1048.3 L567.0,1047.3 L568.4,1046.3 L569.8,1045.3 L571.2,1044.3 L572.6,1043.3 L574.0,1042.2 L575.4,1041.2 L576.8,1040.2 L578.2,1039.2 L579.6,1038.2 L581.0,1037.1 L582.4,1036.1 L583.7,1035.1 L585.1,1034.1 L586.5,1033.1 L587.9,1032.1 L589.3,1031.1 L590.7,1030.1 L592.1,1029.0 L593.5,1028.0 L594.9,1027.0 L596.3,1026.1 L597.7,1025.1 L599.1,1024.1 L600.5,1023.1 L601.9,1022.1 L603.3,1021.1 L604.7,1020.2 L606.1,1019.2 L607.5,1018.3 L608.9,1017.3 L610.3,1016.4 L611.7,1015.4 L613.1,1014.5 L614.5,1013.6 L615.8,1012.6 L617.2,1011.7 L618.6,1010.8 L620.0,1009.9 L621.4,1009.0 L622.8,1008.1 L624.2,1007.2 L625.6,1006.3 L627.0,1005.4 L628.4,1004.5 L629.8,1003.6 L631.2,1002.7 L632.6,1001.8 L634.0,1000.9 L635.4,1000.0 L636.8,999.1 L638.2,998.3 L639.6,997.4 L641.0,996.5 L642.4,995.6 L643.8,994.7 L645.2,993.9 L646.6,993.0 L648.0,992.1 L649.3,991.2 L650.7,990.4 L652.1,989.5 L653.5,988.6 L654.9,987.7 L656.3,986.9 L657.7,986.0 L659.1,985.1 L660.5,984.2 L661.9,983.3 L663.3,982.4 L664.7,981.6 L666.1,980.7 L667.5,979.8 L668.9,978.9 L670.3,978.0 L671.7,977.1 L673.1,976.2 L674.5,975.3 L675.9,974.3 L677.3,973.4 L678.7,972.5 L680.1,971.6 L681.4,970.6 L682.8,969.7 L684.2,968.8 L685.6,967.8 L687.0,966.9 L688.4,966.0 L689.8,965.1 L691.2,964.1 L692.6,963.2 L694.0,962.3 L695.4,961.4 L696.8,960.5 L698.2,959.6 L699.6,958.7 L701.0,957.8 L702.4,956.9 L703.8,956.0 L705.2,955.2 L706.6,954.3 L708.0,953.5 L709.4,952.7 L710.8,951.8 L712.2,951.0 L713.6,950.2 L714.9,949.5 L716.3,948.7 L717.7,947.9 L719.1,947.1 L720.5,946.4 L721.9,945.6 L723.3,944.9 L724.7,944.1 L726.1,943.4 L727.5,942.6 L728.9,941.9 L730.3,941.2 L731.7,940.4 L733.1,939.7 L734.5,939.0 L735.9,938.3 L737.3,937.6 L738.7,936.9 L740.1,936.2 L741.5,935.5 L742.9,934.8 L744.3,934.1 L745.7,933.5 L747.0,932.8 L748.4,932.1 L749.8,931.5 L751.2,930.8 L752.6,930.2 L754.0,929.6 L755.4,928.9 L756.8,928.3 L758.2,927.7 L759.6,927.1 L761.0,926.5 L762.4,925.9 L761.0,929.1 L759.6,932.3 L758.2,935.5 L756.8,938.7 L755.4,941.8 L754.0,945.0 L752.6,948.2 L751.2,951.4 L749.8,954.5 L748.4,957.7 L747.0,960.9 L745.7,964.0 L744.3,967.2 L742.9,970.3 L741.5,973.5 L740.1,976.6 L738.7,979.8 L737.3,982.9 L735.9,986.1 L734.5,989.2 L733.1,992.3 L731.7,995.4 L730.3,998.6 L728.9,1001.7 L727.5,1004.8 L726.1,1008.0 L724.7,1011.2 L723.3,1014.5 L721.9,1017.7 L720.5,1021.0 L719.1,1024.3 L717.7,1027.6 L716.3,1030.9 L714.9,1034.2 L713.6,1037.5 L712.2,1040.8 L710.8,1044.0 L709.4,1047.2 L708.0,1050.3 L706.6,1053.4 L705.2,1056.4 L703.8,1059.3 L702.4,1062.2 L701.0,1065.0 L699.6,1067.7 L698.2,1070.3 L696.8,1072.8 L695.4,1075.1 L694.0,1077.5 L692.6,1079.8 L691.2,1082.0 L689.8,1084.2 L688.4,1086.3 L687.0,1088.4 L685.6,1090.4 L684.2,1092.4 L682.8,1094.4 L681.4,1096.4 L680.1,1098.3 L678.7,1100.2 L677.3,1102.0 L675.9,1103.9 L674.5,1105.7 L673.1,1107.5 L671.7,1109.3 L670.3,1111.1 L668.9,1112.9 L667.5,1114.7 L666.1,1116.5 L664.7,1118.3 L663.3,1120.1 L661.9,1121.8 L660.5,1123.5 L659.1,1125.3 L657.7,1127.0 L656.3,1128.6 L654.9,1130.3 L653.5,1132.0 L652.1,1133.6 L650.7,1135.2 L649.3,1136.9 L648.0,1138.5 L646.6,1140.1 L645.2,1141.7 L643.8,1143.3 L642.4,1144.8 L641.0,1146.4 L639.6,1148.0 L638.2,1149.5 L636.8,1151.1 L635.4,1152.7 L634.0,1154.2 L632.6,1155.8 L631.2,1157.3 L629.8,1158.9 L628.4,1160.4 L627.0,1162.0 L625.6,1163.6 L624.2,1165.1 L622.8,1166.7 L621.4,1168.3 L620.0,1169.9 L618.6,1171.5 L617.2,1173.1 L615.8,1174.7 L614.5,1176.3 L613.1,1177.9 L611.7,1179.5 L610.3,1181.1 L608.9,1182.7 L607.5,1184.3 L606.1,1185.9 L604.7,1187.5 L603.3,1189.1 L601.9,1190.7 L600.5,1192.3 L599.1,1193.9 L597.7,1195.5 L596.3,1197.0 L594.9,1198.6 L593.5,1200.2 L592.1,1201.7 L590.7,1203.3 L589.3,1204.8 L587.9,1206.3 L586.5,1207.8 L585.1,1209.3 L583.7,1210.8 L582.4,1212.2 L581.0,1213.7 L579.6,1215.1 L578.2,1216.5 L576.8,1217.9 L575.4,1219.3 L574.0,1220.7 L572.6,1222.1 L571.2,1223.4 L569.8,1224.8 L568.4,1226.2 L567.0,1227.5 L565.6,1228.9 L564.2,1230.2 L562.8,1231.6 L561.4,1232.9 L560.0,1234.2 L558.6,1235.5 L557.2,1236.8 L555.8,1238.1 L554.4,1239.4 L553.0,1240.7 L551.6,1241.9 L550.2,1243.2 L548.9,1244.4 L547.5,1245.6 L546.1,1246.8 L544.7,1248.0 L543.3,1249.2 L541.9,1250.4 L540.5,1251.5 L539.1,1252.7 L537.7,1253.8 L536.3,1254.9 L534.9,1256.0 L533.5,1257.0 L532.1,1258.1 L530.7,1259.2 L529.3,1260.2 L527.9,1261.3 L526.5,1262.3 L525.1,1263.4 L523.7,1264.4 L522.3,1265.5 L520.9,1266.5 L519.5,1267.5 L518.1,1268.6 L516.8,1269.6 L515.4,1270.6 L514.0,1271.6 L512.6,1272.5 L511.2,1273.5 L509.8,1274.4 L508.4,1275.4 L507.0,1276.3 L505.6,1277.2 L504.2,1278.1 L502.8,1278.9 L501.4,1279.8 L500.0,1280.6 L498.6,1281.4 L497.2,1282.1 L495.8,1282.9 L494.4,1283.6 L493.0,1284.3 L491.6,1284.9 L490.2,1285.6 L488.8,1286.2 L487.4,1286.8 L486.0,1287.3 L484.6,1287.9 L483.3,1288.5 L481.9,1289.0 L480.5,1289.6 L479.1,1290.1 L477.7,1290.7 L476.3,1291.2 L474.9,1291.8 L473.5,1292.3 L472.1,1292.8 L470.7,1293.3 L469.3,1293.9 L467.9,1294.4 L466.5,1294.9 L465.1,1295.4 L463.7,1295.9 L462.3,1296.3 L460.9,1296.8 L459.5,1297.3 L458.1,1297.8 L456.7,1298.2 L455.3,1298.7 L453.9,1299.1 L452.5,1299.6 L451.2,1300.0 L449.8,1300.5 L448.4,1300.9 L447.0,1301.3 L445.6,1301.7 L444.2,1302.1 L442.8,1302.5 L441.4,1302.9 L440.0,1303.3 L438.6,1303.7 L437.2,1304.1 L435.8,1304.5 L434.4,1304.8 L433.0,1305.2 L431.6,1305.6 L430.2,1305.9 L428.8,1306.2 L427.4,1306.6 L426.0,1306.9 L424.6,1307.2 L423.2,1307.6 L421.8,1307.9 L420.4,1308.2 L419.0,1308.5 L417.7,1308.8 L416.3,1309.1 L414.9,1309.3 L413.5,1309.6 L412.1,1309.9 L410.7,1310.1 L409.3,1310.4 L407.9,1310.6 L406.5,1310.9 L405.1,1311.1 L403.7,1311.3 L402.3,1311.5 L400.9,1311.8 L399.5,1312.0 L398.1,1312.2 L396.7,1312.4 L395.3,1312.5 L393.9,1312.7 L392.5,1312.9 L391.1,1313.1 L389.7,1313.2 L388.3,1313.4 L386.9,1313.6 L385.6,1313.7 L384.2,1313.9 L382.8,1314.0 L381.4,1314.2 L380.0,1314.3 L378.6,1314.5 L377.2,1314.6 L375.8,1314.7 L374.4,1314.9 L373.0,1315.0 L371.6,1315.1 L370.2,1315.3 L368.8,1315.4 L367.4,1315.5 L366.0,1315.6 L364.6,1315.8 L363.2,1315.9 L361.8,1316.0 L360.4,1316.2 L359.0,1316.3 L357.6,1316.4 L356.2,1316.6 L354.8,1316.7 L353.4,1316.8 L352.1,1317.0 L350.7,1317.1 L349.3,1317.2 L347.9,1317.3 L346.5,1317.5 L345.1,1317.6 L343.7,1317.7 L342.3,1317.8 L340.9,1318.0 L339.5,1318.1 L338.1,1318.2 L336.7,1318.3 L335.3,1318.5 L333.9,1318.6 L332.5,1318.7 L331.1,1318.8 L329.7,1318.9 L328.3,1319.1 L326.9,1319.2 L325.5,1319.3 L324.1,1319.4 L322.7,1319.5 L321.3,1319.6 L320.0,1319.8 L318.6,1319.9 L317.2,1320.0 L315.8,1320.1 L314.4,1320.2 L313.0,1320.4 L311.6,1320.5 L310.2,1320.6 L308.8,1320.7 L307.4,1320.8 L306.0,1320.9 L304.6,1321.0 L303.2,1321.2 L301.8,1321.3 L300.4,1321.4 L299.0,1321.5 L297.6,1321.6 L296.2,1321.7 L294.8,1321.8 L293.4,1321.9 L292.0,1322.0 L290.6,1322.1 L289.2,1322.2 L287.8,1322.3 L286.5,1322.4 L285.1,1322.5 L283.7,1322.6 L282.3,1322.7 L280.9,1322.8 L279.5,1322.9 L278.1,1323.0 L276.7,1323.1 L275.3,1323.2 L273.9,1323.3 L272.5,1323.5 L271.1,1323.6 L269.7,1323.7 L268.3,1323.8 L266.9,1324.0 L265.5,1324.1 L264.1,1324.2 L262.7,1324.4 L261.3,1324.5 L259.9,1324.7 L258.5,1324.8 L257.1,1325.0 L255.7,1325.2 L254.4,1325.3 L253.0,1325.5 L251.6,1325.7 L250.2,1326.0 L248.8,1326.2 L247.4,1326.4 L246.0,1326.6 L244.6,1326.9 L243.2,1327.1 L241.8,1327.4 L240.4,1327.7 L239.0,1327.9 L237.6,1328.2 L236.2,1328.5 L234.8,1328.8 L233.4,1329.1 L232.0,1329.4 L230.6,1329.6 L229.2,1329.9 L227.8,1330.2 L226.4,1330.5 L225.0,1330.8 L223.6,1331.1 L222.2,1331.3 L220.9,1331.6 L219.5,1331.9 L218.1,1332.2 L216.7,1332.5 L215.3,1332.8 L213.9,1333.1 L212.5,1333.4 L211.1,1333.7 L209.7,1334.1 L208.3,1334.4 L206.9,1334.7 L205.5,1335.0" fill="none" stroke="#800080" stroke-width="4.2" stroke-linejoin="round"/>
<path d="M205.5,1356.6 L206.9,1353.7 L208.3,1350.9 L209.7,1348.1 L211.1,1345.3 L212.5,1342.6 L213.9,1339.9 L215.3,1337.3 L216.7,1334.7 L218.1,1332.2 L219.5,1329.7 L220.9,1327.2 L222.2,1324.8 L223.6,1322.4 L225.0,1320.1 L226.4,1317.8 L227.8,1315.5 L229.2,1313.3 L230.6,1311.2 L232.0,1309.0 L233.4,1306.9 L234.8,1304.9 L236.2,1302.9 L237.6,1300.9 L239.0,1298.9 L240.4,1297.0 L241.8,1295.2 L243.2,1293.3 L244.6,1291.5 L246.0,1289.7 L247.4,1288.0 L248.8,1286.3 L250.2,1284.6 L251.6,1283.0 L253.0,1281.4 L254.4,1279.8 L255.7,1278.2 L257.1,1276.7 L258.5,1275.2 L259.9,1273.8 L261.3,1272.3 L262.7,1270.9 L264.1,1269.5 L265.5,1268.2 L266.9,1266.8 L268.3,1265.5 L269.7,1264.2 L271.1,1263.0 L272.5,1261.7 L273.9,1260.5 L275.3,1259.3 L276.7,1258.1 L278.1,1257.0 L279.5,1255.8 L280.9,1254.7 L282.3,1253.5 L283.7,1252.4 L285.1,1251.3 L286.5,1250.2 L287.8,1249.1 L289.2,1248.0 L290.6,1246.9 L292.0,1245.8 L293.4,1244.7 L294.8,1243.6 L296.2,1242.6 L297.6,1241.5 L299.0,1240.4 L300.4,1239.3 L301.8,1238.3 L303.2,1237.2 L304.6,1236.1 L306.0,1235.0 L307.4,1234.0 L308.8,1232.9 L310.2,1231.8 L311.6,1230.7 L313.0,1229.6 L314.4,1228.5 L315.8,1227.5 L317.2,1226.4 L318.6,1225.3 L320.0,1224.2 L321.3,1223.1 L322.7,1222.0 L324.1,1220.9 L325.5,1219.9 L326.9,1218.8 L328.3,1217.7 L329.7,1216.6 L331.1,1215.5 L332.5,1214.4 L333.9,1213.4 L335.3,1212.3 L336.7,1211.2 L338.1,1210.1 L339.5,1209.0 L340.9,1207.9 L342.3,1206.9 L343.7,1205.8 L345.1,1204.7 L346.5,1203.6 L347.9,1202.5 L349.3,1201.4 L350.7,1200.4 L352.1,1199.3 L353.4,1198.2 L354.8,1197.1 L356.2,1196.0 L357.6,1194.9 L359.0,1193.8 L360.4,1192.8 L361.8,1191.7 L363.2,1190.6 L364.6,1189.5 L366.0,1188.4 L367.4,1187.3 L368.8,1186.2 L370.2,1185.1 L371.6,1184.1 L373.0,1183.0 L374.4,1181.9 L375.8,1180.8 L377.2,1179.7 L378.6,1178.6 L380.0,1177.5 L381.4,1176.4 L382.8,1175.4 L384.2,1174.3 L385.6,1173.2 L386.9,1172.1 L388.3,1171.0 L389.7,1170.0 L391.1,1168.9 L392.5,1167.8 L393.9,1166.7 L395.3,1165.6 L396.7,1164.6 L398.1,1163.5 L399.5,1162.4 L400.9,1161.4 L402.3,1160.3 L403.7,1159.2 L405.1,1158.1 L406.5,1157.1 L407.9,1156.0 L409.3,1154.9 L410.7,1153.9 L412.1,1152.8 L413.5,1151.7 L414.9,1150.7 L416.3,1149.6 L417.7,1148.5 L419.0,1147.5 L420.4,1146.4 L421.8,1145.3 L423.2,1144.3 L424.6,1143.2 L426.0,1142.1 L427.4,1141.1 L428.8,1140.0 L430.2,1138.9 L431.6,1137.9 L433.0,1136.8 L434.4,1135.8 L435.8,1134.7 L437.2,1133.6 L438.6,1132.6 L440.0,1131.5 L441.4,1130.5 L442.8,1129.4 L444.2,1128.3 L445.6,1127.3 L447.0,1126.2 L448.4,1125.2 L449.8,1124.1 L451.2,1123.1 L452.5,1122.0 L453.9,1121.0 L455.3,1120.0 L456.7,1118.9 L458.1,1117.9 L459.5,1116.8 L460.9,1115.8 L462.3,1114.7 L463.7,1113.7 L465.1,1112.7 L466.5,1111.6 L467.9,1110.6 L469.3,1109.6 L470.7,1108.5 L472.1,1107.5 L473.5,1106.5 L474.9,1105.5 L476.3,1104.4 L477.7,1103.4 L479.1,1102.4 L480.5,1101.4 L481.9,1100.4 L483.3,1099.4 L484.6,1098.3 L486.0,1097.3 L487.4,1096.3 L488.8,1095.3 L490.2,1094.3 L491.6,1093.3 L493.0,1092.3 L494.4,1091.3 L495.8,1090.3 L497.2,1089.3 L498.6,1088.3 L500.0,1087.3 L501.4,1086.3 L502.8,1085.4 L504.2,1084.4 L505.6,1083.4 L507.0,1082.4 L508.4,1081.4 L509.8,1080.4 L511.2,1079.4 L512.6,1078.4 L514.0,1077.4 L515.4,1076.5 L516.8,1075.5 L518.1,1074.5 L519.5,1073.5 L520.9,1072.5 L522.3,1071.5 L523.7,1070.5 L525.1,1069.5 L526.5,1068.6 L527.9,1067.6 L529.3,1066.6 L530.7,1065.6 L532.1,1064.6 L533.5,1063.6 L534.9,1062.6 L536.3,1061.6 L537.7,1060.6 L539.1,1059.6 L540.5,1058.6 L541.9,1057.6 L543.3,1056.6 L544.7,1055.6 L546.1,1054.6 L547.5,1053.6 L548.9,1052.6 L550.2,1051.6 L551.6,1050.6 L553.0,1049.6 L554.4,1048.5 L555.8,1047.5 L557.2,1046.5 L558.6,1045.4 L560.0,1044.4 L561.4,1043.4 L562.8,1042.3 L564.2,1041.3 L565.6,1040.2 L567.0,1039.2 L568.4,1038.1 L569.8,1037.1 L571.2,1036.0 L572.6,1035.0 L574.0,1033.9 L575.4,1032.9 L576.8,1031.8 L578.2,1030.8 L579.6,1029.7 L581.0,1028.7 L582.4,1027.6 L583.7,1026.6 L585.1,1025.5 L586.5,1024.5 L587.9,1023.4 L589.3,1022.4 L590.7,1021.4 L592.1,1020.4 L593.5,1019.3 L594.9,1018.3 L596.3,1017.3 L597.7,1016.3 L599.1,1015.3 L600.5,1014.3 L601.9,1013.3 L603.3,1012.3 L604.7,1011.4 L606.1,1010.4 L607.5,1009.4 L608.9,1008.5 L610.3,1007.6 L611.7,1006.6 L613.1,1005.7 L614.5,1004.8 L615.8,1003.9 L617.2,1002.9 L618.6,1002.0 L620.0,1001.1 L621.4,1000.2 L622.8,999.4 L624.2,998.5 L625.6,997.6 L627.0,996.7 L628.4,995.9 L629.8,995.0 L631.2,994.1 L632.6,993.3 L634.0,992.4 L635.4,991.5 L636.8,990.7 L638.2,989.8 L639.6,989.0 L641.0,988.1 L642.4,987.3 L643.8,986.4 L645.2,985.6 L646.6,984.7 L648.0,983.9 L649.3,983.1 L650.7,982.2 L652.1,981.4 L653.5,980.5 L654.9,979.7 L656.3,978.8 L657.7,978.0 L659.1,977.1 L660.5,976.3 L661.9,975.4 L663.3,974.5 L664.7,973.7 L666.1,972.8 L667.5,972.0 L668.9,971.1 L670.3,970.2 L671.7,969.3 L673.1,968.4 L674.5,967.6 L675.9,966.7 L677.3,965.8 L678.7,964.9 L680.1,964.0 L681.4,963.2 L682.8,962.3 L684.2,961.4 L685.6,960.5 L687.0,959.6 L688.4,958.7 L689.8,957.9 L691.2,957.0 L692.6,956.1 L694.0,955.2 L695.4,954.3 L696.8,953.4 L698.2,952.5 L699.6,951.7 L701.0,950.8 L702.4,949.9 L703.8,949.0 L705.2,948.1 L706.6,947.3 L708.0,946.4 L709.4,945.5 L710.8,944.7 L712.2,943.8 L713.6,942.9 L714.9,942.1 L716.3,941.2 L717.7,940.3 L719.1,939.5 L720.5,938.6 L721.9,937.7 L723.3,936.9 L724.7,936.0 L726.1,935.2 L727.5,934.3 L728.9,933.4 L730.3,932.6 L731.7,931.7 L733.1,930.9 L734.5,930.0 L735.9,929.2 L737.3,928.3 L738.7,927.5 L740.1,926.6 L741.5,925.8 L742.9,924.9 L744.3,924.1 L745.7,923.2 L747.0,922.4 L748.4,921.5 L749.8,920.7 L751.2,919.8 L752.6,919.0 L754.0,918.1 L755.4,917.3 L756.8,916.5 L758.2,915.6 L759.6,914.8 L761.0,913.9 L762.4,913.1 L761.0,917.1 L759.6,921.1 L758.2,925.1 L756.8,929.0 L755.4,932.8 L754.0,936.7 L752.6,940.4 L751.2,944.2 L749.8,947.8 L748.4,951.5 L747.0,955.1 L745.7,958.6 L744.3,962.1 L742.9,965.5 L741.5,968.9 L740.1,972.3 L738.7,975.7 L737.3,979.0 L735.9,982.3 L734.5,985.5 L733.1,988.8 L731.7,992.0 L730.3,995.2 L728.9,998.4 L727.5,1001.6 L726.1,1004.7 L724.7,1007.8 L723.3,1010.9 L721.9,1014.0 L720.5,1017.0 L719.1,1020.0 L717.7,1023.1 L716.3,1026.1 L714.9,1029.1 L713.6,1032.2 L712.2,1035.2 L710.8,1038.3 L709.4,1041.4 L708.0,1044.5 L706.6,1047.6 L705.2,1050.7 L703.8,1053.9 L702.4,1057.0 L701.0,1060.1 L699.6,1063.1 L698.2,1066.2 L696.8,1069.2 L695.4,1072.1 L694.0,1075.1 L692.6,1077.9 L691.2,1080.7 L689.8,1083.4 L688.4,1086.1 L687.0,1088.7 L685.6,1091.2 L684.2,1093.7 L682.8,1096.2 L681.4,1098.7 L680.1,1101.1 L678.7,1103.5 L677.3,1105.8 L675.9,1108.1 L674.5,1110.4 L673.1,1112.6 L671.7,1114.7 L670.3,1116.9 L668.9,1118.9 L667.5,1120.9 L666.1,1122.9 L664.7,1124.8 L663.3,1126.6 L661.9,1128.4 L660.5,1130.2 L659.1,1131.9 L657.7,1133.7 L656.3,1135.3 L654.9,1137.0 L653.5,1138.6 L652.1,1140.2 L650.7,1141.8 L649.3,1143.3 L648.0,1144.9 L646.6,1146.4 L645.2,1147.9 L643.8,1149.4 L642.4,1150.9 L641.0,1152.4 L639.6,1153.8 L638.2,1155.3 L636.8,1156.7 L635.4,1158.2 L634.0,1159.7 L632.6,1161.1 L631.2,1162.6 L629.8,1164.0 L628.4,1165.5 L627.0,1167.0 L625.6,1168.5 L624.2,1170.0 L622.8,1171.5 L621.4,1173.1 L620.0,1174.6 L618.6,1176.2 L617.2,1177.7 L615.8,1179.3 L614.5,1180.9 L613.1,1182.4 L611.7,1184.0 L610.3,1185.5 L608.9,1187.1 L607.5,1188.6 L606.1,1190.2 L604.7,1191.7 L603.3,1193.3 L601.9,1194.8 L600.5,1196.4 L599.1,1197.9 L597.7,1199.5 L596.3,1201.0 L594.9,1202.6 L593.5,1204.1 L592.1,1205.6 L590.7,1207.2 L589.3,1208.7 L587.9,1210.2 L586.5,1211.8 L585.1,1213.3 L583.7,1214.8 L582.4,1216.3 L581.0,1217.8 L579.6,1219.3 L578.2,1220.8 L576.8,1222.4 L575.4,1223.9 L574.0,1225.4 L572.6,1226.9 L571.2,1228.5 L569.8,1230.0 L568.4,1231.6 L567.0,1233.1 L565.6,1234.7 L564.2,1236.2 L562.8,1237.8 L561.4,1239.4 L560.0,1240.9 L558.6,1242.5 L557.2,1244.0 L555.8,1245.6 L554.4,1247.1 L553.0,1248.6 L551.6,1250.1 L550.2,1251.6 L548.9,1253.1 L547.5,1254.5 L546.1,1256.0 L544.7,1257.4 L543.3,1258.8 L541.9,1260.1 L540.5,1261.5 L539.1,1262.8 L537.7,1264.1 L536.3,1265.4 L534.9,1266.6 L533.5,1267.8 L532.1,1269.0 L530.7,1270.2 L529.3,1271.3 L527.9,1272.5 L526.5,1273.6 L525.1,1274.8 L523.7,1275.9 L522.3,1277.1 L520.9,1278.2 L519.5,1279.3 L518.1,1280.4 L516.8,1281.5 L515.4,1282.6 L514.0,1283.6 L512.6,1284.7 L511.2,1285.7 L509.8,1286.7 L508.4,1287.7 L507.0,1288.7 L505.6,1289.6 L504.2,1290.6 L502.8,1291.5 L501.4,1292.4 L500.0,1293.3 L498.6,1294.1 L497.2,1294.9 L495.8,1295.7 L494.4,1296.5 L493.0,1297.3 L491.6,1298.0 L490.2,1298.7 L488.8,1299.4 L487.4,1300.0 L486.0,1300.7 L484.6,1301.3 L483.3,1301.9 L481.9,1302.5 L480.5,1303.1 L479.1,1303.7 L477.7,1304.3 L476.3,1304.8 L474.9,1305.4 L473.5,1305.9 L472.1,1306.4 L470.7,1307.0 L469.3,1307.5 L467.9,1308.0 L466.5,1308.4 L465.1,1308.9 L463.7,1309.4 L462.3,1309.9 L460.9,1310.3 L459.5,1310.8 L458.1,1311.2 L456.7,1311.6 L455.3,1312.0 L453.9,1312.4 L452.5,1312.8 L451.2,1313.2 L449.8,1313.6 L448.4,1314.0 L447.0,1314.4 L445.6,1314.7 L444.2,1315.1 L442.8,1315.5 L441.4,1315.8 L440.0,1316.2 L438.6,1316.5 L437.2,1316.8 L435.8,1317.2 L434.4,1317.5 L433.0,1317.8 L431.6,1318.2 L430.2,1318.5 L428.8,1318.8 L427.4,1319.1 L426.0,1319.4 L424.6,1319.7 L423.2,1320.0 L421.8,1320.3 L420.4,1320.6 L419.0,1320.8 L417.7,1321.1 L416.3,1321.4 L414.9,1321.6 L413.5,1321.9 L412.1,1322.1 L410.7,1322.4 L409.3,1322.6 L407.9,1322.8 L406.5,1323.0 L405.1,1323.2 L403.7,1323.4 L402.3,1323.6 L400.9,1323.8 L399.5,1323.9 L398.1,1324.1 L396.7,1324.3 L395.3,1324.4 L393.9,1324.6 L392.5,1324.7 L391.1,1324.9 L389.7,1325.0 L388.3,1325.1 L386.9,1325.3 L385.6,1325.4 L384.2,1325.5 L382.8,1325.6 L381.4,1325.8 L380.0,1325.9 L378.6,1326.0 L377.2,1326.1 L375.8,1326.2 L374.4,1326.3 L373.0,1326.4 L371.6,1326.5 L370.2,1326.6 L368.8,1326.7 L367.4,1326.8 L366.0,1327.0 L364.6,1327.1 L363.2,1327.2 L361.8,1327.3 L360.4,1327.4 L359.0,1327.5 L357.6,1327.6 L356.2,1327.7 L354.8,1327.8 L353.4,1327.9 L352.1,1328.0 L350.7,1328.1 L349.3,1328.2 L347.9,1328.3 L346.5,1328.4 L345.1,1328.5 L343.7,1328.6 L342.3,1328.7 L340.9,1328.8 L339.5,1328.9 L338.1,1328.9 L336.7,1329.0 L335.3,1329.1 L333.9,1329.2 L332.5,1329.3 L331.1,1329.4 L329.7,1329.5 L328.3,1329.6 L326.9,1329.7 L325.5,1329.7 L324.1,1329.8 L322.7,1329.9 L321.3,1330.0 L320.0,1330.2 L318.6,1330.3 L317.2,1330.4 L315.8,1330.5 L314.4,1330.6 L313.0,1330.7 L311.6,1330.9 L310.2,1331.0 L308.8,1331.1 L307.4,1331.3 L306.0,1331.4 L304.6,1331.6 L303.2,1331.7 L301.8,1331.9 L300.4,1332.1 L299.0,1332.2 L297.6,1332.4 L296.2,1332.6 L294.8,1332.8 L293.4,1333.0 L292.0,1333.2 L290.6,1333.4 L289.2,1333.6 L287.8,1333.8 L286.5,1334.0 L285.1,1334.2 L283.7,1334.5 L282.3,1334.7 L280.9,1334.9 L279.5,1335.2 L278.1,1335.4 L276.7,1335.6 L275.3,1335.9 L273.9,1336.1 L272.5,1336.4 L271.1,1336.6 L269.7,1336.9 L268.3,1337.2 L266.9,1337.4 L265.5,1337.7 L264.1,1338.0 L262.7,1338.3 L261.3,1338.5 L259.9,1338.8 L258.5,1339.1 L257.1,1339.4 L255.7,1339.7 L254.4,1340.0 L253.0,1340.3 L251.6,1340.6 L250.2,1341.0 L248.8,1341.3 L247.4,1341.7 L246.0,1342.1 L244.6,1342.4 L243.2,1342.8 L241.8,1343.2 L240.4,1343.6 L239.0,1344.0 L237.6,1344.4 L236.2,1344.8 L234.8,1345.3 L233.4,1345.7 L232.0,1346.2 L230.6,1346.6 L229.2,1347.1 L227.8,1347.5 L226.4,1348.0 L225.0,1348.5 L223.6,1349.0 L222.2,1349.5 L220.9,1350.0 L219.5,1350.5 L218.1,1351.1 L216.7,1351.6 L215.3,1352.2 L213.9,1352.8 L212.5,1353.4 L211.1,1354.0 L209.7,1354.7 L208.3,1355.3 L206.9,1356.0 L205.5,1356.6" fill="none" stroke="#800000" stroke-width="4.2" stroke-linejoin="round"/>
<rect x="145.5" y="868.5" width="141.5" height="362.5" fill="#ffffff"/>
<line x1="144.5" y1="888.5" x2="181.8" y2="888.5" stroke="#000000" stroke-width="4.2"/>
<text x="183.0" y="893.7" font-family="Liberation Serif, serif" font-weight="bold" font-size="26.5" text-anchor="start">5.0 mV/s</text>
<line x1="144.5" y1="921.5" x2="181.8" y2="921.5" stroke="#ff0000" stroke-width="4.2"/>
<text x="186.5" y="926.7" font-family="Liberation Serif, serif" font-weight="bold" font-size="26.5" text-anchor="start">10 mV/s</text>
<line x1="144.5" y1="954.5" x2="181.8" y2="954.5" stroke="#00ff00" stroke-width="4.2"/>
<text x="186.5" y="959.7" font-family="Liberation Serif, serif" font-weight="bold" font-size="26.5" text-anchor="start">20 mV/s</text>
<line x1="144.5" y1="987.5" x2="181.8" y2="987.5" stroke="#0000ff" stroke-width="4.2"/>
<text x="186.5" y="992.7" font-family="Liberation Serif, serif" font-weight="bold" font-size="26.5" text-anchor="start">30 mV/s</text>
<line x1="144.5" y1="1020.5" x2="181.8" y2="1020.5" stroke="#00ffff" stroke-width="4.2"/>
<text x="186.5" y="1025.7" font-family="Liberation Serif, serif" font-weight="bold" font-size="26.5" text-anchor="start">40 mV/s</text>
<line x1="144.5" y1="1053.5" x2="181.8" y2="1053.5" stroke="#ff00ff" stroke-width="4.2"/>
<text x="186.5" y="1058.7" font-family="Liberation Serif, serif" font-weight="bold" font-size="26.5" text-anchor="start">50 mV/s</text>
<line x1="144.5" y1="1086.5" x2="181.8" y2="1086.5" stroke="#ffff00" stroke-width="4.2"/>
<text x="186.5" y="1091.7" font-family="Liberation Serif, serif" font-weight="bold" font-size="26.5" text-anchor="start">60 mV/s</text>
<line x1="144.5" y1="1119.5" x2="181.8" y2="1119.5" stroke="#808000" stroke-width="4.2"/>
<text x="186.5" y="1124.7" font-family="Liberation Serif, serif" font-weight="bold" font-size="26.5" text-anchor="start">70 mV/s</text>
<line x1="144.5" y1="1152.5" x2="181.8" y2="1152.5" stroke="#000080" stroke-width="4.2"/>
<text x="186.5" y="1157.7" font-family="Liberation Serif, serif" font-weight="bold" font-size="26.5" text-anchor="start">80 mV/s</text>
<line x1="144.5" y1="1185.5" x2="181.8" y2="1185.5" stroke="#800080" stroke-width="4.2"/>
<text x="186.5" y="1190.7" font-family="Liberation Serif, serif" font-weight="bold" font-size="26.5" text-anchor="start">90 mV/s</text>
<line x1="144.5" y1="1218.5" x2="181.8" y2="1218.5" stroke="#800000" stroke-width="4.2"/>
<text x="181.0" y="1223.7" font-family="Liberation Serif, serif" font-weight="bold" font-size="26.5" text-anchor="start">100 mV/s</text>
<rect x="137.0" y="867.1" width="695.8" height="560.4" fill="none" stroke="#000" stroke-width="4.6"/>
<text x="114.0" y="1435.8" font-family="Liberation Serif, serif" font-weight="bold" font-size="36" text-anchor="end">-60</text>
<line x1="137.0" y1="1387.5" x2="147.5" y2="1387.5" stroke="#000" stroke-width="4.8"/>
<line x1="137.0" y1="1347.4" x2="156.7" y2="1347.4" stroke="#000" stroke-width="4.8"/>
<text x="114.0" y="1355.7" font-family="Liberation Serif, serif" font-weight="bold" font-size="36" text-anchor="end">-40</text>
<line x1="137.0" y1="1307.4" x2="147.5" y2="1307.4" stroke="#000" stroke-width="4.8"/>
<line x1="137.0" y1="1267.4" x2="156.7" y2="1267.4" stroke="#000" stroke-width="4.8"/>
<text x="114.0" y="1275.7" font-family="Liberation Serif, serif" font-weight="bold" font-size="36" text-anchor="end">-20</text>
<line x1="137.0" y1="1227.3" x2="145.5" y2="1227.3" stroke="#000" stroke-width="4.8"/>
<line x1="137.0" y1="1187.3" x2="145.5" y2="1187.3" stroke="#000" stroke-width="4.8"/>
<text x="114.0" y="1195.6" font-family="Liberation Serif, serif" font-weight="bold" font-size="36" text-anchor="end">0</text>
<line x1="137.0" y1="1147.3" x2="145.5" y2="1147.3" stroke="#000" stroke-width="4.8"/>
<line x1="137.0" y1="1107.2" x2="145.5" y2="1107.2" stroke="#000" stroke-width="4.8"/>
<text x="114.0" y="1115.5" font-family="Liberation Serif, serif" font-weight="bold" font-size="36" text-anchor="end">20</text>
<line x1="137.0" y1="1067.2" x2="145.5" y2="1067.2" stroke="#000" stroke-width="4.8"/>
<line x1="137.0" y1="1027.2" x2="145.5" y2="1027.2" stroke="#000" stroke-width="4.8"/>
<text x="114.0" y="1035.5" font-family="Liberation Serif, serif" font-weight="bold" font-size="36" text-anchor="end">40</text>
<line x1="137.0" y1="987.1" x2="145.5" y2="987.1" stroke="#000" stroke-width="4.8"/>
<line x1="137.0" y1="947.1" x2="145.5" y2="947.1" stroke="#000" stroke-width="4.8"/>
<text x="114.0" y="955.4" font-family="Liberation Serif, serif" font-weight="bold" font-size="36" text-anchor="end">60</text>
<line x1="137.0" y1="907.1" x2="145.5" y2="907.1" stroke="#000" stroke-width="4.8"/>
<text x="114.0" y="875.4" font-family="Liberation Serif, serif" font-weight="bold" font-size="36" text-anchor="end">80</text>
<text x="135.8" y="1476.8" font-family="Liberation Serif, serif" font-weight="bold" font-size="36" text-anchor="middle">-0.2</text>
<line x1="170.7" y1="1427.5" x2="170.7" y2="1417.5" stroke="#000" stroke-width="4.8"/>
<line x1="205.5" y1="1427.5" x2="205.5" y2="1406.5" stroke="#000" stroke-width="4.8"/>
<text x="205.5" y="1476.8" font-family="Liberation Serif, serif" font-weight="bold" font-size="36" text-anchor="middle">0.0</text>
<line x1="240.3" y1="1427.5" x2="240.3" y2="1417.5" stroke="#000" stroke-width="4.8"/>
<line x1="275.2" y1="1427.5" x2="275.2" y2="1406.5" stroke="#000" stroke-width="4.8"/>
<text x="275.2" y="1476.8" font-family="Liberation Serif, serif" font-weight="bold" font-size="36" text-anchor="middle">0.2</text>
<line x1="310.1" y1="1427.5" x2="310.1" y2="1417.5" stroke="#000" stroke-width="4.8"/>
<line x1="344.9" y1="1427.5" x2="344.9" y2="1406.5" stroke="#000" stroke-width="4.8"/>
<text x="344.9" y="1476.8" font-family="Liberation Serif, serif" font-weight="bold" font-size="36" text-anchor="middle">0.4</text>
<line x1="379.8" y1="1427.5" x2="379.8" y2="1417.5" stroke="#000" stroke-width="4.8"/>
<line x1="414.6" y1="1427.5" x2="414.6" y2="1406.5" stroke="#000" stroke-width="4.8"/>
<text x="414.6" y="1476.8" font-family="Liberation Serif, serif" font-weight="bold" font-size="36" text-anchor="middle">0.6</text>
<line x1="449.5" y1="1427.5" x2="449.5" y2="1417.5" stroke="#000" stroke-width="4.8"/>
<line x1="484.3" y1="1427.5" x2="484.3" y2="1406.5" stroke="#000" stroke-width="4.8"/>
<text x="484.3" y="1476.8" font-family="Liberation Serif, serif" font-weight="bold" font-size="36" text-anchor="middle">0.8</text>
<line x1="519.2" y1="1427.5" x2="519.2" y2="1417.5" stroke="#000" stroke-width="4.8"/>
<line x1="554.0" y1="1427.5" x2="554.0" y2="1406.5" stroke="#000" stroke-width="4.8"/>
<text x="554.0" y="1476.8" font-family="Liberation Serif, serif" font-weight="bold" font-size="36" text-anchor="middle">1.0</text>
<line x1="588.9" y1="1427.5" x2="588.9" y2="1417.5" stroke="#000" stroke-width="4.8"/>
<line x1="623.7" y1="1427.5" x2="623.7" y2="1406.5" stroke="#000" stroke-width="4.8"/>
<text x="623.7" y="1476.8" font-family="Liberation Serif, serif" font-weight="bold" font-size="36" text-anchor="middle">1.2</text>
<line x1="658.5" y1="1427.5" x2="658.5" y2="1417.5" stroke="#000" stroke-width="4.8"/>
<line x1="693.4" y1="1427.5" x2="693.4" y2="1406.5" stroke="#000" stroke-width="4.8"/>
<text x="693.4" y="1476.8" font-family="Liberation Serif, serif" font-weight="bold" font-size="36" text-anchor="middle">1.4</text>
<line x1="728.2" y1="1427.5" x2="728.2" y2="1417.5" stroke="#000" stroke-width="4.8"/>
<line x1="763.1" y1="1427.5" x2="763.1" y2="1406.5" stroke="#000" stroke-width="4.8"/>
<text x="763.1" y="1476.8" font-family="Liberation Serif, serif" font-weight="bold" font-size="36" text-anchor="middle">1.6</text>
<line x1="798.0" y1="1427.5" x2="798.0" y2="1417.5" stroke="#000" stroke-width="4.8"/>
<text x="832.8" y="1476.8" font-family="Liberation Serif, serif" font-weight="bold" font-size="36" text-anchor="middle">1.8</text>
<text transform="translate(49,1146.7) rotate(-90)" font-family="Liberation Serif, serif" font-weight="bold" font-size="36.8" text-anchor="middle">Current (mA)</text>
<text x="483.5" y="1539.0" font-family="Liberation Serif, serif" font-weight="bold" font-size="36.8" text-anchor="middle">Potential (V)</text>
<text x="364.0" y="903.0" font-family="Liberation Serif, serif" font-weight="bold" font-size="34.7" text-anchor="start">NiCoS@CNT@Graphene//AC</text>
<text x="131" y="849" font-family="Liberation Serif, serif" font-weight="bold" font-size="66.5">(c)</text>
<path d="M997.5,1140.7 L998.3,1138.2 L999.1,1135.9 L999.9,1133.9 L1000.7,1132.0 L1001.5,1130.1 L1002.2,1128.3 L1003.0,1126.6 L1003.8,1125.0 L1004.6,1123.5 L1005.4,1122.0 L1006.2,1120.7 L1007.0,1119.5 L1007.8,1118.3 L1008.6,1117.3 L1009.4,1116.3 L1010.2,1115.3 L1011.0,1114.4 L1011.7,1113.6 L1012.5,1112.7 L1013.3,1111.9 L1014.1,1111.2 L1014.9,1110.4 L1015.7,1109.6 L1016.5,1108.9 L1017.3,1108.1 L1018.1,1107.4 L1018.9,1106.6 L1019.7,1105.8 L1020.4,1105.0 L1021.2,1104.3 L1022.0,1103.5 L1022.8,1102.7 L1023.6,1102.0 L1024.4,1101.2 L1025.2,1100.5 L1026.0,1099.7 L1026.8,1099.0 L1027.6,1098.2 L1028.4,1097.5 L1029.2,1096.8 L1029.9,1096.1 L1030.7,1095.3 L1031.5,1094.6 L1032.3,1093.9 L1033.1,1093.2 L1033.9,1092.5 L1034.7,1091.8 L1035.5,1091.1 L1036.3,1090.4 L1037.1,1089.7 L1037.9,1089.0 L1038.6,1088.3 L1039.4,1087.7 L1040.2,1087.0 L1041.0,1086.3 L1041.8,1085.6 L1042.6,1085.0 L1043.4,1084.3 L1044.2,1083.6 L1045.0,1083.0 L1045.8,1082.3 L1046.6,1081.6 L1047.4,1081.0 L1048.1,1080.3 L1048.9,1079.6 L1049.7,1079.0 L1050.5,1078.3 L1051.3,1077.7 L1052.1,1077.0 L1052.9,1076.4 L1053.7,1075.8 L1054.5,1075.2 L1055.3,1074.5 L1056.1,1073.9 L1056.8,1073.4 L1057.6,1072.8 L1058.4,1072.2 L1059.2,1071.7 L1060.0,1071.1 L1060.8,1070.6 L1061.6,1070.0 L1062.4,1069.5 L1063.2,1069.0 L1064.0,1068.4 L1064.8,1067.9 L1065.6,1067.4 L1066.3,1066.9 L1067.1,1066.3 L1067.9,1065.8 L1068.7,1065.2 L1069.5,1064.7 L1070.3,1064.1 L1071.1,1063.5 L1071.9,1063.0 L1072.7,1062.4 L1073.5,1061.9 L1074.3,1061.3 L1075.1,1060.7 L1075.8,1060.2 L1076.6,1059.6 L1077.4,1059.0 L1078.2,1058.5 L1079.0,1057.9 L1079.8,1057.3 L1080.6,1056.7 L1081.4,1056.2 L1082.2,1055.6 L1083.0,1055.0 L1083.8,1054.4 L1084.5,1053.8 L1085.3,1053.2 L1086.1,1052.6 L1086.9,1052.0 L1087.7,1051.4 L1088.5,1050.8 L1089.3,1050.2 L1090.1,1049.6 L1090.9,1049.0 L1091.7,1048.5 L1092.5,1047.9 L1093.3,1047.4 L1094.0,1046.9 L1094.8,1046.3 L1095.6,1045.8 L1096.4,1045.3 L1097.2,1044.8 L1098.0,1044.3 L1098.8,1043.8 L1099.6,1043.3 L1100.4,1042.8 L1101.2,1042.3 L1102.0,1041.8 L1102.7,1041.3 L1103.5,1040.8 L1104.3,1040.3 L1105.1,1039.9 L1105.9,1039.4 L1106.7,1038.9 L1107.5,1038.4 L1108.3,1037.9 L1109.1,1037.4 L1109.9,1036.9 L1110.7,1036.4 L1111.5,1036.0 L1112.2,1035.5 L1113.0,1035.0 L1113.8,1034.5 L1114.6,1034.0 L1115.4,1033.5 L1116.2,1033.0 L1117.0,1032.6 L1117.8,1032.1 L1118.6,1031.6 L1119.4,1031.1 L1120.2,1030.6 L1120.9,1030.1 L1121.7,1029.6 L1122.5,1029.2 L1123.3,1028.7 L1124.1,1028.2 L1124.9,1027.7 L1125.7,1027.2 L1126.5,1026.7 L1127.3,1026.2 L1128.1,1025.7 L1128.9,1025.2 L1129.7,1024.7 L1130.4,1024.2 L1131.2,1023.7 L1132.0,1023.2 L1132.8,1022.7 L1133.6,1022.2 L1134.4,1021.7 L1135.2,1021.2 L1136.0,1020.7 L1136.8,1020.1 L1137.6,1019.6 L1138.4,1019.1 L1139.1,1018.6 L1139.9,1018.0 L1140.7,1017.5 L1141.5,1017.0 L1142.3,1016.5 L1143.1,1015.9 L1143.9,1015.4 L1144.7,1014.9 L1145.5,1014.3 L1146.3,1013.8 L1147.1,1013.3 L1147.9,1012.8 L1148.6,1012.2 L1149.4,1011.7 L1150.2,1011.2 L1151.0,1010.6 L1151.8,1010.1 L1152.6,1009.6 L1153.4,1009.1 L1154.2,1008.6 L1155.0,1008.0 L1155.8,1007.5 L1156.6,1007.0 L1157.3,1006.5 L1158.1,1006.0 L1158.9,1005.5 L1159.7,1005.0 L1160.5,1004.5 L1161.3,1004.0 L1162.1,1003.5 L1162.9,1003.0 L1163.7,1002.5 L1164.5,1002.1 L1165.3,1001.6 L1166.1,1001.1 L1166.8,1000.6 L1167.6,1000.2 L1168.4,999.7 L1169.2,999.2 L1170.0,998.8 L1170.8,998.3 L1171.6,997.9 L1172.4,997.4 L1173.2,997.0 L1174.0,996.5 L1174.8,996.1 L1175.5,995.6 L1176.3,995.2 L1177.1,994.8 L1177.9,994.3 L1178.7,993.9 L1179.5,993.4 L1180.3,993.0 L1181.1,992.6 L1181.9,992.1 L1182.7,991.7 L1183.5,991.3 L1184.3,990.9 L1185.0,990.4 L1185.8,990.0 L1186.6,989.6 L1187.4,989.2 L1188.2,988.7 L1189.0,988.3 L1189.8,987.9 L1190.6,987.5 L1191.4,987.1 L1192.2,986.6 L1193.0,986.2 L1193.8,985.8 L1194.5,985.4 L1195.3,985.0 L1196.1,984.6 L1196.9,984.2 L1197.7,983.7 L1198.5,983.3 L1199.3,982.9 L1200.1,982.5 L1200.9,982.1 L1201.7,981.7 L1202.5,981.3 L1203.2,980.8 L1204.0,980.4 L1204.8,980.0 L1205.6,979.6 L1206.4,979.2 L1207.2,978.8 L1208.0,978.3 L1208.8,977.9 L1209.6,977.5 L1210.4,977.1 L1211.2,976.7 L1212.0,976.3 L1212.7,975.9 L1213.5,975.4 L1214.3,975.0 L1215.1,974.6 L1215.9,974.2 L1216.7,973.8 L1217.5,973.4 L1218.3,973.0 L1219.1,972.6 L1219.9,972.2 L1220.7,971.8 L1221.4,971.4 L1222.2,971.0 L1223.0,970.6 L1223.8,970.2 L1224.6,969.8 L1225.4,969.4 L1226.2,969.0 L1227.0,968.6 L1227.8,968.2 L1228.6,967.8 L1229.4,967.4 L1230.2,967.0 L1230.9,966.7 L1231.7,966.3 L1232.5,965.9 L1233.3,965.5 L1234.1,965.2 L1234.9,964.8 L1235.7,964.4 L1236.5,964.1 L1237.3,963.7 L1238.1,963.4 L1238.9,963.0 L1239.6,962.7 L1240.4,962.3 L1241.2,962.0 L1242.0,961.6 L1242.8,961.3 L1243.6,960.9 L1244.4,960.6 L1245.2,960.2 L1246.0,959.9 L1246.8,959.5 L1247.6,959.2 L1248.4,958.8 L1249.1,958.5 L1249.9,958.2 L1250.7,957.8 L1251.5,957.5 L1252.3,957.1 L1253.1,956.8 L1253.9,956.5 L1254.7,956.2 L1255.5,955.8 L1256.3,955.5 L1257.1,955.2 L1257.8,954.9 L1258.6,954.5 L1259.4,954.2 L1260.2,953.9 L1261.0,953.6 L1261.8,953.3 L1262.6,953.0 L1263.4,952.7 L1264.2,952.4 L1265.0,952.1 L1265.8,951.8 L1266.6,951.5 L1267.3,951.2 L1268.1,951.0 L1268.9,950.7 L1269.7,950.4 L1270.5,950.2 L1271.3,949.9 L1272.1,949.6 L1272.9,949.4 L1273.7,949.1 L1274.5,948.9 L1275.3,948.6 L1276.0,948.4 L1276.8,948.2 L1277.6,947.9 L1278.4,947.7 L1279.2,947.5 L1280.0,947.2 L1280.8,947.0 L1281.6,946.8 L1282.4,946.6 L1283.2,946.4 L1284.0,946.1 L1284.8,945.9 L1285.5,945.7 L1286.3,945.5 L1287.1,945.3 L1287.9,945.1 L1288.7,944.9 L1289.5,944.7 L1290.3,944.5 L1291.1,944.3 L1291.9,944.1 L1292.7,943.9 L1293.5,943.7 L1294.2,943.5 L1295.0,943.3 L1295.8,943.1 L1296.6,942.9 L1297.4,942.8 L1298.2,942.6 L1299.0,942.4 L1299.8,942.2 L1300.6,942.0 L1301.4,941.8 L1302.2,941.7 L1303.0,941.5 L1303.7,941.3 L1304.5,941.1 L1305.3,941.0 L1306.1,940.8 L1306.9,940.6 L1307.7,940.5 L1308.5,940.3 L1309.3,940.1 L1310.1,940.0 L1310.9,939.8 L1311.7,939.6 L1312.4,939.5 L1313.2,939.3 L1314.0,939.2 L1314.8,939.0 L1315.6,938.9 L1316.4,938.7 L1317.2,938.6 L1318.0,938.5 L1318.8,938.3 L1319.6,938.2 L1320.4,938.1 L1321.2,938.0 L1321.9,937.8 L1322.7,937.7 L1323.5,937.6 L1324.3,937.5 L1325.1,937.4 L1325.9,937.2 L1326.7,937.1 L1327.5,937.0 L1328.3,936.9 L1329.1,936.8 L1329.9,936.6 L1330.7,936.5 L1331.4,936.4 L1332.2,936.3 L1333.0,936.1 L1333.8,936.0 L1334.6,935.9 L1335.4,935.7 L1336.2,935.6 L1337.0,935.4 L1337.8,935.3 L1338.6,935.1 L1339.4,935.0 L1340.1,934.8 L1340.9,934.7 L1341.7,934.5 L1342.5,934.3 L1343.3,934.2 L1344.1,934.0 L1344.9,933.8 L1345.7,933.6 L1346.5,933.4 L1347.3,933.2 L1348.1,932.9 L1348.9,932.7 L1349.6,932.4 L1350.4,932.1 L1351.2,931.8 L1352.0,931.5 L1352.3,1006.4 L1353.1,1014.9 L1353.9,1022.0 L1354.7,1027.8 L1355.5,1032.8 L1356.3,1036.9 L1357.1,1040.4 L1357.9,1043.6 L1358.7,1046.6 L1359.5,1049.3 L1360.3,1051.9 L1361.0,1054.3 L1361.8,1056.7 L1362.6,1059.1 L1363.4,1061.3 L1364.2,1063.5 L1365.0,1065.6 L1365.8,1067.7 L1366.6,1069.7 L1367.4,1071.7 L1368.2,1073.6 L1369.0,1075.5 L1369.8,1077.3 L1370.5,1079.1 L1371.3,1080.9 L1372.1,1082.7 L1372.9,1084.5 L1373.7,1086.2 L1374.5,1088.0 L1375.3,1089.7 L1376.1,1091.4 L1376.9,1093.0 L1377.7,1094.7 L1378.5,1096.3 L1379.3,1097.9 L1380.1,1099.5 L1380.8,1101.0 L1381.6,1102.6 L1382.4,1104.1 L1383.2,1105.6 L1384.0,1107.1 L1384.8,1108.6 L1385.6,1110.1 L1386.4,1111.6 L1387.2,1113.0 L1388.0,1114.5 L1388.8,1115.9 L1389.6,1117.3 L1390.3,1118.7 L1391.1,1120.0 L1391.9,1121.4 L1392.7,1122.7 L1393.5,1124.0 L1394.3,1125.3 L1395.1,1126.6 L1395.9,1127.9 L1396.7,1129.2 L1397.5,1130.5 L1398.3,1131.8 L1399.1,1133.0 L1399.9,1134.3 L1400.6,1135.6 L1401.4,1136.9 L1402.2,1138.2 L1403.0,1139.4 L1403.8,1140.7 L1404.6,1142.1 L1405.4,1143.4 L1406.2,1144.7 L1407.0,1146.0 L1407.8,1147.4 L1408.6,1148.8 L1409.4,1150.1 L1410.1,1151.5 L1410.9,1152.8 L1411.7,1154.2 L1412.5,1155.5 L1413.3,1156.9 L1414.1,1158.2 L1414.9,1159.5 L1415.7,1160.8 L1416.5,1162.1 L1417.3,1163.3 L1418.1,1164.6 L1418.9,1165.8 L1419.7,1167.0 L1420.4,1168.1 L1421.2,1169.3 L1422.0,1170.4 L1422.8,1171.5 L1423.6,1172.6 L1424.4,1173.7 L1425.2,1174.7 L1426.0,1175.8 L1426.8,1176.8 L1427.6,1177.8 L1428.4,1178.8 L1429.2,1179.9 L1429.9,1180.9 L1430.7,1181.9 L1431.5,1182.9 L1432.3,1183.9 L1433.1,1184.9 L1433.9,1185.9 L1434.7,1186.9 L1435.5,1187.9 L1436.3,1188.9 L1437.1,1189.9 L1437.9,1190.9 L1438.7,1191.9 L1439.5,1192.9 L1440.2,1193.9 L1441.0,1194.8 L1441.8,1195.8 L1442.6,1196.8 L1443.4,1197.8 L1444.2,1198.8 L1445.0,1199.8 L1445.8,1200.7 L1446.6,1201.7 L1447.4,1202.7 L1448.2,1203.7 L1449.0,1204.6 L1449.7,1205.6 L1450.5,1206.6 L1451.3,1207.5 L1452.1,1208.5 L1452.9,1209.5 L1453.7,1210.4 L1454.5,1211.4 L1455.3,1212.3 L1456.1,1213.3 L1456.9,1214.2 L1457.7,1215.2 L1458.5,1216.1 L1459.3,1217.1 L1460.0,1218.0 L1460.8,1219.0 L1461.6,1219.9 L1462.4,1220.8 L1463.2,1221.8 L1464.0,1222.7 L1464.8,1223.6 L1465.6,1224.6 L1466.4,1225.5 L1467.2,1226.4 L1468.0,1227.4 L1468.8,1228.3 L1469.5,1229.2 L1470.3,1230.1 L1471.1,1231.0 L1471.9,1231.9 L1472.7,1232.8 L1473.5,1233.7 L1474.3,1234.6 L1475.1,1235.5 L1475.9,1236.4 L1476.7,1237.2 L1477.5,1238.1 L1478.3,1239.0 L1479.0,1239.9 L1479.8,1240.7 L1480.6,1241.6 L1481.4,1242.5 L1482.2,1243.3 L1483.0,1244.2 L1483.8,1245.1 L1484.6,1246.0 L1485.4,1246.8 L1486.2,1247.7 L1487.0,1248.6 L1487.8,1249.4 L1488.6,1250.3 L1489.3,1251.2 L1490.1,1252.1 L1490.9,1253.0 L1491.7,1253.9 L1492.5,1254.8 L1493.3,1255.7 L1494.1,1256.6 L1494.9,1257.5 L1495.7,1258.4 L1496.5,1259.3 L1497.3,1260.2 L1498.1,1261.2 L1498.8,1262.1 L1499.6,1263.1 L1500.4,1264.0 L1501.2,1265.0 L1502.0,1266.0 L1502.8,1266.9 L1503.6,1267.9 L1504.4,1269.0 L1505.2,1270.0 L1506.0,1271.0 L1506.8,1272.0 L1507.6,1273.1 L1508.4,1274.1 L1509.1,1275.2 L1509.9,1276.2 L1510.7,1277.3 L1511.5,1278.4 L1512.3,1279.5 L1513.1,1280.5 L1513.9,1281.6 L1514.7,1282.7 L1515.5,1283.8 L1516.3,1284.9 L1517.1,1286.0 L1517.9,1287.1 L1518.6,1288.1 L1519.4,1289.2 L1520.2,1290.3 L1521.0,1291.4 L1521.8,1292.5 L1522.6,1293.5 L1523.4,1294.6 L1524.2,1295.7 L1525.0,1296.7 L1525.8,1297.8 L1526.6,1298.8 L1527.4,1299.8 L1528.2,1300.9 L1528.9,1301.9 L1529.7,1302.9 L1530.5,1303.9 L1531.3,1304.9 L1532.1,1305.9 L1532.9,1306.8 L1533.7,1307.8 L1534.5,1308.7 L1535.3,1309.7 L1536.1,1310.6 L1536.9,1311.5 L1537.7,1312.4 L1538.4,1313.3 L1539.2,1314.2 L1540.0,1315.1 L1540.8,1316.0 L1541.6,1316.9 L1542.4,1317.8 L1543.2,1318.6 L1544.0,1319.5 L1544.8,1320.4 L1545.6,1321.2 L1546.4,1322.1 L1547.2,1322.9 L1548.0,1323.8 L1548.7,1324.6 L1549.5,1325.5 L1550.3,1326.3 L1551.1,1327.2 L1551.9,1328.0 L1552.7,1328.8 L1553.5,1329.7 L1554.3,1330.5 L1555.1,1331.4 L1555.9,1332.2 L1556.7,1333.0 L1557.5,1333.9 L1558.2,1334.7 L1559.0,1335.6 L1559.8,1336.4 L1560.6,1337.3 L1561.4,1338.1 L1562.2,1339.0 L1563.0,1339.8 L1563.8,1340.7 L1564.6,1341.6 L1565.4,1342.5 L1566.2,1343.3 L1567.0,1344.2 L1567.8,1345.1 L1568.5,1346.0 L1569.3,1346.8 L1570.1,1347.7 L1570.9,1348.6 L1571.7,1349.4 L1572.5,1350.3 L1573.3,1351.2 L1574.1,1352.0 L1574.9,1352.9 L1575.7,1353.7 L1576.5,1354.6 L1577.3,1355.5 L1578.0,1356.3 L1578.8,1357.2 L1579.6,1358.1 L1580.4,1358.9 L1581.2,1359.8 L1582.0,1360.7 L1582.8,1361.5 L1583.6,1362.4 L1584.4,1363.3 L1585.2,1364.2 L1586.0,1365.1 L1586.8,1365.9 L1587.6,1366.8 L1588.3,1367.7 L1589.1,1368.6 L1589.9,1369.6 L1590.7,1370.5 L1591.5,1371.4 L1592.3,1372.3 L1593.1,1373.2 L1593.9,1374.2 L1594.7,1375.1 L1595.5,1376.1 L1596.3,1377.0 L1597.1,1378.0 L1597.8,1379.0 L1598.6,1380.0 L1599.4,1381.0 L1600.2,1381.9 L1601.0,1382.9 L1601.8,1383.9 L1602.6,1384.8 L1603.4,1385.7 L1604.2,1386.7 L1605.0,1387.6 L1605.8,1388.6 L1606.6,1389.5 L1607.4,1390.5 L1608.1,1391.5 L1608.9,1392.5 L1609.7,1393.5 L1610.5,1394.5 L1611.3,1395.5 L1612.1,1396.6 L1612.9,1397.7 L1613.7,1398.8 L1614.5,1399.9 L1615.3,1401.1 L1616.1,1402.3 L1616.9,1403.5 L1617.6,1404.8 L1618.4,1406.1 L1619.2,1407.5 L1620.0,1408.9 L1620.8,1410.4 L1621.6,1411.9 L1622.4,1413.6 L1623.2,1415.5 L1624.0,1417.5 L1624.8,1419.6 L1625.6,1421.8 L1626.4,1424.0 L1627.2,1426.3 L1627.9,1428.7 L1628.7,1431.0" fill="none" stroke="#000000" stroke-width="4.4" stroke-linejoin="round"/>
<path d="M997.5,1140.7 L998.3,1138.2 L999.1,1135.9 L999.9,1133.9 L1000.7,1132.0 L1001.5,1130.3 L1002.2,1128.7 L1003.0,1127.2 L1003.8,1125.7 L1004.6,1124.2 L1005.4,1122.9 L1006.2,1121.5 L1007.0,1120.2 L1007.8,1118.8 L1008.6,1117.5 L1009.4,1116.2 L1010.2,1115.0 L1010.9,1113.7 L1011.7,1112.5 L1012.5,1111.3 L1013.3,1110.1 L1014.1,1109.0 L1014.9,1107.8 L1015.7,1106.7 L1016.5,1105.5 L1017.3,1104.4 L1018.1,1103.3 L1018.9,1102.2 L1019.7,1101.1 L1020.4,1100.0 L1021.2,1098.9 L1022.0,1097.8 L1022.8,1096.7 L1023.6,1095.6 L1024.4,1094.5 L1025.2,1093.4 L1026.0,1092.4 L1026.8,1091.3 L1027.6,1090.3 L1028.4,1089.3 L1029.1,1088.3 L1029.9,1087.3 L1030.7,1086.3 L1031.5,1085.3 L1032.3,1084.4 L1033.1,1083.4 L1033.9,1082.5 L1034.7,1081.6 L1035.5,1080.6 L1036.3,1079.7 L1037.1,1078.8 L1037.8,1078.0 L1038.6,1077.1 L1039.4,1076.2 L1040.2,1075.3 L1041.0,1074.5 L1041.8,1073.6 L1042.6,1072.8 L1043.4,1071.9 L1044.2,1071.1 L1045.0,1070.3 L1045.8,1069.5 L1046.6,1068.6 L1047.3,1067.8 L1048.1,1067.0 L1048.9,1066.2 L1049.7,1065.4 L1050.5,1064.7 L1051.3,1063.9 L1052.1,1063.1 L1052.9,1062.3 L1053.7,1061.6 L1054.5,1060.8 L1055.3,1060.1 L1056.0,1059.3 L1056.8,1058.6 L1057.6,1057.8 L1058.4,1057.1 L1059.2,1056.4 L1060.0,1055.7 L1060.8,1055.0 L1061.6,1054.4 L1062.4,1053.7 L1063.2,1053.0 L1064.0,1052.3 L1064.7,1051.6 L1065.5,1050.9 L1066.3,1050.2 L1067.1,1049.5 L1067.9,1048.7 L1068.7,1048.0 L1069.5,1047.2 L1070.3,1046.4 L1071.1,1045.7 L1071.9,1044.9 L1072.7,1044.0 L1073.5,1043.2 L1074.2,1042.4 L1075.0,1041.6 L1075.8,1040.8 L1076.6,1039.9 L1077.4,1039.1 L1078.2,1038.3 L1079.0,1037.5 L1079.8,1036.7 L1080.6,1035.9 L1081.4,1035.1 L1082.2,1034.3 L1082.9,1033.5 L1083.7,1032.7 L1084.5,1031.9 L1085.3,1031.1 L1086.1,1030.3 L1086.9,1029.5 L1087.7,1028.7 L1088.5,1027.9 L1089.3,1027.1 L1090.1,1026.3 L1090.9,1025.5 L1091.6,1024.8 L1092.4,1024.0 L1093.2,1023.3 L1094.0,1022.5 L1094.8,1021.8 L1095.6,1021.1 L1096.4,1020.3 L1097.2,1019.6 L1098.0,1018.9 L1098.8,1018.2 L1099.6,1017.5 L1100.4,1016.7 L1101.1,1016.0 L1101.9,1015.3 L1102.7,1014.6 L1103.5,1014.0 L1104.3,1013.3 L1105.1,1012.6 L1105.9,1011.9 L1106.7,1011.2 L1107.5,1010.5 L1108.3,1009.9 L1109.1,1009.2 L1109.8,1008.6 L1110.6,1007.9 L1111.4,1007.3 L1112.2,1006.6 L1113.0,1006.0 L1113.8,1005.4 L1114.6,1004.8 L1115.4,1004.2 L1116.2,1003.6 L1117.0,1002.9 L1117.8,1002.3 L1118.5,1001.7 L1119.3,1001.1 L1120.1,1000.5 L1120.9,999.9 L1121.7,999.3 L1122.5,998.6 L1123.3,998.0 L1124.1,997.4 L1124.9,996.7 L1125.7,996.1 L1126.5,995.4 L1127.3,994.8 L1128.0,994.1 L1128.8,993.4 L1129.6,992.7 L1130.4,992.0 L1131.2,991.3 L1132.0,990.5 L1132.8,989.7 L1133.6,989.0 L1134.4,988.2 L1135.2,987.4 L1136.0,986.5 L1136.7,985.7 L1137.5,984.9 L1138.3,984.0 L1139.1,983.2 L1139.9,982.4 L1140.7,981.5 L1141.5,980.7 L1142.3,979.9 L1143.1,979.1 L1143.9,978.3 L1144.7,977.5 L1145.4,976.7 L1146.2,975.9 L1147.0,975.2 L1147.8,974.4 L1148.6,973.7 L1149.4,973.0 L1150.2,972.3 L1151.0,971.6 L1151.8,970.9 L1152.6,970.2 L1153.4,969.5 L1154.2,968.9 L1154.9,968.2 L1155.7,967.5 L1156.5,966.9 L1157.3,966.2 L1158.1,965.6 L1158.9,964.9 L1159.7,964.3 L1160.5,963.7 L1161.3,963.1 L1162.1,962.5 L1162.9,961.9 L1163.6,961.3 L1164.4,960.7 L1165.2,960.2 L1166.0,959.6 L1166.8,959.1 L1167.6,958.5 L1168.4,958.0 L1169.2,957.5 L1170.0,957.0 L1170.8,956.5 L1171.6,956.0 L1172.3,955.6 L1173.1,955.1 L1173.9,954.6 L1174.7,954.2 L1175.5,953.7 L1176.3,953.2 L1177.1,952.8 L1177.9,952.4 L1178.7,951.9 L1179.5,951.5 L1180.3,951.0 L1181.1,950.6 L1181.8,950.2 L1182.6,949.8 L1183.4,949.3 L1184.2,948.9 L1185.0,948.5 L1185.8,948.0 L1186.6,947.6 L1187.4,947.2 L1188.2,946.8 L1189.0,946.3 L1189.8,945.9 L1190.5,945.5 L1191.3,945.1 L1192.1,944.7 L1192.9,944.3 L1193.7,943.9 L1194.5,943.5 L1195.3,943.1 L1196.1,942.7 L1196.9,942.3 L1197.7,941.9 L1198.5,941.5 L1199.2,941.2 L1200.0,940.8 L1200.8,940.5 L1201.6,940.1 L1202.4,939.8 L1203.2,939.5 L1204.0,939.1 L1204.8,938.8 L1205.6,938.5 L1206.4,938.1 L1207.2,937.8 L1207.9,937.5 L1208.7,937.2 L1209.5,936.9 L1210.3,936.6 L1211.1,936.3 L1211.9,936.0 L1212.7,935.7 L1213.5,935.4 L1214.3,935.1 L1215.1,934.8 L1215.9,934.6 L1216.7,934.3 L1217.4,934.1 L1218.2,933.9 L1219.0,933.6 L1219.8,933.4 L1220.6,933.2 L1221.4,933.0 L1222.2,932.9 L1223.0,932.7 L1223.8,932.5 L1224.6,932.3 L1225.4,932.2 L1226.1,932.0 L1226.9,931.9 L1227.7,931.7 L1228.5,931.6 L1229.3,931.5 L1229.6,1018.9 L1230.4,1028.1 L1231.2,1036.1 L1232.0,1042.7 L1232.8,1048.5 L1233.6,1053.8 L1234.4,1058.6 L1235.2,1063.1 L1236.0,1067.4 L1236.7,1071.5 L1237.5,1075.4 L1238.3,1079.0 L1239.1,1082.5 L1239.9,1085.8 L1240.7,1088.9 L1241.5,1091.8 L1242.3,1094.7 L1243.1,1097.4 L1243.9,1100.1 L1244.7,1102.6 L1245.5,1105.1 L1246.2,1107.5 L1247.0,1109.9 L1247.8,1112.2 L1248.6,1114.4 L1249.4,1116.7 L1250.2,1118.8 L1251.0,1121.0 L1251.8,1123.1 L1252.6,1125.1 L1253.4,1127.1 L1254.2,1129.1 L1255.0,1131.0 L1255.7,1132.9 L1256.5,1134.7 L1257.3,1136.6 L1258.1,1138.4 L1258.9,1140.2 L1259.7,1142.0 L1260.5,1143.7 L1261.3,1145.4 L1262.1,1147.1 L1262.9,1148.7 L1263.7,1150.3 L1264.4,1151.9 L1265.2,1153.5 L1266.0,1155.1 L1266.8,1156.6 L1267.6,1158.1 L1268.4,1159.7 L1269.2,1161.2 L1270.0,1162.7 L1270.8,1164.2 L1271.6,1165.7 L1272.4,1167.3 L1273.2,1168.8 L1273.9,1170.4 L1274.7,1172.0 L1275.5,1173.5 L1276.3,1175.1 L1277.1,1176.6 L1277.9,1178.2 L1278.7,1179.8 L1279.5,1181.3 L1280.3,1182.9 L1281.1,1184.4 L1281.9,1186.0 L1282.6,1187.6 L1283.4,1189.1 L1284.2,1190.7 L1285.0,1192.3 L1285.8,1193.8 L1286.6,1195.4 L1287.4,1197.0 L1288.2,1198.6 L1289.0,1200.2 L1289.8,1201.8 L1290.6,1203.5 L1291.4,1205.1 L1292.1,1206.7 L1292.9,1208.3 L1293.7,1209.8 L1294.5,1211.4 L1295.3,1213.0 L1296.1,1214.5 L1296.9,1216.0 L1297.7,1217.5 L1298.5,1219.0 L1299.3,1220.4 L1300.1,1221.9 L1300.8,1223.3 L1301.6,1224.7 L1302.4,1226.1 L1303.2,1227.5 L1304.0,1228.9 L1304.8,1230.3 L1305.6,1231.7 L1306.4,1233.1 L1307.2,1234.5 L1308.0,1235.9 L1308.8,1237.3 L1309.6,1238.7 L1310.3,1240.2 L1311.1,1241.6 L1311.9,1243.0 L1312.7,1244.5 L1313.5,1246.0 L1314.3,1247.4 L1315.1,1248.9 L1315.9,1250.4 L1316.7,1251.8 L1317.5,1253.3 L1318.3,1254.8 L1319.0,1256.3 L1319.8,1257.7 L1320.6,1259.2 L1321.4,1260.6 L1322.2,1262.1 L1323.0,1263.5 L1323.8,1265.0 L1324.6,1266.4 L1325.4,1267.8 L1326.2,1269.2 L1327.0,1270.5 L1327.8,1271.9 L1328.5,1273.2 L1329.3,1274.5 L1330.1,1275.9 L1330.9,1277.2 L1331.7,1278.5 L1332.5,1279.9 L1333.3,1281.2 L1334.1,1282.6 L1334.9,1284.0 L1335.7,1285.5 L1336.5,1286.9 L1337.2,1288.4 L1338.0,1290.0 L1338.8,1291.6 L1339.6,1293.2 L1340.4,1294.8 L1341.2,1296.5 L1342.0,1298.2 L1342.8,1299.8 L1343.6,1301.4 L1344.4,1303.1 L1345.2,1304.6 L1346.0,1306.2 L1346.7,1307.7 L1347.5,1309.1 L1348.3,1310.5 L1349.1,1311.9 L1349.9,1313.2 L1350.7,1314.5 L1351.5,1315.8 L1352.3,1317.1 L1353.1,1318.3 L1353.9,1319.5 L1354.7,1320.7 L1355.4,1322.0 L1356.2,1323.2 L1357.0,1324.4 L1357.8,1325.6 L1358.6,1326.8 L1359.4,1328.1 L1360.2,1329.4 L1361.0,1330.6 L1361.8,1332.0 L1362.6,1333.3 L1363.4,1334.7 L1364.2,1336.0 L1364.9,1337.4 L1365.7,1338.8 L1366.5,1340.2 L1367.3,1341.6 L1368.1,1343.0 L1368.9,1344.4 L1369.7,1345.9 L1370.5,1347.3 L1371.3,1348.7 L1372.1,1350.1 L1372.9,1351.6 L1373.7,1353.0 L1374.4,1354.4 L1375.2,1355.9 L1376.0,1357.3 L1376.8,1358.7 L1377.6,1360.1 L1378.4,1361.5 L1379.2,1362.8 L1380.0,1364.2 L1380.8,1365.6 L1381.6,1366.9 L1382.4,1368.3 L1383.1,1369.7 L1383.9,1371.1 L1384.7,1372.5 L1385.5,1373.9 L1386.3,1375.3 L1387.1,1376.8 L1387.9,1378.3 L1388.7,1379.8 L1389.5,1381.3 L1390.3,1382.9 L1391.1,1384.5 L1391.9,1386.0 L1392.6,1387.5 L1393.4,1388.9 L1394.2,1390.4 L1395.0,1392.0 L1395.8,1393.5 L1396.6,1395.2 L1397.4,1396.9 L1398.2,1398.7 L1399.0,1400.7 L1399.8,1402.8 L1400.6,1405.0 L1401.3,1407.5 L1402.1,1410.2 L1402.9,1413.6 L1403.7,1417.5 L1404.5,1421.8 L1405.3,1426.4 L1406.1,1431.0" fill="none" stroke="#ff0000" stroke-width="4.4" stroke-linejoin="round"/>
<path d="M997.5,1140.7 L998.3,1133.8 L999.1,1128.1 L999.9,1123.5 L1000.7,1119.4 L1001.5,1115.9 L1002.3,1113.1 L1003.1,1111.0 L1003.8,1109.1 L1004.6,1107.4 L1005.4,1105.9 L1006.2,1104.6 L1007.0,1103.3 L1007.8,1102.1 L1008.6,1100.8 L1009.4,1099.6 L1010.2,1098.3 L1011.0,1096.8 L1011.8,1095.3 L1012.6,1093.7 L1013.4,1092.2 L1014.2,1090.6 L1014.9,1089.0 L1015.7,1087.5 L1016.5,1085.9 L1017.3,1084.3 L1018.1,1082.7 L1018.9,1081.2 L1019.7,1079.6 L1020.5,1078.1 L1021.3,1076.5 L1022.1,1074.9 L1022.9,1073.3 L1023.7,1071.7 L1024.5,1070.1 L1025.3,1068.5 L1026.1,1066.9 L1026.8,1065.3 L1027.6,1063.8 L1028.4,1062.3 L1029.2,1060.9 L1030.0,1059.5 L1030.8,1058.1 L1031.6,1056.9 L1032.4,1055.6 L1033.2,1054.5 L1034.0,1053.3 L1034.8,1052.2 L1035.6,1051.2 L1036.4,1050.1 L1037.2,1049.1 L1037.9,1048.1 L1038.7,1047.1 L1039.5,1046.2 L1040.3,1045.2 L1041.1,1044.2 L1041.9,1043.3 L1042.7,1042.3 L1043.5,1041.3 L1044.3,1040.3 L1045.1,1039.4 L1045.9,1038.4 L1046.7,1037.4 L1047.5,1036.5 L1048.3,1035.5 L1049.1,1034.6 L1049.8,1033.6 L1050.6,1032.7 L1051.4,1031.7 L1052.2,1030.8 L1053.0,1029.9 L1053.8,1028.9 L1054.6,1028.0 L1055.4,1027.0 L1056.2,1026.1 L1057.0,1025.1 L1057.8,1024.2 L1058.6,1023.3 L1059.4,1022.3 L1060.2,1021.4 L1060.9,1020.4 L1061.7,1019.5 L1062.5,1018.6 L1063.3,1017.6 L1064.1,1016.7 L1064.9,1015.7 L1065.7,1014.8 L1066.5,1013.8 L1067.3,1012.8 L1068.1,1011.8 L1068.9,1010.8 L1069.7,1009.8 L1070.5,1008.8 L1071.3,1007.8 L1072.0,1006.8 L1072.8,1005.7 L1073.6,1004.7 L1074.4,1003.6 L1075.2,1002.6 L1076.0,1001.5 L1076.8,1000.5 L1077.6,999.4 L1078.4,998.4 L1079.2,997.4 L1080.0,996.4 L1080.8,995.4 L1081.6,994.4 L1082.4,993.4 L1083.2,992.4 L1083.9,991.4 L1084.7,990.4 L1085.5,989.4 L1086.3,988.4 L1087.1,987.4 L1087.9,986.5 L1088.7,985.5 L1089.5,984.6 L1090.3,983.7 L1091.1,982.8 L1091.9,981.9 L1092.7,981.1 L1093.5,980.2 L1094.3,979.4 L1095.0,978.7 L1095.8,977.9 L1096.6,977.1 L1097.4,976.4 L1098.2,975.7 L1099.0,975.0 L1099.8,974.3 L1100.6,973.6 L1101.4,972.9 L1102.2,972.2 L1103.0,971.5 L1103.8,970.8 L1104.6,970.1 L1105.4,969.4 L1106.2,968.7 L1106.9,967.9 L1107.7,967.2 L1108.5,966.5 L1109.3,965.7 L1110.1,965.0 L1110.9,964.2 L1111.7,963.5 L1112.5,962.7 L1113.3,962.0 L1114.1,961.2 L1114.9,960.4 L1115.7,959.7 L1116.5,958.9 L1117.3,958.2 L1118.0,957.4 L1118.8,956.7 L1119.6,955.9 L1120.4,955.2 L1121.2,954.5 L1122.0,953.8 L1122.8,953.1 L1123.6,952.4 L1124.4,951.7 L1125.2,951.0 L1126.0,950.4 L1126.8,949.7 L1127.6,949.1 L1128.4,948.5 L1129.2,947.8 L1129.9,947.2 L1130.7,946.6 L1131.5,946.0 L1132.3,945.4 L1133.1,944.8 L1133.9,944.2 L1134.7,943.5 L1135.5,942.9 L1136.3,942.3 L1137.1,941.7 L1137.9,941.1 L1138.7,940.5 L1139.5,939.9 L1140.3,939.3 L1141.0,938.7 L1141.8,938.1 L1142.6,937.5 L1143.4,936.9 L1144.2,936.3 L1145.0,935.7 L1145.8,935.1 L1146.6,934.5 L1147.4,933.9 L1148.2,933.3 L1149.0,932.7 L1149.8,932.1 L1150.6,931.5 L1150.9,1031.7 L1151.7,1052.9 L1152.5,1062.7 L1153.3,1069.6 L1154.0,1074.9 L1154.8,1079.5 L1155.6,1084.2 L1156.4,1088.8 L1157.2,1093.1 L1158.0,1097.1 L1158.8,1100.9 L1159.6,1104.6 L1160.4,1108.1 L1161.2,1111.4 L1162.0,1114.7 L1162.7,1117.8 L1163.5,1120.8 L1164.3,1123.7 L1165.1,1126.5 L1165.9,1129.3 L1166.7,1132.0 L1167.5,1134.7 L1168.3,1137.3 L1169.1,1139.9 L1169.9,1142.4 L1170.6,1144.9 L1171.4,1147.3 L1172.2,1149.7 L1173.0,1152.0 L1173.8,1154.3 L1174.6,1156.7 L1175.4,1159.1 L1176.2,1161.5 L1177.0,1163.9 L1177.8,1166.4 L1178.6,1168.9 L1179.3,1171.5 L1180.1,1174.0 L1180.9,1176.6 L1181.7,1179.1 L1182.5,1181.7 L1183.3,1184.2 L1184.1,1186.8 L1184.9,1189.3 L1185.7,1191.8 L1186.5,1194.3 L1187.2,1196.8 L1188.0,1199.3 L1188.8,1201.7 L1189.6,1204.2 L1190.4,1206.6 L1191.2,1209.0 L1192.0,1211.5 L1192.8,1213.9 L1193.6,1216.3 L1194.4,1218.6 L1195.2,1221.0 L1195.9,1223.4 L1196.7,1225.7 L1197.5,1228.0 L1198.3,1230.3 L1199.1,1232.5 L1199.9,1234.8 L1200.7,1236.9 L1201.5,1239.1 L1202.3,1241.2 L1203.1,1243.3 L1203.9,1245.4 L1204.6,1247.5 L1205.4,1249.6 L1206.2,1251.7 L1207.0,1253.8 L1207.8,1256.0 L1208.6,1258.1 L1209.4,1260.3 L1210.2,1262.6 L1211.0,1264.8 L1211.8,1267.1 L1212.5,1269.4 L1213.3,1271.8 L1214.1,1274.2 L1214.9,1276.6 L1215.7,1279.0 L1216.5,1281.4 L1217.3,1283.8 L1218.1,1286.3 L1218.9,1288.7 L1219.7,1291.1 L1220.5,1293.6 L1221.2,1296.0 L1222.0,1298.5 L1222.8,1300.9 L1223.6,1303.3 L1224.4,1305.7 L1225.2,1308.1 L1226.0,1310.4 L1226.8,1312.8 L1227.6,1315.1 L1228.4,1317.4 L1229.2,1319.6 L1229.9,1321.9 L1230.7,1324.1 L1231.5,1326.3 L1232.3,1328.4 L1233.1,1330.6 L1233.9,1332.7 L1234.7,1334.9 L1235.5,1337.0 L1236.3,1339.1 L1237.1,1341.2 L1237.8,1343.3 L1238.6,1345.4 L1239.4,1347.5 L1240.2,1349.5 L1241.0,1351.6 L1241.8,1353.7 L1242.6,1355.9 L1243.4,1358.0 L1244.2,1360.1 L1245.0,1362.3 L1245.8,1364.4 L1246.5,1366.6 L1247.3,1368.8 L1248.1,1371.0 L1248.9,1373.3 L1249.7,1375.5 L1250.5,1377.8 L1251.3,1380.1 L1252.1,1382.4 L1252.9,1384.8 L1253.7,1387.1 L1254.5,1389.4 L1255.2,1391.8 L1256.0,1394.2 L1256.8,1396.6 L1257.6,1398.9 L1258.4,1401.3 L1259.2,1403.8 L1260.0,1406.2 L1260.8,1408.6 L1261.6,1411.1 L1262.4,1413.5 L1263.2,1416.0 L1263.9,1418.5 L1264.7,1421.0 L1265.5,1423.5 L1266.3,1426.0 L1267.1,1428.5 L1267.9,1431.0" fill="none" stroke="#00ff00" stroke-width="4.4" stroke-linejoin="round"/>
<path d="M997.5,1140.7 L998.3,1132.9 L999.1,1126.6 L999.9,1121.7 L1000.7,1117.5 L1001.5,1113.9 L1002.3,1111.0 L1003.0,1108.6 L1003.8,1106.4 L1004.6,1104.5 L1005.4,1102.8 L1006.2,1101.2 L1007.0,1099.7 L1007.8,1098.2 L1008.6,1096.8 L1009.4,1095.3 L1010.2,1093.8 L1011.0,1092.2 L1011.8,1090.5 L1012.5,1088.7 L1013.3,1087.0 L1014.1,1085.3 L1014.9,1083.6 L1015.7,1081.9 L1016.5,1080.2 L1017.3,1078.5 L1018.1,1076.8 L1018.9,1075.1 L1019.7,1073.4 L1020.5,1071.8 L1021.3,1070.1 L1022.0,1068.4 L1022.8,1066.8 L1023.6,1065.1 L1024.4,1063.5 L1025.2,1061.8 L1026.0,1060.2 L1026.8,1058.5 L1027.6,1056.9 L1028.4,1055.2 L1029.2,1053.6 L1030.0,1051.9 L1030.8,1050.3 L1031.5,1048.6 L1032.3,1046.9 L1033.1,1045.3 L1033.9,1043.5 L1034.7,1041.8 L1035.5,1040.1 L1036.3,1038.4 L1037.1,1036.7 L1037.9,1034.9 L1038.7,1033.2 L1039.5,1031.5 L1040.3,1029.9 L1041.0,1028.2 L1041.8,1026.6 L1042.6,1025.0 L1043.4,1023.4 L1044.2,1021.8 L1045.0,1020.3 L1045.8,1018.9 L1046.6,1017.4 L1047.4,1016.0 L1048.2,1014.5 L1049.0,1013.1 L1049.8,1011.8 L1050.5,1010.4 L1051.3,1009.0 L1052.1,1007.6 L1052.9,1006.3 L1053.7,1004.9 L1054.5,1003.5 L1055.3,1002.1 L1056.1,1000.7 L1056.9,999.2 L1057.7,997.8 L1058.5,996.3 L1059.3,994.8 L1060.0,993.2 L1060.8,991.7 L1061.6,990.2 L1062.4,988.7 L1063.2,987.2 L1064.0,985.7 L1064.8,984.3 L1065.6,982.9 L1066.4,981.5 L1067.2,980.2 L1068.0,979.0 L1068.8,977.9 L1069.5,976.8 L1070.3,975.7 L1071.1,974.7 L1071.9,973.7 L1072.7,972.8 L1073.5,971.9 L1074.3,971.0 L1075.1,970.1 L1075.9,969.2 L1076.7,968.3 L1077.5,967.4 L1078.3,966.5 L1079.0,965.6 L1079.8,964.7 L1080.6,963.7 L1081.4,962.7 L1082.2,961.6 L1083.0,960.5 L1083.8,959.4 L1084.6,958.3 L1085.4,957.1 L1086.2,956.0 L1087.0,954.9 L1087.8,953.8 L1088.5,952.8 L1089.3,951.8 L1090.1,950.9 L1090.9,950.1 L1091.7,949.3 L1092.5,948.6 L1093.3,947.8 L1094.1,947.2 L1094.9,946.5 L1095.7,945.9 L1096.5,945.2 L1097.3,944.6 L1098.0,944.0 L1098.8,943.4 L1099.6,942.8 L1100.4,942.2 L1101.2,941.6 L1102.0,941.0 L1102.8,940.5 L1103.6,939.9 L1104.4,939.3 L1105.2,938.8 L1106.0,938.2 L1106.8,937.7 L1107.5,937.1 L1108.3,936.5 L1109.1,936.0 L1109.9,935.4 L1110.7,934.8 L1111.5,934.3 L1112.3,933.7 L1113.1,933.2 L1113.9,932.6 L1114.7,932.0 L1115.5,931.5 L1116.1,1033.9 L1116.9,1042.8 L1117.7,1051.2 L1118.5,1058.7 L1119.3,1065.2 L1120.1,1070.9 L1120.9,1076.1 L1121.7,1081.0 L1122.5,1085.8 L1123.2,1090.8 L1124.0,1095.7 L1124.8,1100.6 L1125.6,1105.4 L1126.4,1110.0 L1127.2,1114.3 L1128.0,1118.3 L1128.8,1122.0 L1129.6,1125.5 L1130.4,1128.8 L1131.2,1131.9 L1132.0,1134.9 L1132.8,1137.9 L1133.6,1140.8 L1134.4,1143.7 L1135.2,1146.7 L1136.0,1149.8 L1136.8,1152.9 L1137.6,1156.1 L1138.3,1159.2 L1139.1,1162.4 L1139.9,1165.6 L1140.7,1168.7 L1141.5,1171.9 L1142.3,1175.0 L1143.1,1178.2 L1143.9,1181.4 L1144.7,1184.5 L1145.5,1187.7 L1146.3,1190.8 L1147.1,1193.9 L1147.9,1197.0 L1148.7,1200.1 L1149.5,1203.2 L1150.3,1206.3 L1151.1,1209.3 L1151.9,1212.4 L1152.6,1215.4 L1153.4,1218.4 L1154.2,1221.4 L1155.0,1224.4 L1155.8,1227.4 L1156.6,1230.4 L1157.4,1233.3 L1158.2,1236.3 L1159.0,1239.3 L1159.8,1242.2 L1160.6,1245.2 L1161.4,1248.1 L1162.2,1251.1 L1163.0,1254.1 L1163.8,1257.1 L1164.6,1260.1 L1165.4,1263.0 L1166.2,1266.1 L1167.0,1269.1 L1167.7,1272.1 L1168.5,1275.2 L1169.3,1278.2 L1170.1,1281.3 L1170.9,1284.4 L1171.7,1287.4 L1172.5,1290.5 L1173.3,1293.5 L1174.1,1296.6 L1174.9,1299.6 L1175.7,1302.6 L1176.5,1305.6 L1177.3,1308.5 L1178.1,1311.5 L1178.9,1314.3 L1179.7,1317.2 L1180.5,1320.0 L1181.3,1322.7 L1182.1,1325.4 L1182.8,1328.1 L1183.6,1330.6 L1184.4,1333.2 L1185.2,1335.7 L1186.0,1338.2 L1186.8,1340.7 L1187.6,1343.2 L1188.4,1345.7 L1189.2,1348.2 L1190.0,1350.7 L1190.8,1353.3 L1191.6,1355.8 L1192.4,1358.5 L1193.2,1361.2 L1194.0,1364.0 L1194.8,1366.8 L1195.6,1369.7 L1196.4,1372.7 L1197.2,1375.8 L1197.9,1379.0 L1198.7,1382.3 L1199.5,1385.6 L1200.3,1389.1 L1201.1,1392.6 L1201.9,1396.1 L1202.7,1399.8 L1203.5,1403.5 L1204.3,1407.3 L1205.1,1411.1 L1205.9,1415.0 L1206.7,1418.9 L1207.5,1422.9 L1208.3,1426.9 L1209.1,1431.0" fill="none" stroke="#0000ff" stroke-width="4.4" stroke-linejoin="round"/>
<path d="M997.5,1165.6 L998.3,1143.8 L999.1,1128.7 L999.9,1119.2 L1000.7,1115.5 L1001.5,1112.6 L1002.3,1110.3 L1003.1,1108.5 L1003.9,1107.0 L1004.7,1105.6 L1005.5,1104.3 L1006.3,1102.9 L1007.0,1101.2 L1007.8,1099.2 L1008.6,1097.2 L1009.4,1095.1 L1010.2,1093.1 L1011.0,1091.1 L1011.8,1089.0 L1012.6,1087.0 L1013.4,1085.0 L1014.2,1083.0 L1015.0,1081.0 L1015.8,1079.0 L1016.6,1077.0 L1017.4,1075.1 L1018.2,1073.1 L1019.0,1071.3 L1019.8,1069.4 L1020.6,1067.6 L1021.4,1065.8 L1022.2,1064.0 L1023.0,1062.3 L1023.8,1060.6 L1024.6,1058.9 L1025.4,1057.3 L1026.1,1055.6 L1026.9,1053.9 L1027.7,1052.2 L1028.5,1050.5 L1029.3,1048.7 L1030.1,1046.9 L1030.9,1045.1 L1031.7,1043.2 L1032.5,1041.3 L1033.3,1039.3 L1034.1,1037.3 L1034.9,1035.2 L1035.7,1033.1 L1036.5,1031.0 L1037.3,1028.8 L1038.1,1026.7 L1038.9,1024.5 L1039.7,1022.4 L1040.5,1020.2 L1041.3,1018.1 L1042.1,1016.1 L1042.9,1014.1 L1043.7,1012.1 L1044.5,1010.2 L1045.2,1008.3 L1046.0,1006.5 L1046.8,1004.6 L1047.6,1002.7 L1048.4,1000.9 L1049.2,999.1 L1050.0,997.3 L1050.8,995.5 L1051.6,993.8 L1052.4,992.1 L1053.2,990.4 L1054.0,988.8 L1054.8,987.2 L1055.6,985.7 L1056.4,984.2 L1057.2,982.8 L1058.0,981.3 L1058.8,980.0 L1059.6,978.6 L1060.4,977.3 L1061.2,976.1 L1062.0,974.8 L1062.8,973.6 L1063.6,972.3 L1064.3,971.1 L1065.1,969.9 L1065.9,968.7 L1066.7,967.5 L1067.5,966.3 L1068.3,965.1 L1069.1,963.8 L1069.9,962.6 L1070.7,961.4 L1071.5,960.2 L1072.3,959.0 L1073.1,957.8 L1073.9,956.6 L1074.7,955.4 L1075.5,954.3 L1076.3,953.1 L1077.1,952.0 L1077.9,950.8 L1078.7,949.7 L1079.5,948.6 L1080.3,947.5 L1081.1,946.4 L1081.9,945.4 L1082.7,944.4 L1083.4,943.5 L1084.2,942.6 L1085.0,941.7 L1085.8,940.8 L1086.6,939.9 L1087.4,939.1 L1088.2,938.3 L1089.0,937.4 L1089.8,936.6 L1090.6,935.7 L1091.4,934.9 L1092.2,934.0 L1093.0,933.2 L1093.8,932.3 L1094.6,931.5 L1094.9,1033.9 L1095.7,1045.3 L1096.5,1055.8 L1097.3,1065.0 L1098.1,1073.4 L1098.9,1081.2 L1099.7,1088.2 L1100.5,1094.6 L1101.3,1100.4 L1102.1,1105.8 L1102.8,1110.9 L1103.6,1116.0 L1104.4,1121.1 L1105.2,1126.3 L1106.0,1131.4 L1106.8,1136.3 L1107.6,1141.2 L1108.4,1145.9 L1109.2,1150.4 L1110.0,1154.7 L1110.8,1158.9 L1111.6,1163.0 L1112.4,1167.0 L1113.2,1170.8 L1114.0,1174.6 L1114.8,1178.2 L1115.6,1181.6 L1116.3,1184.9 L1117.1,1187.9 L1117.9,1190.7 L1118.7,1193.5 L1119.5,1196.3 L1120.3,1199.2 L1121.1,1202.2 L1121.9,1205.4 L1122.7,1208.8 L1123.5,1212.4 L1124.3,1216.1 L1125.1,1220.0 L1125.9,1224.0 L1126.7,1228.1 L1127.5,1232.2 L1128.3,1236.4 L1129.0,1240.6 L1129.8,1244.8 L1130.6,1249.0 L1131.4,1253.2 L1132.2,1257.3 L1133.0,1261.3 L1133.8,1265.3 L1134.6,1269.3 L1135.4,1273.3 L1136.2,1277.3 L1137.0,1281.3 L1137.8,1285.3 L1138.6,1289.3 L1139.4,1293.3 L1140.2,1297.2 L1141.0,1301.1 L1141.8,1305.0 L1142.5,1308.8 L1143.3,1312.6 L1144.1,1316.4 L1144.9,1320.0 L1145.7,1323.6 L1146.5,1327.0 L1147.3,1330.4 L1148.1,1333.8 L1148.9,1337.1 L1149.7,1340.4 L1150.5,1343.6 L1151.3,1346.9 L1152.1,1350.2 L1152.9,1353.5 L1153.7,1356.8 L1154.5,1360.2 L1155.3,1363.7 L1156.0,1367.3 L1156.8,1370.9 L1157.6,1374.7 L1158.4,1378.6 L1159.2,1382.6 L1160.0,1386.7 L1160.8,1390.8 L1161.6,1395.0 L1162.4,1399.3 L1163.2,1403.6 L1164.0,1408.0 L1164.8,1412.5 L1165.6,1417.1 L1166.4,1421.7 L1167.2,1426.3 L1168.0,1431.0" fill="none" stroke="#ff00ff" stroke-width="4.4" stroke-linejoin="round"/>
<path d="M997.5,1140.7 L998.3,1118.9 L999.1,1104.2 L999.9,1094.9 L1000.7,1090.4 L1001.5,1086.7 L1002.3,1083.6 L1003.1,1081.1 L1003.9,1078.9 L1004.7,1076.9 L1005.4,1075.0 L1006.2,1073.0 L1007.0,1070.7 L1007.8,1068.2 L1008.6,1065.8 L1009.4,1063.4 L1010.2,1061.0 L1011.0,1058.7 L1011.8,1056.4 L1012.6,1054.1 L1013.4,1051.8 L1014.2,1049.5 L1015.0,1047.2 L1015.8,1044.9 L1016.6,1042.6 L1017.4,1040.2 L1018.2,1037.7 L1019.0,1035.2 L1019.8,1032.7 L1020.5,1030.1 L1021.3,1027.5 L1022.1,1024.8 L1022.9,1022.1 L1023.7,1019.4 L1024.5,1016.6 L1025.3,1013.8 L1026.1,1011.0 L1026.9,1008.2 L1027.7,1005.3 L1028.5,1002.4 L1029.3,999.5 L1030.1,996.6 L1030.9,993.6 L1031.7,990.6 L1032.5,987.5 L1033.3,984.2 L1034.1,980.7 L1034.9,977.2 L1035.6,973.8 L1036.4,970.7 L1037.2,967.9 L1038.0,965.7 L1038.8,963.6 L1039.6,961.7 L1040.4,960.0 L1041.2,958.3 L1042.0,956.7 L1042.8,955.2 L1043.6,953.8 L1044.4,952.4 L1045.2,951.1 L1046.0,949.7 L1046.8,948.4 L1047.6,947.1 L1048.4,945.8 L1049.2,944.5 L1050.0,943.2 L1050.8,941.9 L1051.5,940.6 L1052.3,939.4 L1053.1,938.2 L1053.9,937.0 L1054.7,935.8 L1055.5,934.7 L1056.3,933.6 L1057.1,932.5 L1057.9,931.5 L1058.2,1025.1 L1059.0,1097.4 L1059.8,1106.1 L1060.6,1110.4 L1061.4,1115.1 L1062.2,1119.2 L1063.0,1122.5 L1063.8,1125.8 L1064.6,1129.9 L1065.4,1135.5 L1066.2,1142.6 L1067.0,1149.7 L1067.8,1156.1 L1068.6,1162.4 L1069.4,1168.6 L1070.2,1174.5 L1071.0,1180.2 L1071.8,1185.6 L1072.6,1190.7 L1073.4,1195.5 L1074.2,1200.3 L1075.0,1205.1 L1075.8,1210.0 L1076.6,1215.0 L1077.4,1220.1 L1078.2,1225.3 L1079.1,1230.6 L1079.9,1235.8 L1080.7,1241.1 L1081.5,1246.4 L1082.3,1251.7 L1083.1,1257.0 L1083.9,1262.2 L1084.7,1267.5 L1085.5,1272.7 L1086.3,1277.8 L1087.1,1283.0 L1087.9,1288.2 L1088.7,1293.4 L1089.5,1298.7 L1090.3,1304.0 L1091.1,1309.3 L1091.9,1314.8 L1092.7,1320.4 L1093.5,1325.9 L1094.3,1331.6 L1095.1,1337.2 L1095.9,1343.0 L1096.7,1348.8 L1097.5,1354.8 L1098.3,1360.9 L1099.1,1367.1 L1099.9,1373.5 L1100.7,1380.1 L1101.5,1386.9 L1102.3,1393.8 L1103.1,1400.9 L1103.9,1408.2 L1104.7,1415.7 L1105.5,1423.3 L1106.3,1431.0" fill="none" stroke="#ffff00" stroke-width="4.4" stroke-linejoin="round"/>
<path d="M997.5,1134.4 L998.3,1098.7 L999.1,1077.2 L999.9,1064.3 L1000.7,1059.0 L1001.5,1055.0 L1002.3,1052.1 L1003.1,1049.6 L1003.8,1047.3 L1004.6,1044.5 L1005.4,1041.2 L1006.2,1037.9 L1007.0,1034.6 L1007.8,1031.2 L1008.6,1027.9 L1009.4,1024.7 L1010.2,1021.5 L1011.0,1018.3 L1011.8,1015.2 L1012.6,1012.1 L1013.4,1009.1 L1014.2,1006.0 L1015.0,1003.0 L1015.8,1000.1 L1016.5,997.1 L1017.3,994.1 L1018.1,991.2 L1018.9,988.3 L1019.7,985.4 L1020.5,982.5 L1021.3,979.8 L1022.1,977.0 L1022.9,974.4 L1023.7,971.7 L1024.5,969.2 L1025.3,966.6 L1026.1,964.1 L1026.9,961.6 L1027.7,959.2 L1028.5,956.8 L1029.2,954.4 L1030.0,952.0 L1030.8,949.7 L1031.6,947.4 L1032.4,945.2 L1033.2,943.1 L1034.0,941.0 L1034.8,939.0 L1035.6,937.0 L1036.4,935.1 L1037.2,933.3 L1038.0,931.5 L1038.6,1025.1 L1039.4,1092.3 L1040.2,1107.4 L1041.0,1123.2 L1041.8,1134.8 L1042.6,1142.9 L1043.4,1150.5 L1044.2,1158.5 L1045.0,1166.5 L1045.8,1174.4 L1046.6,1182.0 L1047.4,1189.3 L1048.2,1196.4 L1049.0,1203.5 L1049.8,1210.6 L1050.6,1217.8 L1051.4,1225.0 L1052.2,1232.1 L1053.0,1239.3 L1053.8,1246.7 L1054.6,1254.3 L1055.4,1262.2 L1056.2,1270.5 L1057.0,1279.3 L1057.8,1288.3 L1058.6,1297.5 L1059.4,1306.6 L1060.2,1315.5 L1061.0,1324.0 L1061.8,1332.3 L1062.6,1340.4 L1063.4,1348.4 L1064.2,1356.6 L1065.0,1365.0 L1065.8,1373.7 L1066.6,1382.7 L1067.4,1391.9 L1068.2,1401.4 L1069.0,1411.1 L1069.8,1420.9 L1070.6,1431.0" fill="none" stroke="#000080" stroke-width="4.4" stroke-linejoin="round"/>
<rect x="997.9" y="869.0" width="694.6" height="562.0" fill="none" stroke="#000" stroke-width="4.6"/>
<text x="975.0" y="1440.5" font-family="Liberation Serif, serif" font-weight="bold" font-size="36" text-anchor="end">0.0</text>
<line x1="997.9" y1="1399.8" x2="1007.9" y2="1399.8" stroke="#000" stroke-width="4.8"/>
<line x1="997.9" y1="1368.6" x2="1017.4" y2="1368.6" stroke="#000" stroke-width="4.8"/>
<text x="975.0" y="1378.1" font-family="Liberation Serif, serif" font-weight="bold" font-size="36" text-anchor="end">0.2</text>
<line x1="997.9" y1="1337.3" x2="1007.9" y2="1337.3" stroke="#000" stroke-width="4.8"/>
<line x1="997.9" y1="1306.1" x2="1017.4" y2="1306.1" stroke="#000" stroke-width="4.8"/>
<text x="975.0" y="1315.6" font-family="Liberation Serif, serif" font-weight="bold" font-size="36" text-anchor="end">0.4</text>
<line x1="997.9" y1="1274.9" x2="1007.9" y2="1274.9" stroke="#000" stroke-width="4.8"/>
<line x1="997.9" y1="1243.7" x2="1017.4" y2="1243.7" stroke="#000" stroke-width="4.8"/>
<text x="975.0" y="1253.2" font-family="Liberation Serif, serif" font-weight="bold" font-size="36" text-anchor="end">0.6</text>
<line x1="997.9" y1="1212.5" x2="1007.9" y2="1212.5" stroke="#000" stroke-width="4.8"/>
<line x1="997.9" y1="1181.2" x2="1017.4" y2="1181.2" stroke="#000" stroke-width="4.8"/>
<text x="975.0" y="1190.7" font-family="Liberation Serif, serif" font-weight="bold" font-size="36" text-anchor="end">0.8</text>
<line x1="997.9" y1="1150.0" x2="1007.9" y2="1150.0" stroke="#000" stroke-width="4.8"/>
<line x1="997.9" y1="1118.8" x2="1017.4" y2="1118.8" stroke="#000" stroke-width="4.8"/>
<text x="975.0" y="1128.3" font-family="Liberation Serif, serif" font-weight="bold" font-size="36" text-anchor="end">1.0</text>
<line x1="997.9" y1="1087.6" x2="1007.9" y2="1087.6" stroke="#000" stroke-width="4.8"/>
<line x1="997.9" y1="1056.4" x2="1017.4" y2="1056.4" stroke="#000" stroke-width="4.8"/>
<text x="975.0" y="1065.9" font-family="Liberation Serif, serif" font-weight="bold" font-size="36" text-anchor="end">1.2</text>
<line x1="997.9" y1="1025.1" x2="1007.9" y2="1025.1" stroke="#000" stroke-width="4.8"/>
<line x1="997.9" y1="993.9" x2="1017.4" y2="993.9" stroke="#000" stroke-width="4.8"/>
<text x="975.0" y="1003.4" font-family="Liberation Serif, serif" font-weight="bold" font-size="36" text-anchor="end">1.4</text>
<line x1="997.9" y1="962.7" x2="1007.9" y2="962.7" stroke="#000" stroke-width="4.8"/>
<line x1="997.9" y1="931.5" x2="1017.4" y2="931.5" stroke="#000" stroke-width="4.8"/>
<text x="975.0" y="941.0" font-family="Liberation Serif, serif" font-weight="bold" font-size="36" text-anchor="end">1.6</text>
<line x1="997.9" y1="900.3" x2="1007.9" y2="900.3" stroke="#000" stroke-width="4.8"/>
<text x="975.0" y="878.5" font-family="Liberation Serif, serif" font-weight="bold" font-size="36" text-anchor="end">1.8</text>
<text x="997.5" y="1480.0" font-family="Liberation Serif, serif" font-weight="bold" font-size="36" text-anchor="middle">0</text>
<line x1="1029.1" y1="1431.0" x2="1029.1" y2="1421.0" stroke="#000" stroke-width="4.8"/>
<line x1="1060.8" y1="1431.0" x2="1060.8" y2="1410.1" stroke="#000" stroke-width="4.8"/>
<text x="1060.8" y="1480.0" font-family="Liberation Serif, serif" font-weight="bold" font-size="36" text-anchor="middle">20</text>
<line x1="1092.4" y1="1431.0" x2="1092.4" y2="1421.0" stroke="#000" stroke-width="4.8"/>
<line x1="1124.0" y1="1431.0" x2="1124.0" y2="1410.1" stroke="#000" stroke-width="4.8"/>
<text x="1124.0" y="1480.0" font-family="Liberation Serif, serif" font-weight="bold" font-size="36" text-anchor="middle">40</text>
<line x1="1155.6" y1="1431.0" x2="1155.6" y2="1421.0" stroke="#000" stroke-width="4.8"/>
<line x1="1187.2" y1="1431.0" x2="1187.2" y2="1410.1" stroke="#000" stroke-width="4.8"/>
<text x="1187.2" y="1480.0" font-family="Liberation Serif, serif" font-weight="bold" font-size="36" text-anchor="middle">60</text>
<line x1="1218.9" y1="1431.0" x2="1218.9" y2="1421.0" stroke="#000" stroke-width="4.8"/>
<line x1="1250.5" y1="1431.0" x2="1250.5" y2="1410.1" stroke="#000" stroke-width="4.8"/>
<text x="1250.5" y="1480.0" font-family="Liberation Serif, serif" font-weight="bold" font-size="36" text-anchor="middle">80</text>
<line x1="1282.1" y1="1431.0" x2="1282.1" y2="1421.0" stroke="#000" stroke-width="4.8"/>
<line x1="1313.8" y1="1431.0" x2="1313.8" y2="1410.1" stroke="#000" stroke-width="4.8"/>
<text x="1313.8" y="1480.0" font-family="Liberation Serif, serif" font-weight="bold" font-size="36" text-anchor="middle">100</text>
<line x1="1345.4" y1="1431.0" x2="1345.4" y2="1421.0" stroke="#000" stroke-width="4.8"/>
<line x1="1377.0" y1="1431.0" x2="1377.0" y2="1410.1" stroke="#000" stroke-width="4.8"/>
<text x="1377.0" y="1480.0" font-family="Liberation Serif, serif" font-weight="bold" font-size="36" text-anchor="middle">120</text>
<line x1="1408.6" y1="1431.0" x2="1408.6" y2="1421.0" stroke="#000" stroke-width="4.8"/>
<line x1="1440.2" y1="1431.0" x2="1440.2" y2="1410.1" stroke="#000" stroke-width="4.8"/>
<text x="1440.2" y="1480.0" font-family="Liberation Serif, serif" font-weight="bold" font-size="36" text-anchor="middle">140</text>
<line x1="1471.9" y1="1431.0" x2="1471.9" y2="1421.0" stroke="#000" stroke-width="4.8"/>
<line x1="1503.5" y1="1431.0" x2="1503.5" y2="1410.1" stroke="#000" stroke-width="4.8"/>
<text x="1503.5" y="1480.0" font-family="Liberation Serif, serif" font-weight="bold" font-size="36" text-anchor="middle">160</text>
<line x1="1535.1" y1="1431.0" x2="1535.1" y2="1421.0" stroke="#000" stroke-width="4.8"/>
<line x1="1566.8" y1="1431.0" x2="1566.8" y2="1410.1" stroke="#000" stroke-width="4.8"/>
<text x="1566.8" y="1480.0" font-family="Liberation Serif, serif" font-weight="bold" font-size="36" text-anchor="middle">180</text>
<line x1="1598.4" y1="1431.0" x2="1598.4" y2="1421.0" stroke="#000" stroke-width="4.8"/>
<line x1="1630.0" y1="1431.0" x2="1630.0" y2="1410.1" stroke="#000" stroke-width="4.8"/>
<text x="1630.0" y="1480.0" font-family="Liberation Serif, serif" font-weight="bold" font-size="36" text-anchor="middle">200</text>
<line x1="1661.6" y1="1431.0" x2="1661.6" y2="1421.0" stroke="#000" stroke-width="4.8"/>
<text x="1693.2" y="1480.0" font-family="Liberation Serif, serif" font-weight="bold" font-size="36" text-anchor="middle">220</text>
<text transform="translate(912.7,1150.3) rotate(-90)" font-family="Liberation Serif, serif" font-weight="bold" font-size="36.8" text-anchor="middle">Potential (V)</text>
<text x="1345.5" y="1543.0" font-family="Liberation Serif, serif" font-weight="bold" font-size="36.8" text-anchor="middle">Time (s)</text>
<text x="1140.0" y="908.5" font-family="Liberation Serif, serif" font-weight="bold" font-size="34.6" text-anchor="start">NiCoS@CNT@Graphene//AC</text>
<line x1="1490.0" y1="956.1" x2="1559.7" y2="956.1" stroke="#000000" stroke-width="4.3"/>
<text x="1565.0" y="965.8" font-family="Liberation Serif, serif" font-weight="bold" font-size="34.5" text-anchor="start" word-spacing="3">2.0 A/g</text>
<line x1="1490.0" y1="998.7" x2="1559.7" y2="998.7" stroke="#ff0000" stroke-width="4.3"/>
<text x="1565.0" y="1008.4" font-family="Liberation Serif, serif" font-weight="bold" font-size="34.5" text-anchor="start" word-spacing="3">2.5 A/g</text>
<line x1="1490.0" y1="1041.8" x2="1559.7" y2="1041.8" stroke="#00ff00" stroke-width="4.3"/>
<text x="1565.0" y="1051.5" font-family="Liberation Serif, serif" font-weight="bold" font-size="34.5" text-anchor="start" word-spacing="3">3.0 A/g</text>
<line x1="1490.0" y1="1084.7" x2="1559.7" y2="1084.7" stroke="#0000ff" stroke-width="4.3"/>
<text x="1565.0" y="1094.4" font-family="Liberation Serif, serif" font-weight="bold" font-size="34.5" text-anchor="start" word-spacing="3">3.5 A/g</text>
<line x1="1490.0" y1="1121.1" x2="1559.7" y2="1121.1" stroke="#ff00ff" stroke-width="4.3"/>
<text x="1565.0" y="1130.8" font-family="Liberation Serif, serif" font-weight="bold" font-size="34.5" text-anchor="start" word-spacing="3">4.0 A/g</text>
<line x1="1490.0" y1="1165.5" x2="1559.7" y2="1165.5" stroke="#ffff00" stroke-width="4.3"/>
<text x="1565.0" y="1175.2" font-family="Liberation Serif, serif" font-weight="bold" font-size="34.5" text-anchor="start" word-spacing="3">4.5 A/g</text>
<line x1="1490.0" y1="1208.5" x2="1559.7" y2="1208.5" stroke="#000080" stroke-width="4.3"/>
<text x="1565.0" y="1218.2" font-family="Liberation Serif, serif" font-weight="bold" font-size="34.5" text-anchor="start" word-spacing="3">5.0 A/g</text>
<text x="995" y="849" font-family="Liberation Serif, serif" font-weight="bold" font-size="66.5">(d)</text>
</svg>
</body></html>
